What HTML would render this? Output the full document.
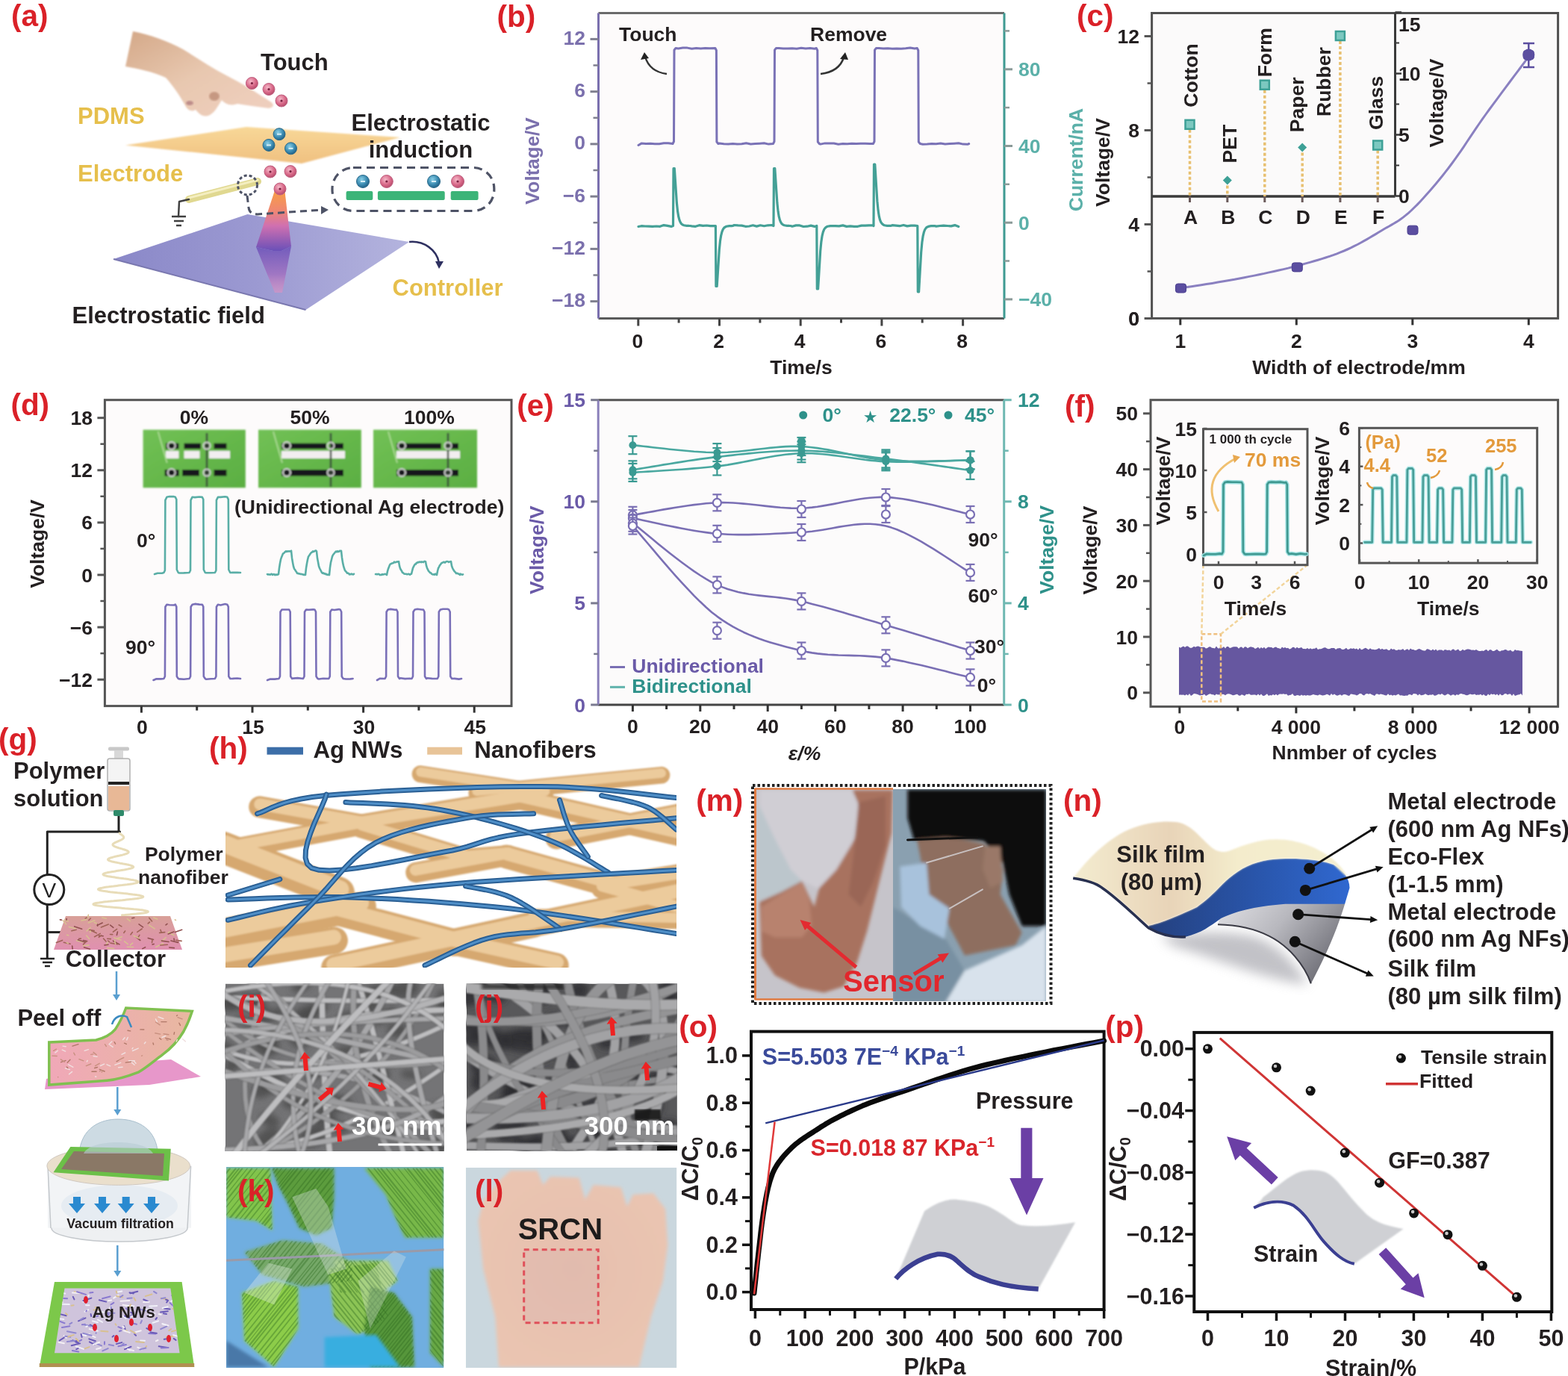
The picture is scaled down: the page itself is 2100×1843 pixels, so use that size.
<!DOCTYPE html><html><head><meta charset="utf-8"><style>html,body{margin:0;padding:0;background:#fff;}svg{display:block;}text{font-family:"Liberation Sans","DejaVu Sans",sans-serif;}</style></head><body>
<svg width="2100" height="1843" viewBox="0 0 2100 1843">
<rect width="2100" height="1843" fill="#ffffff"/>
<defs>
<filter id="blur1" x="-5%" y="-5%" width="110%" height="110%"><feGaussianBlur stdDeviation="0.8"/></filter>
<filter id="blur2" x="-5%" y="-5%" width="110%" height="110%"><feGaussianBlur stdDeviation="2"/></filter>
<filter id="blur3" x="-20%" y="-20%" width="140%" height="140%"><feGaussianBlur stdDeviation="4"/></filter>
<filter id="blur4" x="-20%" y="-20%" width="140%" height="140%"><feGaussianBlur stdDeviation="8"/></filter>
<linearGradient id="gphoto" x1="0" y1="0" x2="1" y2="1"><stop offset="0" stop-color="#7cc860" stop-opacity="0.5"/><stop offset="1" stop-color="#4ea43a" stop-opacity="0.5"/></linearGradient>
<radialGradient id="gpink" cx="0.4" cy="0.35" r="0.7"><stop offset="0" stop-color="#f4b8c8"/><stop offset="0.6" stop-color="#d86888"/><stop offset="1" stop-color="#b04868"/></radialGradient>
<radialGradient id="gblue" cx="0.4" cy="0.35" r="0.7"><stop offset="0" stop-color="#8ad0e8"/><stop offset="0.6" stop-color="#3a8ab0"/><stop offset="1" stop-color="#1e5a80"/></radialGradient>
<linearGradient id="gplane" x1="0" y1="0" x2="1" y2="0"><stop offset="0" stop-color="#8a88c8"/><stop offset="0.5" stop-color="#9c9ad2"/><stop offset="1" stop-color="#b4b4de"/></linearGradient>
<linearGradient id="gcone" x1="0" y1="0" x2="0" y2="1"><stop offset="0" stop-color="#f8a040"/><stop offset="0.35" stop-color="#f08870"/><stop offset="0.6" stop-color="#d070b0"/><stop offset="1" stop-color="#6a50b8"/></linearGradient>
<linearGradient id="gcone2" x1="0" y1="0" x2="0" y2="1"><stop offset="0" stop-color="#6a50b8"/><stop offset="0.6" stop-color="#a070c0"/><stop offset="1" stop-color="#e890c0" stop-opacity="0.6"/></linearGradient>
<linearGradient id="gpdms" x1="0" y1="0" x2="0" y2="1"><stop offset="0" stop-color="#f8d898"/><stop offset="1" stop-color="#f0c080"/></linearGradient>
<linearGradient id="ghand" x1="0" y1="0" x2="1" y2="1"><stop offset="0" stop-color="#d4a888"/><stop offset="0.5" stop-color="#e8c8b0"/><stop offset="1" stop-color="#f0d0c0"/></linearGradient>
<linearGradient id="gmat" x1="0" y1="0" x2="0" y2="1"><stop offset="0" stop-color="#d8a098"/><stop offset="1" stop-color="#e090b0"/></linearGradient>
<linearGradient id="gpeel" x1="0" y1="0" x2="1" y2="0"><stop offset="0" stop-color="#f0a8b8"/><stop offset="1" stop-color="#e8b8a0"/></linearGradient>
<linearGradient id="gnw" x1="0" y1="0" x2="1" y2="1"><stop offset="0" stop-color="#d8c8e0"/><stop offset="1" stop-color="#c8c0d8"/></linearGradient>
<radialGradient id="gskin" cx="0.5" cy="0.5" r="0.7"><stop offset="0" stop-color="#e6bfae"/><stop offset="1" stop-color="#ebc6b2"/></radialGradient>
<linearGradient id="ggray" x1="0" y1="0" x2="1" y2="0.6"><stop offset="0" stop-color="#e4e4e8"/><stop offset="0.5" stop-color="#b8b8be"/><stop offset="1" stop-color="#707078"/></linearGradient>
<linearGradient id="gnblue" x1="0" y1="0" x2="1" y2="0"><stop offset="0" stop-color="#24407e"/><stop offset="0.6" stop-color="#2a58b0"/><stop offset="1" stop-color="#3068d0"/></linearGradient>
<linearGradient id="gcream" x1="0" y1="0" x2="1" y2="0"><stop offset="0" stop-color="#f4ecd0"/><stop offset="0.35" stop-color="#e8d4b8"/><stop offset="0.6" stop-color="#f4eccc"/><stop offset="1" stop-color="#f4eed0"/></linearGradient>
</defs>
<polygon points="152,347 331.5,287 548,324 409.5,415" fill="url(#gplane)"/>
<line x1="152.0" y1="347.0" x2="409.5" y2="415.0" stroke="#7a78b0" stroke-width="2"/>
<path d="M369,252 L381,252 L390,330 L377,336 L366,336 L343,331 Z" fill="url(#gcone)"/>
<path d="M343,331 L366,336 L377,336 L390,330 L378,392 L368,392 Z" fill="url(#gcone2)" opacity="0.85"/>
<polygon points="168,194.5 330,170 536,184 404,219" fill="url(#gpdms)" filter="url(#blur1)"/>
<path d="M178,42 C200,46 225,55 245,66 C265,78 285,92 305,102 C325,112 345,125 362,136 C368,140 367,144 360,145 C345,143 330,141 318,139 C310,142 302,140 297,134 C292,142 287,152 279,155 C271,157 266,152 262,147 C257,150 252,148 249,143 C242,130 232,115 222,104 C205,96 185,92 168,89 Z" fill="url(#ghand)" filter="url(#blur1)"/>
<ellipse cx="287" cy="129" rx="7" ry="6" fill="#a87058" opacity="0.55" filter="url(#blur1)"/>
<ellipse cx="254" cy="138" rx="5" ry="3" fill="#905060" opacity="0.5" filter="url(#blur1)"/>
<circle cx="337.4" cy="111.5" r="8" fill="url(#gpink)" stroke="#c06080" stroke-width="1"/>
<circle cx="337.4" cy="111.5" r="1.6" fill="#7a2040" stroke="none" stroke-width="0"/>
<circle cx="360.0" cy="119.5" r="8" fill="url(#gpink)" stroke="#c06080" stroke-width="1"/>
<circle cx="360.0" cy="119.5" r="1.6" fill="#7a2040" stroke="none" stroke-width="0"/>
<circle cx="377.0" cy="135.0" r="8" fill="url(#gpink)" stroke="#c06080" stroke-width="1"/>
<circle cx="377.0" cy="135.0" r="1.6" fill="#7a2040" stroke="none" stroke-width="0"/>
<circle cx="374.0" cy="179.7" r="8" fill="url(#gblue)" stroke="#2a6a8a" stroke-width="1"/>
<line x1="371.0" y1="179.7" x2="377.0" y2="179.7" stroke="#d8f0f8" stroke-width="2"/>
<circle cx="360.0" cy="194.4" r="8" fill="url(#gblue)" stroke="#2a6a8a" stroke-width="1"/>
<line x1="357.0" y1="194.4" x2="363.0" y2="194.4" stroke="#d8f0f8" stroke-width="2"/>
<circle cx="389.5" cy="198.8" r="8" fill="url(#gblue)" stroke="#2a6a8a" stroke-width="1"/>
<line x1="386.5" y1="198.8" x2="392.5" y2="198.8" stroke="#d8f0f8" stroke-width="2"/>
<circle cx="362.0" cy="230.0" r="8" fill="url(#gpink)" stroke="#c06080" stroke-width="1"/>
<circle cx="362.0" cy="230.0" r="1.6" fill="#7a2040" stroke="none" stroke-width="0"/>
<circle cx="389.0" cy="229.6" r="8" fill="url(#gpink)" stroke="#c06080" stroke-width="1"/>
<circle cx="389.0" cy="229.6" r="1.6" fill="#7a2040" stroke="none" stroke-width="0"/>
<circle cx="375.0" cy="253.0" r="8" fill="url(#gpink)" stroke="#c06080" stroke-width="1"/>
<circle cx="375.0" cy="253.0" r="1.6" fill="#7a2040" stroke="none" stroke-width="0"/>
<line x1="253" y1="267" x2="345" y2="243" stroke="#e0d890" stroke-width="10" stroke-linecap="round"/>
<line x1="253" y1="265" x2="345" y2="241" stroke="#f4eec0" stroke-width="3" stroke-linecap="round"/>
<polyline points="253.0,267.0 240.0,270.0 239.0,290.0" fill="none" stroke="#404040" stroke-width="2.5" stroke-linejoin="round" stroke-linecap="round"/>
<line x1="230.0" y1="290.0" x2="249.0" y2="290.0" stroke="#404040" stroke-width="2.5"/>
<line x1="233.0" y1="296.0" x2="246.0" y2="296.0" stroke="#404040" stroke-width="2.5"/>
<line x1="236.0" y1="302.0" x2="243.0" y2="302.0" stroke="#404040" stroke-width="2.5"/>
<circle cx="331.5" cy="248.0" r="13.0" fill="none" stroke="#4e5366" stroke-width="3" stroke-dasharray="4 3"/>
<path d="M331,262 L333,278 C334,285 338,287 345,287 L432,281" fill="none" stroke="#4e5366" stroke-width="3" stroke-dasharray="9 6"/>
<polygon points="440.0,281.0 430.0,276.0 430.0,287.0" fill="#4e5366" stroke="none" stroke-width="0"/>
<rect x="445" y="224.5" width="216.8" height="58" rx="28" fill="none" stroke="#4e5366" stroke-width="3.2" stroke-dasharray="11 7"/>
<rect x="463.6" y="256.0" width="35.7" height="12.0" fill="#3cb478" stroke="none" stroke-width="0" rx="2"/>
<rect x="505.9" y="256.0" width="89.8" height="12.0" fill="#3cb478" stroke="none" stroke-width="0" rx="2"/>
<rect x="603.7" y="256.0" width="36.9" height="12.0" fill="#3cb478" stroke="none" stroke-width="0" rx="2"/>
<circle cx="486.0" cy="243.0" r="8.5" fill="url(#gblue)" stroke="#2a6a8a" stroke-width="1"/>
<line x1="483.0" y1="243.0" x2="489.0" y2="243.0" stroke="#d8f0f8" stroke-width="2"/>
<circle cx="517.8" cy="243.0" r="8.5" fill="url(#gpink)" stroke="#c06080" stroke-width="1"/>
<circle cx="517.8" cy="243.0" r="1.6" fill="#7a2040" stroke="none" stroke-width="0"/>
<circle cx="581.0" cy="243.0" r="8.5" fill="url(#gblue)" stroke="#2a6a8a" stroke-width="1"/>
<line x1="578.0" y1="243.0" x2="584.0" y2="243.0" stroke="#d8f0f8" stroke-width="2"/>
<circle cx="613.0" cy="243.0" r="8.5" fill="url(#gpink)" stroke="#c06080" stroke-width="1"/>
<circle cx="613.0" cy="243.0" r="1.6" fill="#7a2040" stroke="none" stroke-width="0"/>
<path d="M548,324 C568,322 585,335 588,352" fill="none" stroke="#2e3060" stroke-width="2.5"/>
<polygon points="588.0,360.0 583.0,350.0 594.0,350.0" fill="#2e3060" stroke="none" stroke-width="0"/>
<text x="349.0" y="94.0" font-size="31" fill="#231f20" text-anchor="start" font-weight="bold">Touch</text>
<text x="104.0" y="166.0" font-size="31" fill="#e6bf4c" text-anchor="start" font-weight="bold">PDMS</text>
<text x="104.0" y="242.5" font-size="31" fill="#e6bf4c" text-anchor="start" font-weight="bold">Electrode</text>
<text x="563.5" y="174.6" font-size="31" fill="#231f20" text-anchor="middle" font-weight="bold">Electrostatic</text>
<text x="563.5" y="210.6" font-size="31" fill="#231f20" text-anchor="middle" font-weight="bold">induction</text>
<text x="525.5" y="395.5" font-size="31" fill="#e6bf4c" text-anchor="start" font-weight="bold">Controller</text>
<text x="96.5" y="433.0" font-size="31" fill="#231f20" text-anchor="start" font-weight="bold">Electrostatic field</text>
<rect x="801.5" y="17.5" width="543.5" height="409.0" fill="#fdfbfb" stroke="none" stroke-width="0"/>
<line x1="801.5" y1="17.5" x2="1345.0" y2="17.5" stroke="#6b6b6b" stroke-width="3"/>
<line x1="801.5" y1="426.5" x2="1345.0" y2="426.5" stroke="#5a5a5a" stroke-width="3"/>
<line x1="801.5" y1="17.5" x2="801.5" y2="426.5" stroke="#7a6fae" stroke-width="3"/>
<line x1="1345.0" y1="17.5" x2="1345.0" y2="426.5" stroke="#3e9a92" stroke-width="3"/>
<line x1="790.5" y1="52.4" x2="801.5" y2="52.4" stroke="#7f7f8f" stroke-width="3"/>
<line x1="790.5" y1="122.7" x2="801.5" y2="122.7" stroke="#7f7f8f" stroke-width="3"/>
<line x1="790.5" y1="192.9" x2="801.5" y2="192.9" stroke="#7f7f8f" stroke-width="3"/>
<line x1="790.5" y1="263.1" x2="801.5" y2="263.1" stroke="#7f7f8f" stroke-width="3"/>
<line x1="790.5" y1="333.4" x2="801.5" y2="333.4" stroke="#7f7f8f" stroke-width="3"/>
<line x1="790.5" y1="403.6" x2="801.5" y2="403.6" stroke="#7f7f8f" stroke-width="3"/>
<line x1="794.5" y1="87.5" x2="801.5" y2="87.5" stroke="#7f7f8f" stroke-width="2.5"/>
<line x1="794.5" y1="157.8" x2="801.5" y2="157.8" stroke="#7f7f8f" stroke-width="2.5"/>
<line x1="794.5" y1="228.0" x2="801.5" y2="228.0" stroke="#7f7f8f" stroke-width="2.5"/>
<line x1="794.5" y1="298.2" x2="801.5" y2="298.2" stroke="#7f7f8f" stroke-width="2.5"/>
<line x1="794.5" y1="368.5" x2="801.5" y2="368.5" stroke="#7f7f8f" stroke-width="2.5"/>
<text x="784.0" y="59.9" font-size="26.5" fill="#7b70ad" text-anchor="end" font-weight="bold">12</text>
<text x="784.0" y="130.2" font-size="26.5" fill="#7b70ad" text-anchor="end" font-weight="bold">6</text>
<text x="784.0" y="200.4" font-size="26.5" fill="#7b70ad" text-anchor="end" font-weight="bold">0</text>
<text x="784.0" y="270.6" font-size="26.5" fill="#7b70ad" text-anchor="end" font-weight="bold">−6</text>
<text x="784.0" y="340.9" font-size="26.5" fill="#7b70ad" text-anchor="end" font-weight="bold">−12</text>
<text x="784.0" y="411.1" font-size="26.5" fill="#7b70ad" text-anchor="end" font-weight="bold">−18</text>
<line x1="1345.0" y1="92.8" x2="1356.0" y2="92.8" stroke="#8a9a98" stroke-width="3"/>
<line x1="1345.0" y1="195.5" x2="1356.0" y2="195.5" stroke="#8a9a98" stroke-width="3"/>
<line x1="1345.0" y1="298.2" x2="1356.0" y2="298.2" stroke="#8a9a98" stroke-width="3"/>
<line x1="1345.0" y1="400.9" x2="1356.0" y2="400.9" stroke="#8a9a98" stroke-width="3"/>
<line x1="1345.0" y1="41.4" x2="1352.0" y2="41.4" stroke="#8a9a98" stroke-width="2.5"/>
<line x1="1345.0" y1="144.1" x2="1352.0" y2="144.1" stroke="#8a9a98" stroke-width="2.5"/>
<line x1="1345.0" y1="246.8" x2="1352.0" y2="246.8" stroke="#8a9a98" stroke-width="2.5"/>
<line x1="1345.0" y1="349.5" x2="1352.0" y2="349.5" stroke="#8a9a98" stroke-width="2.5"/>
<text x="1364.0" y="102.3" font-size="26.5" fill="#5bb0a9" text-anchor="start" font-weight="bold">80</text>
<text x="1364.0" y="205.0" font-size="26.5" fill="#5bb0a9" text-anchor="start" font-weight="bold">40</text>
<text x="1364.0" y="307.7" font-size="26.5" fill="#5bb0a9" text-anchor="start" font-weight="bold">0</text>
<text x="1364.0" y="410.4" font-size="26.5" fill="#5bb0a9" text-anchor="start" font-weight="bold">−40</text>
<line x1="854.8" y1="426.5" x2="854.8" y2="436.5" stroke="#444" stroke-width="3"/>
<line x1="963.5" y1="426.5" x2="963.5" y2="436.5" stroke="#444" stroke-width="3"/>
<line x1="1072.2" y1="426.5" x2="1072.2" y2="436.5" stroke="#444" stroke-width="3"/>
<line x1="1180.9" y1="426.5" x2="1180.9" y2="436.5" stroke="#444" stroke-width="3"/>
<line x1="1289.6" y1="426.5" x2="1289.6" y2="436.5" stroke="#444" stroke-width="3"/>
<line x1="909.1" y1="426.5" x2="909.1" y2="432.5" stroke="#444" stroke-width="3"/>
<line x1="1017.9" y1="426.5" x2="1017.9" y2="432.5" stroke="#444" stroke-width="3"/>
<line x1="1126.5" y1="426.5" x2="1126.5" y2="432.5" stroke="#444" stroke-width="3"/>
<line x1="1235.2" y1="426.5" x2="1235.2" y2="432.5" stroke="#444" stroke-width="3"/>
<text x="853.8" y="466.0" font-size="26.5" fill="#231f20" text-anchor="middle" font-weight="bold">0</text>
<text x="962.5" y="466.0" font-size="26.5" fill="#231f20" text-anchor="middle" font-weight="bold">2</text>
<text x="1071.2" y="466.0" font-size="26.5" fill="#231f20" text-anchor="middle" font-weight="bold">4</text>
<text x="1179.9" y="466.0" font-size="26.5" fill="#231f20" text-anchor="middle" font-weight="bold">6</text>
<text x="1288.6" y="466.0" font-size="26.5" fill="#231f20" text-anchor="middle" font-weight="bold">8</text>
<text x="1073.0" y="501.0" font-size="26.5" fill="#231f20" text-anchor="middle" font-weight="bold">Time/s</text>
<text x="722.0" y="215.6" font-size="26" fill="#7b70ad" text-anchor="middle" font-weight="bold" transform="rotate(-90 722.0 215.6)">Voltage/V</text>
<polyline points="855.0,194.5 859.0,192.1 865.0,192.6 871.0,192.3 877.0,192.7 883.0,192.7 889.0,191.8 895.0,191.7 901.0,192.5 902.5,189.5 903.0,67.0 905.0,64.5 908.5,65.0 914.5,64.1 920.5,64.1 926.5,65.3 932.5,64.5 938.5,65.0 944.5,64.5 950.5,64.7 957.9,64.5 959.4,67.5 959.9,190.0 961.9,192.5 963.4,191.9 969.4,192.7 975.4,193.1 981.4,192.5 987.4,192.9 993.4,192.8 999.4,191.8 1005.4,192.9 1011.4,192.6 1017.4,192.2 1023.4,191.7 1029.4,193.1 1035.5,192.5 1037.0,189.5 1037.5,67.0 1039.5,64.5 1043.0,64.5 1049.0,64.9 1055.0,65.1 1061.0,64.8 1067.0,65.2 1073.0,64.3 1079.0,65.0 1085.0,64.4 1091.0,65.2 1093.3,64.5 1094.8,67.5 1095.3,190.0 1097.3,192.5 1098.8,193.1 1104.8,191.9 1110.8,191.9 1116.8,192.0 1122.8,193.2 1128.8,192.4 1134.8,192.7 1140.8,192.2 1146.8,192.5 1152.8,192.3 1158.8,192.3 1164.8,192.6 1169.5,192.5 1171.0,189.5 1171.5,67.0 1173.5,64.5 1177.0,64.6 1183.0,65.1 1189.0,64.8 1195.0,65.2 1201.0,65.1 1207.0,65.3 1213.0,64.8 1219.0,64.0 1225.0,65.1 1228.3,64.5 1229.8,67.5 1230.3,190.0 1232.3,192.5 1235.8,193.2 1241.8,193.1 1247.8,192.6 1253.8,192.8 1259.8,192.0 1265.8,193.0 1271.8,192.6 1277.8,192.2 1283.8,191.8 1289.8,193.1 1295.8,193.3 1297.7,192.5" fill="none" stroke="#7a72b6" stroke-width="3.0" stroke-linejoin="round" stroke-linecap="round"/>
<polyline points="855.0,303.5 859.0,302.7 864.0,303.0 869.0,303.1 874.0,303.4 879.0,303.0 884.0,303.3 889.0,301.6 894.0,302.4 899.0,303.4 901.5,302.5 902.0,225.7 903.3,225.7 905.2,254.1 906.4,272.0 907.6,283.3 908.8,290.4 910.0,294.9 911.2,297.7 912.4,299.5 913.6,300.6 914.8,301.3 916.0,301.7 917.2,302.0 918.4,302.2 919.6,302.3 920.8,302.4 922.0,302.4 923.2,302.5 924.4,302.5 926.5,302.8 931.5,303.3 936.5,301.7 941.5,302.4 946.5,302.0 951.5,302.6 956.5,302.6 958.4,302.5 958.9,383.5 960.2,383.5 962.1,353.6 963.3,334.7 964.5,322.8 965.7,315.3 966.9,310.6 968.1,307.6 969.3,305.7 970.5,304.5 971.7,303.8 972.9,303.3 974.1,303.0 975.3,302.8 976.5,302.7 977.7,302.6 978.9,302.6 980.1,302.6 981.3,302.5 983.4,301.5 988.4,301.9 993.4,302.1 998.4,303.3 1003.4,303.0 1008.4,301.8 1013.4,303.1 1018.4,301.8 1023.4,302.7 1028.4,301.8 1033.4,301.5 1036.0,302.5 1036.5,225.7 1037.8,225.7 1039.7,254.1 1040.9,272.0 1042.1,283.3 1043.3,290.4 1044.5,294.9 1045.7,297.7 1046.9,299.5 1048.1,300.6 1049.3,301.3 1050.5,301.7 1051.7,302.0 1052.9,302.2 1054.1,302.3 1055.3,302.4 1056.5,302.4 1057.7,302.5 1058.9,302.5 1061.0,303.2 1066.0,301.9 1071.0,301.9 1076.0,303.5 1081.0,303.2 1086.0,302.1 1091.0,303.4 1093.8,302.5 1094.3,387.0 1095.6,387.0 1097.5,355.8 1098.7,336.1 1099.9,323.7 1101.1,315.8 1102.3,310.9 1103.5,307.8 1104.7,305.8 1105.9,304.6 1107.1,303.8 1108.3,303.3 1109.5,303.0 1110.7,302.8 1111.9,302.7 1113.1,302.6 1114.3,302.6 1115.5,302.6 1116.7,302.5 1118.8,302.6 1123.8,302.9 1128.8,301.9 1133.8,303.4 1138.8,302.9 1143.8,303.4 1148.8,303.3 1153.8,302.1 1158.8,302.2 1163.8,301.8 1168.8,301.8 1170.0,302.5 1170.5,220.0 1171.8,220.0 1173.7,250.5 1174.9,269.7 1176.1,281.8 1177.3,289.5 1178.5,294.3 1179.7,297.3 1180.9,299.2 1182.1,300.4 1183.3,301.2 1184.5,301.7 1185.7,302.0 1186.9,302.2 1188.1,302.3 1189.3,302.4 1190.5,302.4 1191.7,302.4 1192.9,302.5 1195.0,301.6 1200.0,302.1 1205.0,302.7 1210.0,301.5 1215.0,302.9 1220.0,302.2 1225.0,302.1 1228.8,302.5 1229.3,390.8 1230.6,390.8 1232.5,358.2 1233.7,337.6 1234.9,324.6 1236.1,316.4 1237.3,311.3 1238.5,308.0 1239.7,306.0 1240.9,304.7 1242.1,303.9 1243.3,303.4 1244.5,303.1 1245.7,302.8 1246.9,302.7 1248.1,302.6 1249.3,302.6 1250.5,302.6 1251.7,302.5 1253.8,303.1 1258.8,302.5 1263.8,302.1 1268.8,302.5 1273.8,302.9 1278.8,301.6 1283.8,303.5" fill="none" stroke="#44a096" stroke-width="3.2" stroke-linejoin="round" stroke-linecap="round"/>
<text x="829.0" y="55.0" font-size="26.5" fill="#231f20" text-anchor="start" font-weight="bold">Touch</text>
<text x="1085.0" y="55.0" font-size="26.5" fill="#231f20" text-anchor="start" font-weight="bold">Remove</text>
<path d="M893,99 Q870,96 864,76" fill="none" stroke="#333" stroke-width="2.5"/>
<polygon points="863.0,70.0 858.0,80.0 869.0,78.0" fill="#222" stroke="none" stroke-width="0"/>
<path d="M1099,99 Q1124,96 1130,77" fill="none" stroke="#333" stroke-width="2.5"/>
<polygon points="1132.0,70.0 1125.0,79.0 1136.0,80.0" fill="#222" stroke="none" stroke-width="0"/>
<rect x="1542.6" y="17.5" width="544.0" height="408.9" fill="#fbfafa" stroke="none" stroke-width="0"/>
<rect x="1542.6" y="17.5" width="544.0" height="408.9" fill="none" stroke="#505050" stroke-width="3"/>
<line x1="1532.6" y1="48.5" x2="1542.6" y2="48.5" stroke="#555" stroke-width="3"/>
<line x1="1532.6" y1="174.5" x2="1542.6" y2="174.5" stroke="#555" stroke-width="3"/>
<line x1="1532.6" y1="300.5" x2="1542.6" y2="300.5" stroke="#555" stroke-width="3"/>
<line x1="1532.6" y1="426.5" x2="1542.6" y2="426.5" stroke="#555" stroke-width="3"/>
<line x1="1536.6" y1="111.5" x2="1542.6" y2="111.5" stroke="#555" stroke-width="2.5"/>
<line x1="1536.6" y1="237.5" x2="1542.6" y2="237.5" stroke="#555" stroke-width="2.5"/>
<line x1="1536.6" y1="363.5" x2="1542.6" y2="363.5" stroke="#555" stroke-width="2.5"/>
<text x="1526.0" y="58.0" font-size="26.5" fill="#231f20" text-anchor="end" font-weight="bold">12</text>
<text x="1526.0" y="184.0" font-size="26.5" fill="#231f20" text-anchor="end" font-weight="bold">8</text>
<text x="1526.0" y="310.0" font-size="26.5" fill="#231f20" text-anchor="end" font-weight="bold">4</text>
<text x="1526.0" y="436.0" font-size="26.5" fill="#231f20" text-anchor="end" font-weight="bold">0</text>
<text x="1526.0" y="435.9" font-size="26.5" fill="#231f20" text-anchor="end" font-weight="bold">0</text>
<line x1="1580.8" y1="426.4" x2="1580.8" y2="435.4" stroke="#333" stroke-width="3"/>
<line x1="1736.3" y1="426.4" x2="1736.3" y2="435.4" stroke="#333" stroke-width="3"/>
<line x1="1891.8" y1="426.4" x2="1891.8" y2="435.4" stroke="#333" stroke-width="3"/>
<line x1="2047.3" y1="426.4" x2="2047.3" y2="435.4" stroke="#333" stroke-width="3"/>
<text x="1580.8" y="466.0" font-size="26.5" fill="#231f20" text-anchor="middle" font-weight="bold">1</text>
<text x="1736.3" y="466.0" font-size="26.5" fill="#231f20" text-anchor="middle" font-weight="bold">2</text>
<text x="1891.8" y="466.0" font-size="26.5" fill="#231f20" text-anchor="middle" font-weight="bold">3</text>
<text x="2047.3" y="466.0" font-size="26.5" fill="#231f20" text-anchor="middle" font-weight="bold">4</text>
<text x="1820.0" y="500.7" font-size="26.5" fill="#231f20" text-anchor="middle" font-weight="bold">Width of electrode/mm</text>
<text x="1486.0" y="217.5" font-size="26.5" fill="#231f20" text-anchor="middle" font-weight="bold" transform="rotate(-90 1486.0 217.5)">Voltage/V</text>
<text x="1449.5" y="214.0" font-size="26.5" fill="#5bb0a9" text-anchor="middle" font-weight="bold" transform="rotate(-90 1449.5 214.0)">Current/nA</text>
<line x1="1868.5" y1="17.5" x2="1868.5" y2="263.0" stroke="#3a3a3a" stroke-width="3"/>
<line x1="1542.6" y1="263.0" x2="1868.5" y2="263.0" stroke="#3a3a3a" stroke-width="3.5"/>
<line x1="1868.5" y1="262.5" x2="1877.0" y2="262.5" stroke="#3a3a3a" stroke-width="2.5"/>
<line x1="1868.5" y1="180.5" x2="1877.0" y2="180.5" stroke="#3a3a3a" stroke-width="2.5"/>
<line x1="1868.5" y1="98.5" x2="1877.0" y2="98.5" stroke="#3a3a3a" stroke-width="2.5"/>
<line x1="1868.5" y1="16.5" x2="1877.0" y2="16.5" stroke="#3a3a3a" stroke-width="2.5"/>
<line x1="1868.5" y1="221.5" x2="1874.0" y2="221.5" stroke="#3a3a3a" stroke-width="2"/>
<line x1="1868.5" y1="139.5" x2="1874.0" y2="139.5" stroke="#3a3a3a" stroke-width="2"/>
<line x1="1868.5" y1="57.5" x2="1874.0" y2="57.5" stroke="#3a3a3a" stroke-width="2"/>
<text x="1873.0" y="272.0" font-size="26.5" fill="#231f20" text-anchor="start" font-weight="bold">0</text>
<text x="1873.0" y="190.0" font-size="26.5" fill="#231f20" text-anchor="start" font-weight="bold">5</text>
<text x="1873.0" y="108.0" font-size="26.5" fill="#231f20" text-anchor="start" font-weight="bold">10</text>
<text x="1873.0" y="42.0" font-size="26.5" fill="#231f20" text-anchor="start" font-weight="bold">15</text>
<text x="1933.0" y="138.0" font-size="26.5" fill="#231f20" text-anchor="middle" font-weight="bold" transform="rotate(-90 1933.0 138.0)">Voltage/V</text>
<line x1="1593.5" y1="166.8" x2="1593.5" y2="263.0" stroke="#e8c070" stroke-width="3.5" stroke-dasharray="4 3"/>
<line x1="1593.5" y1="263.0" x2="1593.5" y2="271.0" stroke="#6a5a5a" stroke-width="3"/>
<text x="1594.5" y="299.7" font-size="26.5" fill="#231f20" text-anchor="middle" font-weight="bold">A</text>
<line x1="1643.8" y1="241.4" x2="1643.8" y2="263.0" stroke="#e8c070" stroke-width="3.5" stroke-dasharray="4 3"/>
<line x1="1643.8" y1="263.0" x2="1643.8" y2="271.0" stroke="#6a5a5a" stroke-width="3"/>
<text x="1644.8" y="299.7" font-size="26.5" fill="#231f20" text-anchor="middle" font-weight="bold">B</text>
<line x1="1693.8" y1="113.7" x2="1693.8" y2="263.0" stroke="#e8c070" stroke-width="3.5" stroke-dasharray="4 3"/>
<line x1="1693.8" y1="263.0" x2="1693.8" y2="271.0" stroke="#6a5a5a" stroke-width="3"/>
<text x="1694.8" y="299.7" font-size="26.5" fill="#231f20" text-anchor="middle" font-weight="bold">C</text>
<line x1="1744.2" y1="197.6" x2="1744.2" y2="263.0" stroke="#e8c070" stroke-width="3.5" stroke-dasharray="4 3"/>
<line x1="1744.2" y1="263.0" x2="1744.2" y2="271.0" stroke="#6a5a5a" stroke-width="3"/>
<text x="1745.2" y="299.7" font-size="26.5" fill="#231f20" text-anchor="middle" font-weight="bold">D</text>
<line x1="1794.9" y1="48.0" x2="1794.9" y2="263.0" stroke="#e8c070" stroke-width="3.5" stroke-dasharray="4 3"/>
<line x1="1794.9" y1="263.0" x2="1794.9" y2="271.0" stroke="#6a5a5a" stroke-width="3"/>
<text x="1795.9" y="299.7" font-size="26.5" fill="#231f20" text-anchor="middle" font-weight="bold">E</text>
<line x1="1845.2" y1="194.5" x2="1845.2" y2="263.0" stroke="#e8c070" stroke-width="3.5" stroke-dasharray="4 3"/>
<line x1="1845.2" y1="263.0" x2="1845.2" y2="271.0" stroke="#6a5a5a" stroke-width="3"/>
<text x="1846.2" y="299.7" font-size="26.5" fill="#231f20" text-anchor="middle" font-weight="bold">F</text>
<rect x="1587.5" y="160.8" width="12.0" height="12.0" fill="#7cc8c0" stroke="#3da096" stroke-width="2.5"/>
<polygon points="1643.8,235.4 1649.8,241.4 1643.8,247.4 1637.8,241.4" fill="#3da096" stroke="none" stroke-width="0"/>
<rect x="1687.8" y="107.7" width="12.0" height="12.0" fill="#7cc8c0" stroke="#3da096" stroke-width="2.5"/>
<polygon points="1744.2,191.6 1750.2,197.6 1744.2,203.6 1738.2,197.6" fill="#3da096" stroke="none" stroke-width="0"/>
<rect x="1788.9" y="42.0" width="12.0" height="12.0" fill="#7cc8c0" stroke="#3da096" stroke-width="2.5"/>
<rect x="1839.2" y="188.5" width="12.0" height="12.0" fill="#7cc8c0" stroke="#3da096" stroke-width="2.5"/>
<text x="1604.2" y="101.0" font-size="26.5" fill="#231f20" text-anchor="middle" font-weight="bold" transform="rotate(-90 1604.2 101.0)">Cotton</text>
<text x="1655.6" y="192.6" font-size="26.5" fill="#231f20" text-anchor="middle" font-weight="bold" transform="rotate(-90 1655.6 192.6)">PET</text>
<text x="1703.5" y="70.2" font-size="26.5" fill="#231f20" text-anchor="middle" font-weight="bold" transform="rotate(-90 1703.5 70.2)">Form</text>
<text x="1746.0" y="140.3" font-size="26.5" fill="#231f20" text-anchor="middle" font-weight="bold" transform="rotate(-90 1746.0 140.3)">Paper</text>
<text x="1782.3" y="109.6" font-size="26.5" fill="#231f20" text-anchor="middle" font-weight="bold" transform="rotate(-90 1782.3 109.6)">Rubber</text>
<text x="1852.5" y="137.8" font-size="26.5" fill="#231f20" text-anchor="middle" font-weight="bold" transform="rotate(-90 1852.5 137.8)">Glass</text>
<polyline points="1581.5,386.0 1585.3,385.4 1590.1,384.6 1595.6,383.8 1601.9,382.8 1608.7,381.7 1615.9,380.6 1623.4,379.4 1631.0,378.1 1638.6,376.8 1646.1,375.5 1653.3,374.3 1660.0,373.0 1666.5,371.7 1673.1,370.4 1679.8,369.1 1686.4,367.7 1693.0,366.4 1699.6,364.9 1706.2,363.5 1712.7,362.0 1719.0,360.6 1725.3,359.1 1731.4,357.5 1737.3,356.0 1743.1,354.5 1748.7,352.9 1754.3,351.4 1759.8,349.8 1765.1,348.2 1770.4,346.6 1775.5,345.0 1780.6,343.3 1785.6,341.6 1790.5,339.8 1795.3,337.9 1800.0,336.0 1804.6,334.0 1809.2,331.9 1813.6,329.7 1818.0,327.5 1822.2,325.2 1826.4,322.9 1830.5,320.6 1834.5,318.3 1838.5,315.9 1842.4,313.6 1846.2,311.3 1850.0,309.0 1853.7,306.8 1857.1,304.8 1860.5,303.0 1863.7,301.1 1866.9,299.3 1870.0,297.4 1873.1,295.4 1876.3,293.2 1879.5,290.9 1882.9,288.2 1886.3,285.3 1890.0,282.0 1893.8,278.3 1897.8,274.4 1901.8,270.2 1905.9,265.8 1910.1,261.1 1914.4,256.3 1918.7,251.3 1923.0,246.2 1927.3,241.0 1931.6,235.7 1935.8,230.4 1940.0,225.0 1944.1,219.5 1948.2,213.9 1952.3,208.2 1956.4,202.3 1960.5,196.3 1964.5,190.2 1968.6,184.1 1972.8,177.9 1977.0,171.7 1981.2,165.5 1985.6,159.2 1990.0,153.0 1994.7,146.5 1999.8,139.6 2005.2,132.3 2010.7,124.9 2016.3,117.4 2021.8,110.0 2027.1,102.9 2032.2,96.1 2036.8,90.0 2041.0,84.4 2044.5,79.7 2047.3,76.0" fill="none" stroke="#8a80c0" stroke-width="3" stroke-linejoin="round" stroke-linecap="round"/>
<rect x="1574.5" y="380.0" width="14.0" height="12.0" fill="#5b4ea0" stroke="#4a3f90" stroke-width="1" rx="3"/>
<rect x="1730.3" y="351.9" width="14.0" height="12.0" fill="#5b4ea0" stroke="#4a3f90" stroke-width="1" rx="3"/>
<rect x="1885.0" y="302.2" width="14.0" height="12.0" fill="#5b4ea0" stroke="#4a3f90" stroke-width="1" rx="3"/>
<rect x="2040.3" y="67.6" width="14.0" height="12.0" fill="#5b4ea0" stroke="#4a3f90" stroke-width="1" rx="3"/>
<line x1="2047.3" y1="58.0" x2="2047.3" y2="90.0" stroke="#5b4ea0" stroke-width="2.5"/>
<line x1="2040.0" y1="58.0" x2="2055.0" y2="58.0" stroke="#5b4ea0" stroke-width="2.5"/>
<line x1="2040.0" y1="90.0" x2="2055.0" y2="90.0" stroke="#5b4ea0" stroke-width="2.5"/>
<circle cx="2047.3" cy="73.6" r="8.0" fill="#5b4ea0" stroke="none" stroke-width="0"/>
<rect x="140.4" y="535.7" width="544.6" height="409.9" fill="#fdfbfb" stroke="none" stroke-width="0"/>
<rect x="140.4" y="535.7" width="544.6" height="409.9" fill="none" stroke="#555" stroke-width="3"/>
<line x1="130.4" y1="559.7" x2="140.4" y2="559.7" stroke="#555" stroke-width="3"/>
<line x1="130.4" y1="629.8" x2="140.4" y2="629.8" stroke="#555" stroke-width="3"/>
<line x1="130.4" y1="699.9" x2="140.4" y2="699.9" stroke="#555" stroke-width="3"/>
<line x1="130.4" y1="770.0" x2="140.4" y2="770.0" stroke="#555" stroke-width="3"/>
<line x1="130.4" y1="840.1" x2="140.4" y2="840.1" stroke="#555" stroke-width="3"/>
<line x1="130.4" y1="910.2" x2="140.4" y2="910.2" stroke="#555" stroke-width="3"/>
<line x1="134.4" y1="594.7" x2="140.4" y2="594.7" stroke="#555" stroke-width="2.5"/>
<line x1="134.4" y1="664.8" x2="140.4" y2="664.8" stroke="#555" stroke-width="2.5"/>
<line x1="134.4" y1="734.9" x2="140.4" y2="734.9" stroke="#555" stroke-width="2.5"/>
<line x1="134.4" y1="805.0" x2="140.4" y2="805.0" stroke="#555" stroke-width="2.5"/>
<line x1="134.4" y1="875.1" x2="140.4" y2="875.1" stroke="#555" stroke-width="2.5"/>
<text x="124.0" y="569.2" font-size="26.5" fill="#231f20" text-anchor="end" font-weight="bold">18</text>
<text x="124.0" y="639.3" font-size="26.5" fill="#231f20" text-anchor="end" font-weight="bold">12</text>
<text x="124.0" y="709.4" font-size="26.5" fill="#231f20" text-anchor="end" font-weight="bold">6</text>
<text x="124.0" y="779.5" font-size="26.5" fill="#231f20" text-anchor="end" font-weight="bold">0</text>
<text x="124.0" y="849.6" font-size="26.5" fill="#231f20" text-anchor="end" font-weight="bold">−6</text>
<text x="124.0" y="919.7" font-size="26.5" fill="#231f20" text-anchor="end" font-weight="bold">−12</text>
<line x1="189.4" y1="945.6" x2="189.4" y2="954.6" stroke="#333" stroke-width="3"/>
<line x1="338.0" y1="945.6" x2="338.0" y2="954.6" stroke="#333" stroke-width="3"/>
<line x1="486.6" y1="945.6" x2="486.6" y2="954.6" stroke="#333" stroke-width="3"/>
<line x1="635.2" y1="945.6" x2="635.2" y2="954.6" stroke="#333" stroke-width="3"/>
<line x1="263.7" y1="945.6" x2="263.7" y2="951.6" stroke="#333" stroke-width="3"/>
<line x1="412.3" y1="945.6" x2="412.3" y2="951.6" stroke="#333" stroke-width="3"/>
<line x1="560.9" y1="945.6" x2="560.9" y2="951.6" stroke="#333" stroke-width="3"/>
<text x="190.4" y="982.6" font-size="26.5" fill="#231f20" text-anchor="middle" font-weight="bold">0</text>
<text x="339.0" y="982.6" font-size="26.5" fill="#231f20" text-anchor="middle" font-weight="bold">15</text>
<text x="487.6" y="982.6" font-size="26.5" fill="#231f20" text-anchor="middle" font-weight="bold">30</text>
<text x="636.2" y="982.6" font-size="26.5" fill="#231f20" text-anchor="middle" font-weight="bold">45</text>
<text x="59.5" y="728.4" font-size="26.5" fill="#231f20" text-anchor="middle" font-weight="bold" transform="rotate(-90 59.5 728.4)">Voltage/V</text>
<text x="260.0" y="568.0" font-size="26.5" fill="#231f20" text-anchor="middle" font-weight="bold">0%</text>
<text x="415.0" y="568.0" font-size="26.5" fill="#231f20" text-anchor="middle" font-weight="bold">50%</text>
<text x="575.0" y="568.0" font-size="26.5" fill="#231f20" text-anchor="middle" font-weight="bold">100%</text>
<text x="314.0" y="688.0" font-size="26.5" fill="#231f20" text-anchor="start" font-weight="bold">(Unidirectional Ag electrode)</text>
<text x="183.0" y="732.6" font-size="26.5" fill="#231f20" text-anchor="start" font-weight="bold">0°</text>
<text x="168.0" y="876.4" font-size="26.5" fill="#231f20" text-anchor="start" font-weight="bold">90°</text>
<g filter="url(#blur1)">
<rect x="191.7" y="575.7" width="137.0" height="77.5" fill="#67b94a" stroke="none" stroke-width="0"/>
<rect x="191.7" y="575.7" width="137.0" height="77.5" fill="url(#gphoto)" stroke="none" stroke-width="0"/>
<rect x="222.0" y="593.7" width="17.5" height="7.5" fill="#15181a" stroke="none" stroke-width="0"/>
<rect x="246.5" y="593.7" width="22.5" height="7.5" fill="#15181a" stroke="none" stroke-width="0"/>
<rect x="274.0" y="593.7" width="6.0" height="7.5" fill="#15181a" stroke="none" stroke-width="0"/>
<rect x="286.5" y="593.7" width="17.0" height="7.5" fill="#15181a" stroke="none" stroke-width="0"/>
<rect x="222.0" y="604.0" width="17.5" height="10.0" fill="#f2eef0" stroke="none" stroke-width="0"/>
<rect x="246.5" y="604.0" width="21.0" height="10.0" fill="#f2eef0" stroke="none" stroke-width="0"/>
<rect x="280.0" y="604.0" width="28.0" height="10.0" fill="#f2eef0" stroke="none" stroke-width="0"/>
<rect x="220.7" y="629.0" width="19.0" height="8.5" fill="#15181a" stroke="none" stroke-width="0"/>
<rect x="244.0" y="629.0" width="23.0" height="8.5" fill="#15181a" stroke="none" stroke-width="0"/>
<rect x="274.0" y="629.0" width="6.0" height="8.5" fill="#15181a" stroke="none" stroke-width="0"/>
<rect x="286.5" y="629.0" width="17.0" height="8.5" fill="#15181a" stroke="none" stroke-width="0"/>
<line x1="277.0" y1="580.0" x2="277.0" y2="652.0" stroke="#3b4a3a" stroke-width="2.5"/>
<circle cx="229.7" cy="597.0" r="5.0" fill="none" stroke="#d8d8d8" stroke-width="2"/>
<circle cx="277.0" cy="597.0" r="4.5" fill="none" stroke="#d8d8d8" stroke-width="2"/>
<circle cx="229.7" cy="633.0" r="5.0" fill="none" stroke="#d8d8d8" stroke-width="2"/>
<circle cx="277.0" cy="633.0" r="4.5" fill="none" stroke="#d8d8d8" stroke-width="2"/>
<line x1="211.7" y1="578.0" x2="223.7" y2="620.0" stroke="#a8d890" stroke-width="2"/>
<rect x="346.0" y="575.7" width="137.7" height="77.5" fill="#67b94a" stroke="none" stroke-width="0"/>
<rect x="346.0" y="575.7" width="137.7" height="77.5" fill="url(#gphoto)" stroke="none" stroke-width="0"/>
<rect x="377.0" y="593.7" width="60.0" height="7.5" fill="#15181a" stroke="none" stroke-width="0"/>
<rect x="443.0" y="593.7" width="17.0" height="7.5" fill="#15181a" stroke="none" stroke-width="0"/>
<rect x="377.0" y="604.0" width="85.0" height="10.0" fill="#f2eef0" stroke="none" stroke-width="0"/>
<rect x="377.0" y="629.0" width="83.0" height="8.5" fill="#15181a" stroke="none" stroke-width="0"/>
<line x1="443.0" y1="580.0" x2="443.0" y2="652.0" stroke="#3b4a3a" stroke-width="2.5"/>
<circle cx="384.0" cy="597.0" r="5.0" fill="none" stroke="#d8d8d8" stroke-width="2"/>
<circle cx="443.0" cy="597.0" r="4.5" fill="none" stroke="#d8d8d8" stroke-width="2"/>
<circle cx="384.0" cy="633.0" r="5.0" fill="none" stroke="#d8d8d8" stroke-width="2"/>
<circle cx="443.0" cy="633.0" r="4.5" fill="none" stroke="#d8d8d8" stroke-width="2"/>
<line x1="366.0" y1="578.0" x2="378.0" y2="620.0" stroke="#a8d890" stroke-width="2"/>
<rect x="500.0" y="575.7" width="139.0" height="77.5" fill="#67b94a" stroke="none" stroke-width="0"/>
<rect x="500.0" y="575.7" width="139.0" height="77.5" fill="url(#gphoto)" stroke="none" stroke-width="0"/>
<rect x="531.0" y="593.7" width="60.0" height="7.5" fill="#15181a" stroke="none" stroke-width="0"/>
<rect x="597.0" y="593.7" width="17.0" height="7.5" fill="#15181a" stroke="none" stroke-width="0"/>
<rect x="531.0" y="604.0" width="85.0" height="10.0" fill="#f2eef0" stroke="none" stroke-width="0"/>
<rect x="531.0" y="629.0" width="83.0" height="8.5" fill="#15181a" stroke="none" stroke-width="0"/>
<line x1="600.0" y1="580.0" x2="600.0" y2="652.0" stroke="#3b4a3a" stroke-width="2.5"/>
<circle cx="538.0" cy="597.0" r="5.0" fill="none" stroke="#d8d8d8" stroke-width="2"/>
<circle cx="600.0" cy="597.0" r="4.5" fill="none" stroke="#d8d8d8" stroke-width="2"/>
<circle cx="538.0" cy="633.0" r="5.0" fill="none" stroke="#d8d8d8" stroke-width="2"/>
<circle cx="600.0" cy="633.0" r="4.5" fill="none" stroke="#d8d8d8" stroke-width="2"/>
<line x1="520.0" y1="578.0" x2="532.0" y2="620.0" stroke="#a8d890" stroke-width="2"/>
</g>
<polyline points="207.0,769.0 211.0,767.7 217.0,767.7 219.4,767.0 220.9,764.0 221.4,669.8 223.4,665.8 226.9,665.1 232.9,665.1 234.8,665.8 236.3,668.8 236.8,763.0 238.8,767.0 240.3,767.5 246.3,767.4 253.5,767.0 255.0,764.0 255.5,669.8 257.5,665.8 261.0,666.1 267.0,665.5 270.8,665.8 272.3,668.8 272.8,763.0 274.8,767.0 276.3,767.2 282.3,767.2 287.9,767.0 289.4,764.0 289.9,669.8 291.9,665.8 295.4,665.9 301.4,665.3 304.3,665.8 305.8,668.8 306.3,763.0 308.3,767.0 311.8,766.9 317.8,766.8 322.0,767.0" fill="none" stroke="#5aaea6" stroke-width="2.6" stroke-linejoin="round" stroke-linecap="round"/>
<polyline points="358.0,769.1 359.0,769.6 360.0,769.3 361.0,769.6 362.0,769.7 363.0,768.9 364.0,768.8 365.0,770.0 366.0,769.2 367.0,769.1 368.0,770.2 369.0,769.5 370.0,770.0 371.0,769.5 372.0,769.7 373.0,769.0 374.0,760.7 375.0,754.5 376.0,749.4 377.0,746.4 378.0,743.9 379.0,741.4 380.0,741.1 381.0,740.0 382.0,739.0 383.0,738.2 384.0,739.0 385.0,738.2 386.0,738.4 387.0,738.5 388.0,738.2 389.0,738.4 390.0,737.7 391.0,747.2 392.0,753.2 393.0,758.5 394.0,761.7 395.0,763.0 396.0,764.7 397.0,766.0 398.0,767.9 399.0,767.8 400.0,768.5 401.0,768.4 402.0,768.9 403.0,768.9 404.0,769.0 405.0,769.4 406.0,769.5 407.0,770.0 408.0,769.7 409.0,770.0 410.0,760.9 411.0,754.7 412.0,749.6 413.0,745.6 414.0,744.2 415.0,742.6 416.0,741.3 417.0,740.0 418.0,739.6 419.0,738.4 420.0,739.0 421.0,738.4 422.0,737.8 423.0,737.4 424.0,738.4 425.0,747.6 426.0,752.7 427.0,758.3 428.0,761.0 429.0,763.0 430.0,764.9 431.0,766.8 432.0,767.8 433.0,767.3 434.0,768.5 435.0,768.1 436.0,769.2 437.0,768.8 438.0,769.7 439.0,770.0 440.0,769.4 441.0,770.1 442.0,760.1 443.0,753.4 444.0,749.5 445.0,745.4 446.0,743.3 447.0,741.9 448.0,740.9 449.0,739.4 450.0,738.6 451.0,739.3 452.0,738.2 453.0,738.9 454.0,738.7 455.0,737.8 456.0,737.9 457.0,737.9 458.0,747.0 459.0,753.4 460.0,757.9 461.0,761.3 462.0,764.1 463.0,765.2 464.0,766.3 465.0,767.6 466.0,767.6 467.0,768.1 468.0,769.4 469.0,768.9 470.0,769.2 471.0,768.5 472.0,769.2 473.0,769.5 474.0,768.7" fill="none" stroke="#5aaea6" stroke-width="2.6" stroke-linejoin="round" stroke-linecap="round"/>
<polyline points="503.0,769.1 504.0,768.9 505.0,769.4 506.0,769.0 507.0,768.9 508.0,769.4 509.0,770.1 510.0,769.9 511.0,769.9 512.0,769.1 513.0,769.6 514.0,769.2 515.0,769.0 516.0,768.9 517.0,769.1 518.0,770.1 519.0,765.1 520.0,761.7 521.0,759.2 522.0,756.6 523.0,755.4 524.0,755.0 525.0,754.5 526.0,754.2 527.0,753.9 528.0,752.5 529.0,753.1 530.0,753.1 531.0,752.7 532.0,752.2 533.0,752.6 534.0,752.0 535.0,758.0 536.0,761.3 537.0,763.3 538.0,764.8 539.0,766.9 540.0,767.3 541.0,768.4 542.0,768.8 543.0,768.7 544.0,768.8 545.0,769.2 546.0,769.1 547.0,768.8 548.0,769.1 549.0,769.8 550.0,768.8 551.0,768.8 552.0,764.8 553.0,760.9 554.0,758.8 555.0,756.9 556.0,755.5 557.0,755.5 558.0,753.7 559.0,753.6 560.0,752.9 561.0,753.3 562.0,752.6 563.0,752.6 564.0,753.1 565.0,752.4 566.0,752.7 567.0,753.1 568.0,752.0 569.0,751.9 570.0,752.2 571.0,757.7 572.0,760.9 573.0,762.9 574.0,764.8 575.0,765.8 576.0,767.1 577.0,767.2 578.0,768.6 579.0,769.2 580.0,769.5 581.0,769.4 582.0,769.8 583.0,768.6 584.0,769.0 585.0,770.0 586.0,765.0 587.0,761.0 588.0,759.3 589.0,757.1 590.0,756.1 591.0,754.5 592.0,753.7 593.0,753.6 594.0,752.8 595.0,752.9 596.0,753.6 597.0,752.6 598.0,752.0 599.0,752.0 600.0,752.2 601.0,753.0 602.0,752.4 603.0,752.2 604.0,752.0 605.0,758.0 606.0,760.7 607.0,762.8 608.0,764.4 609.0,765.7 610.0,766.7 611.0,768.1 612.0,767.8 613.0,768.0 614.0,768.9 615.0,768.7 616.0,769.9 617.0,768.7 618.0,769.4 619.0,769.8 620.0,769.3" fill="none" stroke="#5aaea6" stroke-width="2.6" stroke-linejoin="round" stroke-linecap="round"/>
<polyline points="205.5,911.0 209.5,909.2 215.5,909.4 219.4,909.0 220.9,906.0 221.4,812.7 223.4,809.7 226.9,810.2 232.9,810.5 234.8,809.7 236.3,812.7 236.8,906.0 238.8,909.0 240.3,909.4 246.3,909.8 253.6,909.0 255.1,906.0 255.6,812.7 257.6,809.7 261.1,808.9 267.1,809.6 270.8,809.7 272.3,812.7 272.8,906.0 274.8,909.0 276.3,909.8 282.3,909.3 287.9,909.0 289.4,906.0 289.9,812.7 291.9,809.7 295.4,810.4 301.4,809.0 304.3,809.7 305.8,812.7 306.3,906.0 308.3,909.0 311.8,908.9 317.8,908.5 322.0,909.0" fill="none" stroke="#7a70b8" stroke-width="2.6" stroke-linejoin="round" stroke-linecap="round"/>
<polyline points="358.0,911.0 362.0,909.5 368.0,909.6 373.5,909.0 375.0,906.0 375.5,819.5 377.5,816.5 381.0,816.5 387.2,816.5 388.7,819.5 389.2,906.0 391.2,909.0 392.7,908.6 398.7,908.1 406.0,909.0 407.5,906.0 408.0,819.5 410.0,816.5 413.5,816.8 419.5,816.4 421.5,816.5 423.0,819.5 423.5,906.0 425.5,909.0 427.0,909.5 433.0,908.8 440.3,909.0 441.8,906.0 442.3,819.5 444.3,816.5 447.8,817.0 453.8,816.1 455.7,816.5 457.2,819.5 457.7,906.0 459.7,909.0 463.2,909.5 469.2,909.4 472.6,909.0" fill="none" stroke="#7a70b8" stroke-width="2.6" stroke-linejoin="round" stroke-linecap="round"/>
<polyline points="505.0,911.0 509.0,908.7 515.6,909.0 517.1,906.0 517.6,819.5 519.6,816.5 523.1,815.9 529.1,816.8 531.0,816.5 532.5,819.5 533.0,906.0 535.0,909.0 536.5,908.2 542.5,909.1 548.5,908.8 551.5,909.0 553.0,906.0 553.5,819.5 555.5,816.5 559.0,815.7 565.0,816.5 567.0,816.5 568.5,819.5 569.0,906.0 571.0,909.0 572.5,908.2 578.5,908.9 585.8,909.0 587.3,906.0 587.8,819.5 589.8,816.5 593.3,815.7 599.3,815.8 601.2,816.5 602.7,819.5 603.2,906.0 605.2,909.0 608.7,908.9 614.7,909.6 618.0,909.0" fill="none" stroke="#7a70b8" stroke-width="2.6" stroke-linejoin="round" stroke-linecap="round"/>
<rect x="801.2" y="535.7" width="543.5" height="408.3" fill="#fcfbfb" stroke="none" stroke-width="0"/>
<line x1="801.2" y1="535.7" x2="1344.7" y2="535.7" stroke="#555" stroke-width="3"/>
<line x1="801.2" y1="944.0" x2="1344.7" y2="944.0" stroke="#444" stroke-width="3"/>
<line x1="801.2" y1="535.7" x2="801.2" y2="944.0" stroke="#8a80bb" stroke-width="3"/>
<line x1="1344.7" y1="535.7" x2="1344.7" y2="944.0" stroke="#6fb8b2" stroke-width="3"/>
<line x1="791.2" y1="535.7" x2="801.2" y2="535.7" stroke="#7a7a90" stroke-width="3"/>
<line x1="791.2" y1="671.8" x2="801.2" y2="671.8" stroke="#7a7a90" stroke-width="3"/>
<line x1="791.2" y1="807.9" x2="801.2" y2="807.9" stroke="#7a7a90" stroke-width="3"/>
<line x1="791.2" y1="944.0" x2="801.2" y2="944.0" stroke="#7a7a90" stroke-width="3"/>
<line x1="795.2" y1="603.7" x2="801.2" y2="603.7" stroke="#7a7a90" stroke-width="2.5"/>
<line x1="795.2" y1="739.8" x2="801.2" y2="739.8" stroke="#7a7a90" stroke-width="2.5"/>
<line x1="795.2" y1="875.9" x2="801.2" y2="875.9" stroke="#7a7a90" stroke-width="2.5"/>
<text x="784.0" y="545.2" font-size="26.5" fill="#6a5aa8" text-anchor="end" font-weight="bold">15</text>
<text x="784.0" y="681.3" font-size="26.5" fill="#6a5aa8" text-anchor="end" font-weight="bold">10</text>
<text x="784.0" y="817.4" font-size="26.5" fill="#6a5aa8" text-anchor="end" font-weight="bold">5</text>
<text x="784.0" y="953.5" font-size="26.5" fill="#6a5aa8" text-anchor="end" font-weight="bold">0</text>
<line x1="1344.7" y1="535.7" x2="1354.7" y2="535.7" stroke="#6fb8b2" stroke-width="3"/>
<line x1="1344.7" y1="671.8" x2="1354.7" y2="671.8" stroke="#6fb8b2" stroke-width="3"/>
<line x1="1344.7" y1="807.9" x2="1354.7" y2="807.9" stroke="#6fb8b2" stroke-width="3"/>
<line x1="1344.7" y1="944.0" x2="1354.7" y2="944.0" stroke="#6fb8b2" stroke-width="3"/>
<line x1="1344.7" y1="603.7" x2="1350.7" y2="603.7" stroke="#6fb8b2" stroke-width="2.5"/>
<line x1="1344.7" y1="739.8" x2="1350.7" y2="739.8" stroke="#6fb8b2" stroke-width="2.5"/>
<line x1="1344.7" y1="875.9" x2="1350.7" y2="875.9" stroke="#6fb8b2" stroke-width="2.5"/>
<text x="1363.0" y="545.2" font-size="26.5" fill="#2e918a" text-anchor="start" font-weight="bold">12</text>
<text x="1363.0" y="681.3" font-size="26.5" fill="#2e918a" text-anchor="start" font-weight="bold">8</text>
<text x="1363.0" y="817.4" font-size="26.5" fill="#2e918a" text-anchor="start" font-weight="bold">4</text>
<text x="1363.0" y="953.5" font-size="26.5" fill="#2e918a" text-anchor="start" font-weight="bold">0</text>
<line x1="847.4" y1="944.0" x2="847.4" y2="953.0" stroke="#333" stroke-width="3"/>
<line x1="937.8" y1="944.0" x2="937.8" y2="953.0" stroke="#333" stroke-width="3"/>
<line x1="1028.2" y1="944.0" x2="1028.2" y2="953.0" stroke="#333" stroke-width="3"/>
<line x1="1118.7" y1="944.0" x2="1118.7" y2="953.0" stroke="#333" stroke-width="3"/>
<line x1="1209.1" y1="944.0" x2="1209.1" y2="953.0" stroke="#333" stroke-width="3"/>
<line x1="1299.5" y1="944.0" x2="1299.5" y2="953.0" stroke="#333" stroke-width="3"/>
<line x1="892.6" y1="944.0" x2="892.6" y2="950.0" stroke="#333" stroke-width="3"/>
<line x1="983.0" y1="944.0" x2="983.0" y2="950.0" stroke="#333" stroke-width="3"/>
<line x1="1073.4" y1="944.0" x2="1073.4" y2="950.0" stroke="#333" stroke-width="3"/>
<line x1="1163.9" y1="944.0" x2="1163.9" y2="950.0" stroke="#333" stroke-width="3"/>
<line x1="1254.3" y1="944.0" x2="1254.3" y2="950.0" stroke="#333" stroke-width="3"/>
<text x="847.4" y="981.6" font-size="26.5" fill="#231f20" text-anchor="middle" font-weight="bold">0</text>
<text x="937.8" y="981.6" font-size="26.5" fill="#231f20" text-anchor="middle" font-weight="bold">20</text>
<text x="1028.2" y="981.6" font-size="26.5" fill="#231f20" text-anchor="middle" font-weight="bold">40</text>
<text x="1118.7" y="981.6" font-size="26.5" fill="#231f20" text-anchor="middle" font-weight="bold">60</text>
<text x="1209.1" y="981.6" font-size="26.5" fill="#231f20" text-anchor="middle" font-weight="bold">80</text>
<text x="1299.5" y="981.6" font-size="26.5" fill="#231f20" text-anchor="middle" font-weight="bold">100</text>
<text x="1077.5" y="1018.0" font-size="26.5" fill="#231f20" text-anchor="middle" font-weight="bold" font-style="italic">ε/%</text>
<text x="728.5" y="736.6" font-size="26.5" fill="#6a5aa8" text-anchor="middle" font-weight="bold" transform="rotate(-90 728.5 736.6)">Voltage/V</text>
<text x="1411.0" y="736.3" font-size="26.5" fill="#2e918a" text-anchor="middle" font-weight="bold" transform="rotate(-90 1411.0 736.3)">Voltage/V</text>
<polyline points="847.4,689.8 851.4,689.2 856.1,688.4 861.6,687.4 867.7,686.3 874.4,685.1 881.5,683.8 889.0,682.4 896.8,681.1 904.9,679.8 913.1,678.5 921.3,677.3 929.5,676.1 937.6,675.2 945.5,674.3 953.1,673.7 960.4,673.3 967.5,673.1 974.5,673.2 981.6,673.5 988.6,674.0 995.7,674.6 1002.8,675.3 1009.8,676.0 1016.9,676.8 1024.0,677.6 1031.0,678.4 1038.1,679.1 1045.2,679.8 1052.2,680.2 1059.3,680.6 1066.3,680.7 1073.4,680.6 1080.5,680.2 1087.5,679.6 1094.6,678.7 1101.6,677.6 1108.7,676.4 1115.8,675.1 1122.8,673.7 1129.9,672.3 1137.0,671.0 1144.0,669.7 1151.1,668.5 1158.1,667.5 1165.2,666.7 1172.3,666.2 1179.3,665.9 1186.4,666.0 1193.7,666.4 1201.3,667.2 1209.2,668.3 1217.3,669.6 1225.5,671.2 1233.8,672.9 1242.0,674.7 1250.0,676.6 1257.8,678.5 1265.4,680.4 1272.5,682.2 1279.2,684.0 1285.3,685.6 1290.8,687.0 1295.5,688.1 1299.5,689.0" fill="none" stroke="#7a6fb4" stroke-width="2.6" stroke-linejoin="round" stroke-linecap="round"/>
<polyline points="847.4,694.0 851.4,694.8 856.1,695.8 861.6,696.9 867.7,698.3 874.4,699.7 881.5,701.3 889.0,702.9 896.8,704.5 904.9,706.1 913.1,707.7 921.3,709.3 929.5,710.7 937.6,712.0 945.5,713.1 953.1,714.1 960.4,714.8 967.5,715.3 974.5,715.7 981.6,716.0 988.6,716.1 995.7,716.1 1002.8,716.1 1009.8,715.9 1016.9,715.7 1024.0,715.5 1031.0,715.2 1038.1,714.8 1045.2,714.5 1052.2,714.1 1059.3,713.7 1066.3,713.3 1073.4,713.0 1080.5,712.5 1087.5,711.8 1094.6,710.8 1101.6,709.7 1108.7,708.5 1115.8,707.2 1122.8,705.9 1129.9,704.7 1137.0,703.7 1144.0,702.8 1151.1,702.1 1158.1,701.8 1165.2,701.8 1172.3,702.2 1179.3,703.1 1186.4,704.5 1193.7,706.6 1201.3,709.3 1209.2,712.7 1217.3,716.6 1225.5,720.9 1233.8,725.4 1242.0,730.3 1250.0,735.2 1257.8,740.1 1265.4,745.0 1272.5,749.6 1279.2,754.0 1285.3,758.0 1290.8,761.6 1295.5,764.6 1299.5,766.9" fill="none" stroke="#7a6fb4" stroke-width="2.6" stroke-linejoin="round" stroke-linecap="round"/>
<polyline points="847.4,700.8 851.4,703.8 856.1,707.6 861.6,712.0 867.7,717.1 874.4,722.5 881.5,728.4 889.0,734.5 896.8,740.7 904.9,747.0 913.1,753.2 921.3,759.3 929.5,765.1 937.6,770.5 945.5,775.4 953.1,779.8 960.4,783.4 967.5,786.4 974.5,789.0 981.6,791.1 988.6,792.9 995.7,794.4 1002.8,795.7 1009.8,796.7 1016.9,797.6 1024.0,798.4 1031.0,799.1 1038.1,799.8 1045.2,800.6 1052.2,801.5 1059.3,802.6 1066.3,803.9 1073.4,805.4 1080.5,807.1 1087.5,808.9 1094.6,810.7 1101.6,812.6 1108.7,814.6 1115.8,816.5 1122.8,818.5 1129.9,820.6 1137.0,822.7 1144.0,824.7 1151.1,826.8 1158.1,828.9 1165.2,831.0 1172.3,833.1 1179.3,835.2 1186.4,837.3 1193.7,839.4 1201.3,841.7 1209.2,844.1 1217.3,846.5 1225.5,849.0 1233.8,851.5 1242.0,853.9 1250.0,856.4 1257.8,858.8 1265.4,861.1 1272.5,863.3 1279.2,865.3 1285.3,867.2 1290.8,868.8 1295.5,870.3 1299.5,871.5" fill="none" stroke="#7a6fb4" stroke-width="2.6" stroke-linejoin="round" stroke-linecap="round"/>
<polyline points="847.4,704.5 851.4,708.9 856.1,714.4 861.6,720.8 867.7,728.0 874.4,735.9 881.5,744.3 889.0,753.1 896.8,762.2 904.9,771.3 913.1,780.4 921.3,789.2 929.5,797.8 937.6,805.8 945.5,813.2 953.1,819.9 960.4,825.6 967.5,830.6 974.5,835.2 981.6,839.4 988.6,843.2 995.7,846.7 1002.8,849.9 1009.8,852.8 1016.9,855.5 1024.0,858.0 1031.0,860.2 1038.1,862.3 1045.2,864.3 1052.2,866.2 1059.3,868.0 1066.3,869.8 1073.4,871.5 1080.5,873.1 1087.5,874.4 1094.6,875.4 1101.6,876.1 1108.7,876.7 1115.8,877.1 1122.8,877.5 1129.9,877.7 1137.0,877.9 1144.0,878.1 1151.1,878.3 1158.1,878.6 1165.2,879.1 1172.3,879.6 1179.3,880.4 1186.4,881.4 1193.7,882.6 1201.3,884.1 1209.2,885.6 1217.3,887.4 1225.5,889.2 1233.8,891.1 1242.0,893.1 1250.0,895.0 1257.8,897.0 1265.4,898.8 1272.5,900.7 1279.2,902.4 1285.3,903.9 1290.8,905.3 1295.5,906.5 1299.5,907.4" fill="none" stroke="#7a6fb4" stroke-width="2.6" stroke-linejoin="round" stroke-linecap="round"/>
<line x1="847.4" y1="678.8" x2="847.4" y2="700.8" stroke="#7a6fb4" stroke-width="2.2"/>
<line x1="841.4" y1="678.8" x2="853.4" y2="678.8" stroke="#7a6fb4" stroke-width="2.2"/>
<line x1="841.4" y1="700.8" x2="853.4" y2="700.8" stroke="#7a6fb4" stroke-width="2.2"/>
<circle cx="847.4" cy="689.8" r="5.5" fill="#fff" stroke="#7a6fb4" stroke-width="2.2"/>
<line x1="960.4" y1="662.3" x2="960.4" y2="684.3" stroke="#7a6fb4" stroke-width="2.2"/>
<line x1="954.4" y1="662.3" x2="966.4" y2="662.3" stroke="#7a6fb4" stroke-width="2.2"/>
<line x1="954.4" y1="684.3" x2="966.4" y2="684.3" stroke="#7a6fb4" stroke-width="2.2"/>
<circle cx="960.4" cy="673.3" r="5.5" fill="#fff" stroke="#7a6fb4" stroke-width="2.2"/>
<line x1="1073.4" y1="671.0" x2="1073.4" y2="693.0" stroke="#7a6fb4" stroke-width="2.2"/>
<line x1="1067.4" y1="671.0" x2="1079.4" y2="671.0" stroke="#7a6fb4" stroke-width="2.2"/>
<line x1="1067.4" y1="693.0" x2="1079.4" y2="693.0" stroke="#7a6fb4" stroke-width="2.2"/>
<circle cx="1073.4" cy="682.0" r="5.5" fill="#fff" stroke="#7a6fb4" stroke-width="2.2"/>
<line x1="1186.4" y1="655.0" x2="1186.4" y2="677.0" stroke="#7a6fb4" stroke-width="2.2"/>
<line x1="1180.4" y1="655.0" x2="1192.4" y2="655.0" stroke="#7a6fb4" stroke-width="2.2"/>
<line x1="1180.4" y1="677.0" x2="1192.4" y2="677.0" stroke="#7a6fb4" stroke-width="2.2"/>
<circle cx="1186.4" cy="666.0" r="5.5" fill="#fff" stroke="#7a6fb4" stroke-width="2.2"/>
<line x1="1299.5" y1="678.0" x2="1299.5" y2="700.0" stroke="#7a6fb4" stroke-width="2.2"/>
<line x1="1293.5" y1="678.0" x2="1305.5" y2="678.0" stroke="#7a6fb4" stroke-width="2.2"/>
<line x1="1293.5" y1="700.0" x2="1305.5" y2="700.0" stroke="#7a6fb4" stroke-width="2.2"/>
<circle cx="1299.5" cy="689.0" r="5.5" fill="#fff" stroke="#7a6fb4" stroke-width="2.2"/>
<line x1="847.4" y1="683.0" x2="847.4" y2="705.0" stroke="#7a6fb4" stroke-width="2.2"/>
<line x1="841.4" y1="683.0" x2="853.4" y2="683.0" stroke="#7a6fb4" stroke-width="2.2"/>
<line x1="841.4" y1="705.0" x2="853.4" y2="705.0" stroke="#7a6fb4" stroke-width="2.2"/>
<circle cx="847.4" cy="694.0" r="5.5" fill="#fff" stroke="#7a6fb4" stroke-width="2.2"/>
<line x1="960.4" y1="703.8" x2="960.4" y2="725.8" stroke="#7a6fb4" stroke-width="2.2"/>
<line x1="954.4" y1="703.8" x2="966.4" y2="703.8" stroke="#7a6fb4" stroke-width="2.2"/>
<line x1="954.4" y1="725.8" x2="966.4" y2="725.8" stroke="#7a6fb4" stroke-width="2.2"/>
<circle cx="960.4" cy="714.8" r="5.5" fill="#fff" stroke="#7a6fb4" stroke-width="2.2"/>
<line x1="1073.4" y1="702.0" x2="1073.4" y2="724.0" stroke="#7a6fb4" stroke-width="2.2"/>
<line x1="1067.4" y1="702.0" x2="1079.4" y2="702.0" stroke="#7a6fb4" stroke-width="2.2"/>
<line x1="1067.4" y1="724.0" x2="1079.4" y2="724.0" stroke="#7a6fb4" stroke-width="2.2"/>
<circle cx="1073.4" cy="713.0" r="5.5" fill="#fff" stroke="#7a6fb4" stroke-width="2.2"/>
<line x1="1186.4" y1="678.0" x2="1186.4" y2="700.0" stroke="#7a6fb4" stroke-width="2.2"/>
<line x1="1180.4" y1="678.0" x2="1192.4" y2="678.0" stroke="#7a6fb4" stroke-width="2.2"/>
<line x1="1180.4" y1="700.0" x2="1192.4" y2="700.0" stroke="#7a6fb4" stroke-width="2.2"/>
<circle cx="1186.4" cy="689.0" r="5.5" fill="#fff" stroke="#7a6fb4" stroke-width="2.2"/>
<line x1="1299.5" y1="755.9" x2="1299.5" y2="777.9" stroke="#7a6fb4" stroke-width="2.2"/>
<line x1="1293.5" y1="755.9" x2="1305.5" y2="755.9" stroke="#7a6fb4" stroke-width="2.2"/>
<line x1="1293.5" y1="777.9" x2="1305.5" y2="777.9" stroke="#7a6fb4" stroke-width="2.2"/>
<circle cx="1299.5" cy="766.9" r="5.5" fill="#fff" stroke="#7a6fb4" stroke-width="2.2"/>
<line x1="847.4" y1="689.8" x2="847.4" y2="711.8" stroke="#7a6fb4" stroke-width="2.2"/>
<line x1="841.4" y1="689.8" x2="853.4" y2="689.8" stroke="#7a6fb4" stroke-width="2.2"/>
<line x1="841.4" y1="711.8" x2="853.4" y2="711.8" stroke="#7a6fb4" stroke-width="2.2"/>
<circle cx="847.4" cy="700.8" r="5.5" fill="#fff" stroke="#7a6fb4" stroke-width="2.2"/>
<line x1="960.4" y1="772.4" x2="960.4" y2="794.4" stroke="#7a6fb4" stroke-width="2.2"/>
<line x1="954.4" y1="772.4" x2="966.4" y2="772.4" stroke="#7a6fb4" stroke-width="2.2"/>
<line x1="954.4" y1="794.4" x2="966.4" y2="794.4" stroke="#7a6fb4" stroke-width="2.2"/>
<circle cx="960.4" cy="783.4" r="5.5" fill="#fff" stroke="#7a6fb4" stroke-width="2.2"/>
<line x1="1073.4" y1="794.4" x2="1073.4" y2="816.4" stroke="#7a6fb4" stroke-width="2.2"/>
<line x1="1067.4" y1="794.4" x2="1079.4" y2="794.4" stroke="#7a6fb4" stroke-width="2.2"/>
<line x1="1067.4" y1="816.4" x2="1079.4" y2="816.4" stroke="#7a6fb4" stroke-width="2.2"/>
<circle cx="1073.4" cy="805.4" r="5.5" fill="#fff" stroke="#7a6fb4" stroke-width="2.2"/>
<line x1="1186.4" y1="826.3" x2="1186.4" y2="848.3" stroke="#7a6fb4" stroke-width="2.2"/>
<line x1="1180.4" y1="826.3" x2="1192.4" y2="826.3" stroke="#7a6fb4" stroke-width="2.2"/>
<line x1="1180.4" y1="848.3" x2="1192.4" y2="848.3" stroke="#7a6fb4" stroke-width="2.2"/>
<circle cx="1186.4" cy="837.3" r="5.5" fill="#fff" stroke="#7a6fb4" stroke-width="2.2"/>
<line x1="1299.5" y1="860.5" x2="1299.5" y2="882.5" stroke="#7a6fb4" stroke-width="2.2"/>
<line x1="1293.5" y1="860.5" x2="1305.5" y2="860.5" stroke="#7a6fb4" stroke-width="2.2"/>
<line x1="1293.5" y1="882.5" x2="1305.5" y2="882.5" stroke="#7a6fb4" stroke-width="2.2"/>
<circle cx="1299.5" cy="871.5" r="5.5" fill="#fff" stroke="#7a6fb4" stroke-width="2.2"/>
<line x1="847.4" y1="693.5" x2="847.4" y2="715.5" stroke="#7a6fb4" stroke-width="2.2"/>
<line x1="841.4" y1="693.5" x2="853.4" y2="693.5" stroke="#7a6fb4" stroke-width="2.2"/>
<line x1="841.4" y1="715.5" x2="853.4" y2="715.5" stroke="#7a6fb4" stroke-width="2.2"/>
<circle cx="847.4" cy="704.5" r="5.5" fill="#fff" stroke="#7a6fb4" stroke-width="2.2"/>
<line x1="960.4" y1="833.7" x2="960.4" y2="855.7" stroke="#7a6fb4" stroke-width="2.2"/>
<line x1="954.4" y1="833.7" x2="966.4" y2="833.7" stroke="#7a6fb4" stroke-width="2.2"/>
<line x1="954.4" y1="855.7" x2="966.4" y2="855.7" stroke="#7a6fb4" stroke-width="2.2"/>
<circle cx="960.4" cy="844.7" r="5.5" fill="#fff" stroke="#7a6fb4" stroke-width="2.2"/>
<line x1="1073.4" y1="860.5" x2="1073.4" y2="882.5" stroke="#7a6fb4" stroke-width="2.2"/>
<line x1="1067.4" y1="860.5" x2="1079.4" y2="860.5" stroke="#7a6fb4" stroke-width="2.2"/>
<line x1="1067.4" y1="882.5" x2="1079.4" y2="882.5" stroke="#7a6fb4" stroke-width="2.2"/>
<circle cx="1073.4" cy="871.5" r="5.5" fill="#fff" stroke="#7a6fb4" stroke-width="2.2"/>
<line x1="1186.4" y1="870.4" x2="1186.4" y2="892.4" stroke="#7a6fb4" stroke-width="2.2"/>
<line x1="1180.4" y1="870.4" x2="1192.4" y2="870.4" stroke="#7a6fb4" stroke-width="2.2"/>
<line x1="1180.4" y1="892.4" x2="1192.4" y2="892.4" stroke="#7a6fb4" stroke-width="2.2"/>
<circle cx="1186.4" cy="881.4" r="5.5" fill="#fff" stroke="#7a6fb4" stroke-width="2.2"/>
<line x1="1299.5" y1="896.4" x2="1299.5" y2="918.4" stroke="#7a6fb4" stroke-width="2.2"/>
<line x1="1293.5" y1="896.4" x2="1305.5" y2="896.4" stroke="#7a6fb4" stroke-width="2.2"/>
<line x1="1293.5" y1="918.4" x2="1305.5" y2="918.4" stroke="#7a6fb4" stroke-width="2.2"/>
<circle cx="1299.5" cy="907.4" r="5.5" fill="#fff" stroke="#7a6fb4" stroke-width="2.2"/>
<polyline points="847.4,596.2 851.4,596.6 856.1,597.1 861.6,597.7 867.7,598.4 874.4,599.2 881.5,600.0 889.0,600.8 896.8,601.7 904.9,602.5 913.1,603.3 921.3,604.0 929.5,604.7 937.6,605.2 945.5,605.7 953.1,606.0 960.4,606.1 967.5,606.0 974.5,605.8 981.6,605.3 988.6,604.7 995.7,604.0 1002.8,603.2 1009.8,602.4 1016.9,601.5 1024.0,600.7 1031.0,599.9 1038.1,599.2 1045.2,598.6 1052.2,598.1 1059.3,597.9 1066.3,597.8 1073.4,598.0 1080.5,598.5 1087.5,599.2 1094.6,600.1 1101.6,601.2 1108.7,602.4 1115.8,603.8 1122.8,605.2 1129.9,606.7 1137.0,608.2 1144.0,609.7 1151.1,611.1 1158.1,612.5 1165.2,613.7 1172.3,614.8 1179.3,615.7 1186.4,616.4 1193.7,616.9 1201.3,617.3 1209.2,617.5 1217.3,617.7 1225.5,617.8 1233.8,617.7 1242.0,617.7 1250.0,617.5 1257.8,617.4 1265.4,617.2 1272.5,617.0 1279.2,616.8 1285.3,616.7 1290.8,616.5 1295.5,616.4 1299.5,616.4" fill="none" stroke="#4aa8a0" stroke-width="2.6" stroke-linejoin="round" stroke-linecap="round"/>
<polyline points="847.4,629.3 851.4,628.7 856.1,627.9 861.6,627.0 867.7,626.0 874.4,624.9 881.5,623.7 889.0,622.4 896.8,621.2 904.9,619.9 913.1,618.6 921.3,617.3 929.5,616.1 937.6,614.9 945.5,613.9 953.1,612.9 960.4,612.0 967.5,611.2 974.5,610.4 981.6,609.6 988.6,608.8 995.7,608.1 1002.8,607.4 1009.8,606.7 1016.9,606.0 1024.0,605.5 1031.0,605.0 1038.1,604.5 1045.2,604.1 1052.2,603.9 1059.3,603.7 1066.3,603.6 1073.4,603.6 1080.5,603.7 1087.5,604.0 1094.6,604.4 1101.6,604.8 1108.7,605.4 1115.8,606.0 1122.8,606.7 1129.9,607.5 1137.0,608.3 1144.0,609.2 1151.1,610.0 1158.1,610.9 1165.2,611.8 1172.3,612.7 1179.3,613.6 1186.4,614.4 1193.7,615.3 1201.3,616.2 1209.2,617.3 1217.3,618.3 1225.5,619.4 1233.8,620.6 1242.0,621.7 1250.0,622.9 1257.8,624.0 1265.4,625.1 1272.5,626.1 1279.2,627.1 1285.3,628.0 1290.8,628.8 1295.5,629.4 1299.5,630.0" fill="none" stroke="#4aa8a0" stroke-width="2.6" stroke-linejoin="round" stroke-linecap="round"/>
<polyline points="847.4,632.9 851.4,632.6 856.1,632.3 861.6,632.0 867.7,631.6 874.4,631.2 881.5,630.8 889.0,630.3 896.8,629.8 904.9,629.2 913.1,628.7 921.3,628.1 929.5,627.4 937.6,626.7 945.5,626.0 953.1,625.3 960.4,624.5 967.5,623.6 974.5,622.6 981.6,621.4 988.6,620.1 995.7,618.8 1002.8,617.4 1009.8,616.0 1016.9,614.6 1024.0,613.3 1031.0,612.0 1038.1,610.8 1045.2,609.7 1052.2,608.8 1059.3,608.1 1066.3,607.5 1073.4,607.2 1080.5,607.1 1087.5,607.3 1094.6,607.7 1101.6,608.3 1108.7,609.0 1115.8,609.9 1122.8,610.8 1129.9,611.8 1137.0,612.8 1144.0,613.8 1151.1,614.8 1158.1,615.8 1165.2,616.6 1172.3,617.3 1179.3,617.9 1186.4,618.3 1193.7,618.5 1201.3,618.7 1209.2,618.7 1217.3,618.7 1225.5,618.6 1233.8,618.5 1242.0,618.3 1250.0,618.0 1257.8,617.8 1265.4,617.5 1272.5,617.3 1279.2,617.0 1285.3,616.8 1290.8,616.6 1295.5,616.5 1299.5,616.4" fill="none" stroke="#4aa8a0" stroke-width="2.6" stroke-linejoin="round" stroke-linecap="round"/>
<line x1="847.4" y1="584.2" x2="847.4" y2="608.2" stroke="#3a9a92" stroke-width="2.2"/>
<line x1="841.4" y1="584.2" x2="853.4" y2="584.2" stroke="#3a9a92" stroke-width="2.2"/>
<line x1="841.4" y1="608.2" x2="853.4" y2="608.2" stroke="#3a9a92" stroke-width="2.2"/>
<circle cx="847.4" cy="596.2" r="5.0" fill="#3a9a92" stroke="none" stroke-width="0"/>
<line x1="960.4" y1="594.1" x2="960.4" y2="618.1" stroke="#3a9a92" stroke-width="2.2"/>
<line x1="954.4" y1="594.1" x2="966.4" y2="594.1" stroke="#3a9a92" stroke-width="2.2"/>
<line x1="954.4" y1="618.1" x2="966.4" y2="618.1" stroke="#3a9a92" stroke-width="2.2"/>
<circle cx="960.4" cy="606.1" r="5.0" fill="#3a9a92" stroke="none" stroke-width="0"/>
<line x1="1073.4" y1="586.0" x2="1073.4" y2="610.0" stroke="#3a9a92" stroke-width="2.2"/>
<line x1="1067.4" y1="586.0" x2="1079.4" y2="586.0" stroke="#3a9a92" stroke-width="2.2"/>
<line x1="1067.4" y1="610.0" x2="1079.4" y2="610.0" stroke="#3a9a92" stroke-width="2.2"/>
<circle cx="1073.4" cy="598.0" r="5.0" fill="#3a9a92" stroke="none" stroke-width="0"/>
<line x1="1186.4" y1="604.4" x2="1186.4" y2="628.4" stroke="#3a9a92" stroke-width="2.2"/>
<line x1="1180.4" y1="604.4" x2="1192.4" y2="604.4" stroke="#3a9a92" stroke-width="2.2"/>
<line x1="1180.4" y1="628.4" x2="1192.4" y2="628.4" stroke="#3a9a92" stroke-width="2.2"/>
<circle cx="1186.4" cy="616.4" r="5.0" fill="#3a9a92" stroke="none" stroke-width="0"/>
<line x1="1299.5" y1="604.4" x2="1299.5" y2="628.4" stroke="#3a9a92" stroke-width="2.2"/>
<line x1="1293.5" y1="604.4" x2="1305.5" y2="604.4" stroke="#3a9a92" stroke-width="2.2"/>
<line x1="1293.5" y1="628.4" x2="1305.5" y2="628.4" stroke="#3a9a92" stroke-width="2.2"/>
<circle cx="1299.5" cy="616.4" r="5.0" fill="#3a9a92" stroke="none" stroke-width="0"/>
<line x1="847.4" y1="617.3" x2="847.4" y2="641.3" stroke="#3a9a92" stroke-width="2.2"/>
<line x1="841.4" y1="617.3" x2="853.4" y2="617.3" stroke="#3a9a92" stroke-width="2.2"/>
<line x1="841.4" y1="641.3" x2="853.4" y2="641.3" stroke="#3a9a92" stroke-width="2.2"/>
<circle cx="847.4" cy="629.3" r="5.0" fill="#3a9a92" stroke="none" stroke-width="0"/>
<line x1="960.4" y1="600.0" x2="960.4" y2="624.0" stroke="#3a9a92" stroke-width="2.2"/>
<line x1="954.4" y1="600.0" x2="966.4" y2="600.0" stroke="#3a9a92" stroke-width="2.2"/>
<line x1="954.4" y1="624.0" x2="966.4" y2="624.0" stroke="#3a9a92" stroke-width="2.2"/>
<circle cx="960.4" cy="612.0" r="5.0" fill="#3a9a92" stroke="none" stroke-width="0"/>
<line x1="1073.4" y1="591.6" x2="1073.4" y2="615.6" stroke="#3a9a92" stroke-width="2.2"/>
<line x1="1067.4" y1="591.6" x2="1079.4" y2="591.6" stroke="#3a9a92" stroke-width="2.2"/>
<line x1="1067.4" y1="615.6" x2="1079.4" y2="615.6" stroke="#3a9a92" stroke-width="2.2"/>
<circle cx="1073.4" cy="603.6" r="5.0" fill="#3a9a92" stroke="none" stroke-width="0"/>
<line x1="1186.4" y1="602.4" x2="1186.4" y2="626.4" stroke="#3a9a92" stroke-width="2.2"/>
<line x1="1180.4" y1="602.4" x2="1192.4" y2="602.4" stroke="#3a9a92" stroke-width="2.2"/>
<line x1="1180.4" y1="626.4" x2="1192.4" y2="626.4" stroke="#3a9a92" stroke-width="2.2"/>
<circle cx="1186.4" cy="614.4" r="5.0" fill="#3a9a92" stroke="none" stroke-width="0"/>
<line x1="1299.5" y1="618.0" x2="1299.5" y2="642.0" stroke="#3a9a92" stroke-width="2.2"/>
<line x1="1293.5" y1="618.0" x2="1305.5" y2="618.0" stroke="#3a9a92" stroke-width="2.2"/>
<line x1="1293.5" y1="642.0" x2="1305.5" y2="642.0" stroke="#3a9a92" stroke-width="2.2"/>
<circle cx="1299.5" cy="630.0" r="5.0" fill="#3a9a92" stroke="none" stroke-width="0"/>
<line x1="847.4" y1="620.9" x2="847.4" y2="644.9" stroke="#3a9a92" stroke-width="2.2"/>
<line x1="841.4" y1="620.9" x2="853.4" y2="620.9" stroke="#3a9a92" stroke-width="2.2"/>
<line x1="841.4" y1="644.9" x2="853.4" y2="644.9" stroke="#3a9a92" stroke-width="2.2"/>
<circle cx="847.4" cy="632.9" r="5.0" fill="#3a9a92" stroke="none" stroke-width="0"/>
<line x1="960.4" y1="612.5" x2="960.4" y2="636.5" stroke="#3a9a92" stroke-width="2.2"/>
<line x1="954.4" y1="612.5" x2="966.4" y2="612.5" stroke="#3a9a92" stroke-width="2.2"/>
<line x1="954.4" y1="636.5" x2="966.4" y2="636.5" stroke="#3a9a92" stroke-width="2.2"/>
<circle cx="960.4" cy="624.5" r="5.0" fill="#3a9a92" stroke="none" stroke-width="0"/>
<line x1="1073.4" y1="595.2" x2="1073.4" y2="619.2" stroke="#3a9a92" stroke-width="2.2"/>
<line x1="1067.4" y1="595.2" x2="1079.4" y2="595.2" stroke="#3a9a92" stroke-width="2.2"/>
<line x1="1067.4" y1="619.2" x2="1079.4" y2="619.2" stroke="#3a9a92" stroke-width="2.2"/>
<circle cx="1073.4" cy="607.2" r="5.0" fill="#3a9a92" stroke="none" stroke-width="0"/>
<line x1="1186.4" y1="606.3" x2="1186.4" y2="630.3" stroke="#3a9a92" stroke-width="2.2"/>
<line x1="1180.4" y1="606.3" x2="1192.4" y2="606.3" stroke="#3a9a92" stroke-width="2.2"/>
<line x1="1180.4" y1="630.3" x2="1192.4" y2="630.3" stroke="#3a9a92" stroke-width="2.2"/>
<circle cx="1186.4" cy="618.3" r="5.0" fill="#3a9a92" stroke="none" stroke-width="0"/>
<line x1="1299.5" y1="604.4" x2="1299.5" y2="628.4" stroke="#3a9a92" stroke-width="2.2"/>
<line x1="1293.5" y1="604.4" x2="1305.5" y2="604.4" stroke="#3a9a92" stroke-width="2.2"/>
<line x1="1293.5" y1="628.4" x2="1305.5" y2="628.4" stroke="#3a9a92" stroke-width="2.2"/>
<circle cx="1299.5" cy="616.4" r="5.0" fill="#3a9a92" stroke="none" stroke-width="0"/>
<circle cx="1073.4" cy="591.0" r="5.5" fill="#3a9a92" stroke="none" stroke-width="0"/>
<circle cx="1075.7" cy="556.0" r="5.5" fill="#2e918a" stroke="none" stroke-width="0"/>
<text x="1101.4" y="565.0" font-size="26.5" fill="#2e918a" text-anchor="start" font-weight="bold">0°</text>
<text x="1165.6" y="566.0" font-size="22" fill="#2e918a" text-anchor="middle" font-weight="normal">★</text>
<text x="1191.3" y="565.0" font-size="26.5" fill="#2e918a" text-anchor="start" font-weight="bold">22.5°</text>
<circle cx="1270.0" cy="556.0" r="5.5" fill="#2e918a" stroke="none" stroke-width="0"/>
<text x="1292.0" y="565.0" font-size="26.5" fill="#2e918a" text-anchor="start" font-weight="bold">45°</text>
<line x1="817.0" y1="893.5" x2="837.0" y2="893.5" stroke="#7a6fb4" stroke-width="3"/>
<text x="846.3" y="900.8" font-size="26.5" fill="#6a5aa8" text-anchor="start" font-weight="bold">Unidirectional</text>
<line x1="817.0" y1="920.3" x2="837.0" y2="920.3" stroke="#5fb3ac" stroke-width="3"/>
<text x="846.3" y="927.6" font-size="26.5" fill="#2e918a" text-anchor="start" font-weight="bold">Bidirectional</text>
<text x="1296.6" y="732.0" font-size="26.5" fill="#231f20" text-anchor="start" font-weight="bold">90°</text>
<text x="1296.6" y="807.2" font-size="26.5" fill="#231f20" text-anchor="start" font-weight="bold">60°</text>
<text x="1305.0" y="875.0" font-size="26.5" fill="#231f20" text-anchor="start" font-weight="bold">30°</text>
<text x="1308.7" y="926.5" font-size="26.5" fill="#231f20" text-anchor="start" font-weight="bold">0°</text>
<rect x="1541.0" y="535.7" width="545.6" height="410.7" fill="#fcfbfb" stroke="none" stroke-width="0"/>
<rect x="1541" y="535.7" width="545.5999999999999" height="410.69999999999993" fill="none" stroke="#555" stroke-width="3"/>
<line x1="1531.0" y1="553.8" x2="1541.0" y2="553.8" stroke="#555" stroke-width="3"/>
<line x1="1531.0" y1="628.6" x2="1541.0" y2="628.6" stroke="#555" stroke-width="3"/>
<line x1="1531.0" y1="703.4" x2="1541.0" y2="703.4" stroke="#555" stroke-width="3"/>
<line x1="1531.0" y1="778.2" x2="1541.0" y2="778.2" stroke="#555" stroke-width="3"/>
<line x1="1531.0" y1="853.0" x2="1541.0" y2="853.0" stroke="#555" stroke-width="3"/>
<line x1="1531.0" y1="927.8" x2="1541.0" y2="927.8" stroke="#555" stroke-width="3"/>
<line x1="1535.0" y1="591.2" x2="1541.0" y2="591.2" stroke="#555" stroke-width="2.5"/>
<line x1="1535.0" y1="666.0" x2="1541.0" y2="666.0" stroke="#555" stroke-width="2.5"/>
<line x1="1535.0" y1="740.8" x2="1541.0" y2="740.8" stroke="#555" stroke-width="2.5"/>
<line x1="1535.0" y1="815.6" x2="1541.0" y2="815.6" stroke="#555" stroke-width="2.5"/>
<line x1="1535.0" y1="890.4" x2="1541.0" y2="890.4" stroke="#555" stroke-width="2.5"/>
<text x="1524.0" y="563.3" font-size="26.5" fill="#231f20" text-anchor="end" font-weight="bold">50</text>
<text x="1524.0" y="638.1" font-size="26.5" fill="#231f20" text-anchor="end" font-weight="bold">40</text>
<text x="1524.0" y="712.9" font-size="26.5" fill="#231f20" text-anchor="end" font-weight="bold">30</text>
<text x="1524.0" y="787.7" font-size="26.5" fill="#231f20" text-anchor="end" font-weight="bold">20</text>
<text x="1524.0" y="862.5" font-size="26.5" fill="#231f20" text-anchor="end" font-weight="bold">10</text>
<text x="1524.0" y="937.3" font-size="26.5" fill="#231f20" text-anchor="end" font-weight="bold">0</text>
<line x1="1579.8" y1="946.4" x2="1579.8" y2="955.4" stroke="#333" stroke-width="3"/>
<line x1="1735.9" y1="946.4" x2="1735.9" y2="955.4" stroke="#333" stroke-width="3"/>
<line x1="1892.0" y1="946.4" x2="1892.0" y2="955.4" stroke="#333" stroke-width="3"/>
<line x1="2048.1" y1="946.4" x2="2048.1" y2="955.4" stroke="#333" stroke-width="3"/>
<line x1="1657.8" y1="946.4" x2="1657.8" y2="952.4" stroke="#333" stroke-width="3"/>
<line x1="1813.9" y1="946.4" x2="1813.9" y2="952.4" stroke="#333" stroke-width="3"/>
<line x1="1970.0" y1="946.4" x2="1970.0" y2="952.4" stroke="#333" stroke-width="3"/>
<text x="1579.8" y="983.0" font-size="26.5" fill="#231f20" text-anchor="middle" font-weight="bold">0</text>
<text x="1735.9" y="983.0" font-size="26.5" fill="#231f20" text-anchor="middle" font-weight="bold">4 000</text>
<text x="1892.0" y="983.0" font-size="26.5" fill="#231f20" text-anchor="middle" font-weight="bold">8 000</text>
<text x="2048.1" y="983.0" font-size="26.5" fill="#231f20" text-anchor="middle" font-weight="bold">12 000</text>
<text x="1814.0" y="1017.0" font-size="26.5" fill="#231f20" text-anchor="middle" font-weight="bold">Nnmber of cycles</text>
<text x="1468.5" y="737.0" font-size="26.5" fill="#231f20" text-anchor="middle" font-weight="bold" transform="rotate(-90 1468.5 737.0)">Voltage/V</text>
<polygon points="1579.0,866.4 1581.0,867.8 1583.0,866.6 1585.0,865.6 1587.0,867.0 1589.0,865.4 1591.0,865.4 1593.0,867.2 1595.0,868.1 1597.0,867.2 1599.0,865.7 1601.0,866.8 1603.0,865.8 1605.0,865.4 1607.0,866.6 1609.0,866.9 1611.0,866.8 1613.0,866.7 1615.0,868.4 1617.0,867.9 1619.0,866.4 1621.0,866.3 1623.0,867.8 1625.0,868.0 1627.0,868.4 1629.0,865.5 1631.0,868.3 1633.0,868.5 1635.0,865.8 1637.0,868.0 1639.0,865.9 1641.0,868.6 1643.0,866.0 1645.0,866.0 1647.0,868.1 1649.0,867.4 1651.0,866.4 1653.0,866.2 1655.0,866.2 1657.0,866.5 1659.0,868.8 1661.0,866.8 1663.0,866.5 1665.0,868.5 1667.0,866.3 1669.0,866.6 1671.0,868.3 1673.0,866.9 1675.0,866.3 1677.0,866.8 1679.0,867.2 1681.0,869.0 1683.0,867.9 1685.0,866.7 1687.0,868.9 1689.0,866.9 1691.0,868.4 1693.0,866.8 1695.0,868.9 1697.0,867.5 1699.0,866.4 1701.0,867.0 1703.0,867.1 1705.0,868.2 1707.0,866.9 1709.0,866.6 1711.0,868.1 1713.0,868.3 1715.0,869.2 1717.0,866.5 1719.0,867.9 1721.0,867.1 1723.0,868.3 1725.0,867.7 1727.0,869.5 1729.0,868.7 1731.0,867.1 1733.0,866.7 1735.0,868.8 1737.0,866.8 1739.0,868.2 1741.0,867.7 1743.0,867.0 1745.0,869.0 1747.0,869.0 1749.0,869.2 1751.0,867.9 1753.0,869.6 1755.0,868.2 1757.0,869.5 1759.0,868.8 1761.0,868.7 1763.0,867.2 1765.0,870.0 1767.0,869.2 1769.0,869.3 1771.0,868.4 1773.0,867.4 1775.0,867.2 1777.0,868.6 1779.0,869.3 1781.0,869.0 1783.0,868.0 1785.0,868.1 1787.0,867.9 1789.0,870.0 1791.0,868.6 1793.0,868.3 1795.0,867.9 1797.0,869.8 1799.0,870.0 1801.0,869.2 1803.0,867.8 1805.0,870.0 1807.0,869.6 1809.0,868.3 1811.0,868.9 1813.0,868.2 1815.0,869.4 1817.0,868.5 1819.0,870.5 1821.0,867.8 1823.0,870.3 1825.0,869.8 1827.0,868.6 1829.0,867.8 1831.0,869.1 1833.0,870.2 1835.0,868.2 1837.0,869.7 1839.0,869.7 1841.0,870.3 1843.0,869.9 1845.0,869.3 1847.0,867.9 1849.0,870.1 1851.0,868.8 1853.0,870.1 1855.0,869.8 1857.0,869.2 1859.0,870.8 1861.0,870.9 1863.0,868.5 1865.0,870.0 1867.0,869.3 1869.0,870.8 1871.0,871.0 1873.0,870.1 1875.0,870.4 1877.0,870.2 1879.0,868.9 1881.0,871.2 1883.0,869.9 1885.0,869.3 1887.0,870.9 1889.0,868.6 1891.0,870.0 1893.0,869.9 1895.0,870.9 1897.0,870.8 1899.0,869.5 1901.0,868.9 1903.0,870.1 1905.0,871.1 1907.0,871.4 1909.0,871.4 1911.0,869.3 1913.0,869.5 1915.0,870.6 1917.0,871.2 1919.0,869.6 1921.0,871.2 1923.0,869.4 1925.0,871.7 1927.0,870.5 1929.0,870.4 1931.0,870.6 1933.0,871.7 1935.0,870.1 1937.0,870.6 1939.0,871.0 1941.0,870.5 1943.0,871.8 1945.0,869.8 1947.0,869.4 1949.0,871.5 1951.0,870.5 1953.0,869.6 1955.0,871.9 1957.0,871.4 1959.0,869.7 1961.0,871.2 1963.0,870.2 1965.0,869.5 1967.0,869.6 1969.0,870.0 1971.0,870.8 1973.0,870.4 1975.0,870.9 1977.0,869.9 1979.0,871.3 1981.0,871.9 1983.0,872.0 1985.0,871.6 1987.0,872.1 1989.0,870.4 1991.0,870.1 1993.0,872.2 1995.0,870.2 1997.0,870.3 1999.0,872.1 2001.0,871.9 2003.0,870.8 2005.0,869.7 2007.0,871.7 2009.0,872.6 2011.0,871.2 2013.0,871.2 2015.0,870.3 2017.0,870.1 2019.0,871.4 2021.0,871.5 2023.0,870.4 2025.0,872.4 2027.0,872.6 2029.0,870.1 2031.0,871.3 2033.0,870.9 2035.0,871.5 2037.0,871.8 2039.0,872.1 2039.0,931.5 2037.0,929.0 2035.0,930.3 2033.0,930.4 2031.0,931.3 2029.0,931.9 2027.0,929.3 2025.0,932.0 2023.0,929.6 2021.0,929.4 2019.0,930.5 2017.0,929.1 2015.0,929.2 2013.0,931.1 2011.0,931.3 2009.0,929.3 2007.0,931.7 2005.0,929.6 2003.0,931.1 2001.0,929.4 1999.0,930.3 1997.0,929.3 1995.0,931.2 1993.0,929.4 1991.0,932.0 1989.0,931.8 1987.0,929.9 1985.0,931.4 1983.0,929.7 1981.0,930.8 1979.0,930.6 1977.0,930.9 1975.0,929.5 1973.0,930.2 1971.0,930.3 1969.0,929.6 1967.0,930.5 1965.0,931.2 1963.0,930.9 1961.0,930.0 1959.0,929.7 1957.0,929.1 1955.0,929.4 1953.0,930.9 1951.0,930.0 1949.0,931.7 1947.0,930.3 1945.0,930.4 1943.0,931.8 1941.0,930.2 1939.0,929.2 1937.0,930.5 1935.0,931.4 1933.0,930.5 1931.0,929.1 1929.0,930.5 1927.0,929.6 1925.0,930.6 1923.0,931.6 1921.0,931.7 1919.0,930.1 1917.0,930.7 1915.0,930.6 1913.0,931.2 1911.0,930.6 1909.0,929.3 1907.0,930.5 1905.0,931.1 1903.0,931.2 1901.0,929.4 1899.0,931.4 1897.0,929.5 1895.0,929.2 1893.0,929.1 1891.0,931.3 1889.0,930.3 1887.0,930.0 1885.0,931.7 1883.0,931.4 1881.0,931.9 1879.0,931.7 1877.0,931.2 1875.0,931.5 1873.0,929.6 1871.0,930.4 1869.0,931.4 1867.0,930.7 1865.0,931.7 1863.0,930.4 1861.0,931.2 1859.0,929.3 1857.0,931.4 1855.0,931.3 1853.0,930.6 1851.0,930.0 1849.0,929.5 1847.0,930.4 1845.0,929.5 1843.0,929.6 1841.0,931.9 1839.0,931.0 1837.0,930.3 1835.0,929.1 1833.0,929.7 1831.0,929.1 1829.0,929.4 1827.0,931.4 1825.0,930.7 1823.0,929.1 1821.0,929.1 1819.0,930.4 1817.0,931.5 1815.0,930.5 1813.0,930.2 1811.0,929.8 1809.0,929.5 1807.0,931.9 1805.0,931.5 1803.0,930.5 1801.0,929.9 1799.0,930.2 1797.0,931.7 1795.0,930.3 1793.0,931.0 1791.0,931.7 1789.0,931.0 1787.0,929.5 1785.0,931.0 1783.0,929.0 1781.0,931.8 1779.0,930.5 1777.0,929.7 1775.0,930.8 1773.0,931.3 1771.0,931.5 1769.0,930.7 1767.0,930.2 1765.0,931.6 1763.0,930.9 1761.0,930.8 1759.0,930.1 1757.0,930.7 1755.0,931.4 1753.0,931.6 1751.0,931.1 1749.0,931.7 1747.0,931.1 1745.0,931.7 1743.0,930.6 1741.0,932.0 1739.0,931.2 1737.0,930.9 1735.0,931.9 1733.0,931.7 1731.0,929.1 1729.0,930.8 1727.0,931.0 1725.0,931.7 1723.0,929.4 1721.0,930.1 1719.0,929.2 1717.0,929.8 1715.0,929.6 1713.0,929.8 1711.0,931.6 1709.0,929.7 1707.0,931.2 1705.0,929.9 1703.0,931.5 1701.0,931.1 1699.0,931.9 1697.0,929.3 1695.0,930.8 1693.0,931.9 1691.0,931.8 1689.0,929.6 1687.0,931.5 1685.0,929.5 1683.0,931.6 1681.0,930.5 1679.0,930.4 1677.0,930.8 1675.0,930.7 1673.0,929.2 1671.0,930.0 1669.0,929.8 1667.0,932.0 1665.0,930.9 1663.0,930.2 1661.0,931.7 1659.0,931.4 1657.0,929.8 1655.0,930.3 1653.0,930.9 1651.0,931.2 1649.0,930.3 1647.0,929.5 1645.0,929.2 1643.0,929.7 1641.0,931.3 1639.0,930.0 1637.0,929.8 1635.0,930.9 1633.0,930.2 1631.0,930.4 1629.0,929.6 1627.0,931.5 1625.0,930.2 1623.0,930.2 1621.0,929.2 1619.0,929.7 1617.0,931.1 1615.0,932.0 1613.0,929.8 1611.0,931.0 1609.0,930.9 1607.0,931.5 1605.0,930.4 1603.0,929.7 1601.0,929.2 1599.0,929.0 1597.0,930.8 1595.0,931.9 1593.0,929.1 1591.0,931.4 1589.0,929.9 1587.0,931.4 1585.0,930.5 1583.0,930.8 1581.0,930.4 1579.0,930.7" fill="#6657a0" stroke="none" stroke-width="0"/>
<rect x="1609.3" y="849.3" width="25.7" height="90.3" fill="none" stroke="#f0c080" stroke-width="2.5" stroke-dasharray="5 3"/>
<line x1="1609.3" y1="849.3" x2="1611.5" y2="756.6" stroke="#f2d49a" stroke-width="2.5" stroke-dasharray="5 3"/>
<line x1="1635.0" y1="849.3" x2="1751.0" y2="756.6" stroke="#f2d49a" stroke-width="2.5" stroke-dasharray="5 3"/>
<rect x="1611.5" y="574.7" width="139.5" height="182.0" fill="#fdfbfb" stroke="#555" stroke-width="3"/>
<line x1="1611.5" y1="742.0" x2="1616.5" y2="742.0" stroke="#555" stroke-width="2.5"/>
<line x1="1611.5" y1="686.0" x2="1616.5" y2="686.0" stroke="#555" stroke-width="2.5"/>
<line x1="1611.5" y1="630.0" x2="1616.5" y2="630.0" stroke="#555" stroke-width="2.5"/>
<line x1="1611.5" y1="574.0" x2="1616.5" y2="574.0" stroke="#555" stroke-width="2.5"/>
<text x="1603.0" y="751.5" font-size="26.5" fill="#231f20" text-anchor="end" font-weight="bold">0</text>
<text x="1603.0" y="695.5" font-size="26.5" fill="#231f20" text-anchor="end" font-weight="bold">5</text>
<text x="1603.0" y="639.5" font-size="26.5" fill="#231f20" text-anchor="end" font-weight="bold">10</text>
<text x="1603.0" y="583.5" font-size="26.5" fill="#231f20" text-anchor="end" font-weight="bold">15</text>
<line x1="1632.0" y1="756.7" x2="1632.0" y2="751.7" stroke="#555" stroke-width="2.5"/>
<text x="1632.0" y="789.0" font-size="26.5" fill="#231f20" text-anchor="middle" font-weight="bold">0</text>
<line x1="1682.7" y1="756.7" x2="1682.7" y2="751.7" stroke="#555" stroke-width="2.5"/>
<text x="1682.7" y="789.0" font-size="26.5" fill="#231f20" text-anchor="middle" font-weight="bold">3</text>
<line x1="1734.0" y1="756.7" x2="1734.0" y2="751.7" stroke="#555" stroke-width="2.5"/>
<text x="1734.0" y="789.0" font-size="26.5" fill="#231f20" text-anchor="middle" font-weight="bold">6</text>
<text x="1681.5" y="824.4" font-size="26.5" fill="#231f20" text-anchor="middle" font-weight="bold">Time/s</text>
<text x="1567.0" y="644.0" font-size="26.5" fill="#231f20" text-anchor="middle" font-weight="bold" transform="rotate(-90 1567.0 644.0)">Voltage/V</text>
<text x="1780.0" y="644.0" font-size="26.5" fill="#231f20" text-anchor="middle" font-weight="bold" transform="rotate(-90 1780.0 644.0)">Voltage/V</text>
<polyline points="1612.0,744.0 1616.0,742.0 1622.0,742.2 1628.0,742.2 1634.0,741.6 1636.5,742.0 1638.0,739.0 1638.5,649.0 1640.5,646.0 1644.0,645.4 1650.0,645.8 1656.0,645.7 1662.9,646.0 1664.4,649.0 1664.9,739.0 1666.9,742.0 1668.4,742.4 1674.4,742.2 1680.4,742.1 1686.4,742.1 1692.4,742.2 1695.2,742.0 1696.7,739.0 1697.2,649.0 1699.2,646.0 1702.7,645.6 1708.7,645.9 1714.7,645.6 1720.7,646.5 1722.3,646.0 1723.8,649.0 1724.3,739.0 1726.3,742.0 1729.8,741.5 1735.8,742.4 1741.8,741.5 1747.8,742.2 1750.0,742.0" fill="none" stroke="#9fe0e0" stroke-width="5.5" stroke-linejoin="round" stroke-linecap="round"/>
<polyline points="1612.0,744.0 1616.0,742.0 1622.0,742.2 1628.0,742.2 1634.0,741.6 1636.5,742.0 1638.0,739.0 1638.5,649.0 1640.5,646.0 1644.0,645.4 1650.0,645.8 1656.0,645.7 1662.9,646.0 1664.4,649.0 1664.9,739.0 1666.9,742.0 1668.4,742.4 1674.4,742.2 1680.4,742.1 1686.4,742.1 1692.4,742.2 1695.2,742.0 1696.7,739.0 1697.2,649.0 1699.2,646.0 1702.7,645.6 1708.7,645.9 1714.7,645.6 1720.7,646.5 1722.3,646.0 1723.8,649.0 1724.3,739.0 1726.3,742.0 1729.8,741.5 1735.8,742.4 1741.8,741.5 1747.8,742.2 1750.0,742.0" fill="none" stroke="#3f9890" stroke-width="2.6" stroke-linejoin="round" stroke-linecap="round"/>
<text x="1619.6" y="593.8" font-size="17" fill="#231f20" text-anchor="start" font-weight="bold">1 000 th cycle</text>
<text x="1667.0" y="624.6" font-size="26.5" fill="#e39a3c" text-anchor="start" font-weight="bold">70 ms</text>
<path d="M1632,685 Q1606,640 1655,614" fill="none" stroke="#f0c070" stroke-width="3"/>
<polygon points="1661.0,612.0 1651.0,609.0 1653.0,620.0" fill="#e8a850" stroke="none" stroke-width="0"/>
<rect x="1820.4" y="573.3" width="238.3" height="180.8" fill="#fdfbfb" stroke="#555" stroke-width="3"/>
<line x1="1820.4" y1="727.5" x2="1825.4" y2="727.5" stroke="#555" stroke-width="2.5"/>
<line x1="1820.4" y1="676.1" x2="1825.4" y2="676.1" stroke="#555" stroke-width="2.5"/>
<line x1="1820.4" y1="624.7" x2="1825.4" y2="624.7" stroke="#555" stroke-width="2.5"/>
<line x1="1820.4" y1="573.3" x2="1825.4" y2="573.3" stroke="#555" stroke-width="2.5"/>
<line x1="1820.4" y1="701.8" x2="1823.4" y2="701.8" stroke="#555" stroke-width="2"/>
<line x1="1820.4" y1="650.4" x2="1823.4" y2="650.4" stroke="#555" stroke-width="2"/>
<line x1="1820.4" y1="599.0" x2="1823.4" y2="599.0" stroke="#555" stroke-width="2"/>
<text x="1808.0" y="737.0" font-size="26.5" fill="#231f20" text-anchor="end" font-weight="bold">0</text>
<text x="1808.0" y="685.6" font-size="26.5" fill="#231f20" text-anchor="end" font-weight="bold">2</text>
<text x="1808.0" y="634.2" font-size="26.5" fill="#231f20" text-anchor="end" font-weight="bold">4</text>
<text x="1808.0" y="582.8" font-size="26.5" fill="#231f20" text-anchor="end" font-weight="bold">6</text>
<line x1="1821.0" y1="754.1" x2="1821.0" y2="749.1" stroke="#555" stroke-width="2.5"/>
<text x="1821.0" y="788.6" font-size="26.5" fill="#231f20" text-anchor="middle" font-weight="bold">0</text>
<line x1="1900.2" y1="754.1" x2="1900.2" y2="749.1" stroke="#555" stroke-width="2.5"/>
<text x="1900.2" y="788.6" font-size="26.5" fill="#231f20" text-anchor="middle" font-weight="bold">10</text>
<line x1="1979.4" y1="754.1" x2="1979.4" y2="749.1" stroke="#555" stroke-width="2.5"/>
<text x="1979.4" y="788.6" font-size="26.5" fill="#231f20" text-anchor="middle" font-weight="bold">20</text>
<line x1="2058.7" y1="754.1" x2="2058.7" y2="749.1" stroke="#555" stroke-width="2.5"/>
<text x="2058.7" y="788.6" font-size="26.5" fill="#231f20" text-anchor="middle" font-weight="bold">30</text>
<line x1="1860.6" y1="754.1" x2="1860.6" y2="751.1" stroke="#555" stroke-width="2"/>
<line x1="1939.8" y1="754.1" x2="1939.8" y2="751.1" stroke="#555" stroke-width="2"/>
<line x1="2019.0" y1="754.1" x2="2019.0" y2="751.1" stroke="#555" stroke-width="2"/>
<text x="1939.8" y="824.4" font-size="26.5" fill="#231f20" text-anchor="middle" font-weight="bold">Time/s</text>
<polyline points="1827.7,726.3 1837.7,726.3 1838.7,655.9 1840.2,653.9 1849.7,653.9 1851.2,655.9 1852.2,726.3 1863.5,726.3 1864.5,638.7 1866.0,636.7 1869.3,636.7 1870.8,638.7 1871.8,726.3 1883.9,726.3 1884.9,629.3 1886.4,627.3 1891.2,627.3 1892.7,629.3 1893.7,726.3 1905.0,726.3 1906.0,638.7 1907.5,636.7 1911.6,636.7 1913.1,638.7 1914.1,726.3 1924.6,726.3 1925.6,655.9 1927.1,653.9 1931.1,653.9 1932.6,655.9 1933.6,726.3 1944.9,726.3 1945.9,655.9 1947.4,653.9 1956.2,653.9 1957.7,655.9 1958.7,726.3 1968.4,726.3 1969.4,638.7 1970.9,636.7 1975.0,636.7 1976.5,638.7 1977.5,726.3 1989.6,726.3 1990.6,629.3 1992.1,627.3 1996.1,627.3 1997.6,629.3 1998.6,726.3 2010.7,726.3 2011.7,638.7 2013.2,636.7 2016.5,636.7 2018.0,638.7 2019.0,726.3 2030.3,726.3 2031.3,655.9 2032.8,653.9 2036.8,653.9 2038.3,655.9 2039.3,726.3 2050.1,726.3" fill="none" stroke="#b0e8e8" stroke-width="5.5" stroke-linejoin="round" stroke-linecap="round"/>
<polyline points="1827.7,726.3 1837.7,726.3 1838.7,655.9 1840.2,653.9 1849.7,653.9 1851.2,655.9 1852.2,726.3 1863.5,726.3 1864.5,638.7 1866.0,636.7 1869.3,636.7 1870.8,638.7 1871.8,726.3 1883.9,726.3 1884.9,629.3 1886.4,627.3 1891.2,627.3 1892.7,629.3 1893.7,726.3 1905.0,726.3 1906.0,638.7 1907.5,636.7 1911.6,636.7 1913.1,638.7 1914.1,726.3 1924.6,726.3 1925.6,655.9 1927.1,653.9 1931.1,653.9 1932.6,655.9 1933.6,726.3 1944.9,726.3 1945.9,655.9 1947.4,653.9 1956.2,653.9 1957.7,655.9 1958.7,726.3 1968.4,726.3 1969.4,638.7 1970.9,636.7 1975.0,636.7 1976.5,638.7 1977.5,726.3 1989.6,726.3 1990.6,629.3 1992.1,627.3 1996.1,627.3 1997.6,629.3 1998.6,726.3 2010.7,726.3 2011.7,638.7 2013.2,636.7 2016.5,636.7 2018.0,638.7 2019.0,726.3 2030.3,726.3 2031.3,655.9 2032.8,653.9 2036.8,653.9 2038.3,655.9 2039.3,726.3 2050.1,726.3" fill="none" stroke="#4a9e98" stroke-width="2.8" stroke-linejoin="round" stroke-linecap="round"/>
<text x="1828.5" y="600.7" font-size="25" fill="#e39a3c" text-anchor="start" font-weight="bold">(Pa)</text>
<text x="1826.5" y="632.0" font-size="25.5" fill="#e39a3c" text-anchor="start" font-weight="bold">4.4</text>
<text x="1910.0" y="618.7" font-size="25.5" fill="#e39a3c" text-anchor="start" font-weight="bold">52</text>
<text x="1989.0" y="606.2" font-size="25.5" fill="#e39a3c" text-anchor="start" font-weight="bold">255</text>
<path d="M1839,654 Q1832,652 1831,646" fill="none" stroke="#e39a3c" stroke-width="2.5"/>
<path d="M1916,640 Q1926,638 1928,630" fill="none" stroke="#e39a3c" stroke-width="2.5"/>
<path d="M2002,629 Q2012,627 2013,619" fill="none" stroke="#e39a3c" stroke-width="2.5"/>
<rect x="145.0" y="1000.5" width="28.0" height="5.0" fill="#c8c8c8" stroke="none" stroke-width="0" rx="2"/>
<rect x="153.0" y="1005.0" width="12.0" height="11.0" fill="#d8d8d8" stroke="none" stroke-width="0"/>
<rect x="144.0" y="1016.0" width="30.0" height="70.0" fill="#f4f4f4" stroke="#b0b0b0" stroke-width="1.5" rx="3"/>
<rect x="145.0" y="1047.0" width="28.0" height="4.0" fill="#222" stroke="none" stroke-width="0"/>
<rect x="145.0" y="1053.0" width="28.0" height="32.0" fill="#e8b896" stroke="none" stroke-width="0"/>
<rect x="152.0" y="1085.0" width="14.0" height="8.0" fill="#2e8a6a" stroke="none" stroke-width="0" rx="2"/>
<line x1="159.0" y1="1093.0" x2="159.0" y2="1114.0" stroke="#222" stroke-width="3"/>
<polyline points="160.5,1114.0 63.3,1114.0 63.3,1171.0" fill="none" stroke="#222" stroke-width="3" stroke-linejoin="round" stroke-linecap="round"/>
<circle cx="65.8" cy="1191.6" r="20.0" fill="#fff" stroke="#222" stroke-width="3"/>
<text x="65.8" y="1202.0" font-size="28" fill="#222" text-anchor="middle" font-weight="normal">V</text>
<polyline points="63.3,1212.0 63.3,1283.0" fill="none" stroke="#222" stroke-width="3" stroke-linejoin="round" stroke-linecap="round"/>
<line x1="63.3" y1="1248.6" x2="84.0" y2="1248.6" stroke="#222" stroke-width="3"/>
<line x1="54.0" y1="1284.0" x2="73.0" y2="1284.0" stroke="#222" stroke-width="2.5"/>
<line x1="57.0" y1="1289.0" x2="70.0" y2="1289.0" stroke="#222" stroke-width="2.5"/>
<line x1="60.0" y1="1294.0" x2="67.0" y2="1294.0" stroke="#222" stroke-width="2.5"/>
<polyline points="160.0,1116.0 160.4,1116.3 160.7,1116.5 161.1,1116.8 161.5,1117.1 161.9,1117.4 162.2,1117.7 162.6,1117.9 163.0,1118.2 163.4,1118.5 163.7,1118.8 164.1,1119.0 164.4,1119.3 164.7,1119.6 164.9,1119.8 165.1,1120.1 165.3,1120.4 165.5,1120.7 165.6,1121.0 165.7,1121.2 165.7,1121.5 165.7,1121.8 165.7,1122.0 165.6,1122.3 165.4,1122.6 165.2,1122.9 164.9,1123.2 164.7,1123.4 164.3,1123.7 163.9,1124.0 163.5,1124.2 163.0,1124.5 162.5,1124.8 162.0,1125.1 161.4,1125.3 160.8,1125.6 160.2,1125.9 159.6,1126.2 159.0,1126.5 158.3,1126.7 157.7,1127.0 157.0,1127.3 156.4,1127.5 155.7,1127.8 155.1,1128.1 154.5,1128.4 154.0,1128.7 153.5,1128.9 153.0,1129.2 152.5,1129.5 152.1,1129.8 151.8,1130.0 151.5,1130.3 151.3,1130.6 151.1,1130.8 151.1,1131.1 151.0,1131.4 151.1,1131.7 151.2,1132.0 151.4,1132.2 151.6,1132.5 151.9,1132.8 152.3,1133.0 152.8,1133.3 153.3,1133.6 153.9,1133.9 154.5,1134.2 155.2,1134.4 156.0,1134.7 156.8,1135.0 157.6,1135.2 158.5,1135.5 159.3,1135.8 160.2,1136.1 161.2,1136.3 162.1,1136.6 163.0,1136.9 163.9,1137.2 164.8,1137.5 165.7,1137.7 166.6,1138.0 167.4,1138.3 168.2,1138.5 168.9,1138.8 169.6,1139.1 170.2,1139.4 170.7,1139.7 171.2,1139.9 171.5,1140.2 171.8,1140.5 172.1,1140.8 172.2,1141.0 172.2,1141.3 172.2,1141.6 172.0,1141.8 171.8,1142.1 171.4,1142.4 171.0,1142.7 170.5,1143.0 169.9,1143.2 169.2,1143.5 168.4,1143.8 167.6,1144.0 166.7,1144.3 165.7,1144.6 164.7,1144.9 163.6,1145.2 162.4,1145.4 161.3,1145.7 160.1,1146.0 158.9,1146.2 157.7,1146.5 156.5,1146.8 155.3,1147.1 154.1,1147.3 153.0,1147.6 151.9,1147.9 150.8,1148.2 149.8,1148.5 148.9,1148.7 148.0,1149.0 147.2,1149.3 146.5,1149.5 145.9,1149.8 145.4,1150.1 145.0,1150.4 144.8,1150.7 144.6,1150.9 144.5,1151.2 144.6,1151.5 144.7,1151.8 145.0,1152.0 145.4,1152.3 145.9,1152.6 146.6,1152.8 147.3,1153.1 148.2,1153.4 149.1,1153.7 150.1,1154.0 151.3,1154.2 152.5,1154.5 153.7,1154.8 155.1,1155.0 156.4,1155.3 157.9,1155.6 159.3,1155.9 160.8,1156.2 162.3,1156.4 163.8,1156.7 165.2,1157.0 166.7,1157.2 168.1,1157.5 169.5,1157.8 170.8,1158.1 172.0,1158.3 173.2,1158.6 174.3,1158.9 175.2,1159.2 176.1,1159.5 176.9,1159.7 177.5,1160.0 178.0,1160.3 178.4,1160.5 178.6,1160.8 178.8,1161.1 178.7,1161.4 178.5,1161.7 178.2,1161.9 177.8,1162.2 177.2,1162.5 176.5,1162.8 175.6,1163.0 174.6,1163.3 173.5,1163.6 172.3,1163.8 171.0,1164.1 169.6,1164.4 168.1,1164.7 166.5,1165.0 164.8,1165.2 163.2,1165.5 161.4,1165.8 159.7,1166.0 157.9,1166.3 156.1,1166.6 154.4,1166.9 152.7,1167.2 151.0,1167.4 149.4,1167.7 147.8,1168.0 146.3,1168.2 144.9,1168.5 143.6,1168.8 142.4,1169.1 141.4,1169.3 140.4,1169.6 139.6,1169.9 139.0,1170.2 138.5,1170.5 138.2,1170.7 138.0,1171.0 138.0,1171.3 138.2,1171.5 138.5,1171.8 139.0,1172.1 139.6,1172.4 140.4,1172.7 141.4,1172.9 142.5,1173.2 143.7,1173.5 145.1,1173.8 146.6,1174.0 148.3,1174.3 150.0,1174.6 151.8,1174.8 153.7,1175.1 155.6,1175.4 157.6,1175.7 159.6,1176.0 161.7,1176.2 163.7,1176.5 165.8,1176.8 167.8,1177.0 169.7,1177.3 171.6,1177.6 173.5,1177.9 175.2,1178.2 176.9,1178.4 178.4,1178.7 179.8,1179.0 181.1,1179.2 182.2,1179.5 183.1,1179.8 183.9,1180.1 184.5,1180.3 185.0,1180.6 185.2,1180.9 185.3,1181.2 185.2,1181.5 184.9,1181.7 184.3,1182.0 183.7,1182.3 182.8,1182.5 181.7,1182.8 180.5,1183.1 179.1,1183.4 177.6,1183.7 175.9,1183.9 174.1,1184.2 172.2,1184.5 170.1,1184.8 168.0,1185.0 165.8,1185.3 163.6,1185.6 161.3,1185.8 158.9,1186.1 156.6,1186.4 154.3,1186.7 152.0,1187.0 149.7,1187.2 147.6,1187.5 145.5,1187.8 143.4,1188.0 141.5,1188.3 139.8,1188.6 138.1,1188.9 136.6,1189.2 135.3,1189.4 134.2,1189.7 133.2,1190.0 132.5,1190.2 131.9,1190.5 131.6,1190.8 131.4,1191.1 131.5,1191.3 131.8,1191.6 132.3,1191.9 133.0,1192.2 133.9,1192.5 135.1,1192.7 136.4,1193.0 137.9,1193.3 139.6,1193.5 141.4,1193.8 143.4,1194.1 145.5,1194.4 147.8,1194.7 150.1,1194.9 152.6,1195.2 155.1,1195.5 157.6,1195.8 160.2,1196.0 162.8,1196.3 165.5,1196.6 168.0,1196.8 170.6,1197.1 173.0,1197.4 175.4,1197.7 177.7,1198.0 179.9,1198.2 181.9,1198.5 183.8,1198.8 185.5,1199.0 187.0,1199.3 188.4,1199.6 189.5,1199.9 190.4,1200.2 191.1,1200.4 191.6,1200.7 191.8,1201.0 191.8,1201.2 191.6,1201.5 191.1,1201.8 190.4,1202.1 189.4,1202.3 188.2,1202.6 186.8,1202.9 185.2,1203.2 183.4,1203.5 181.4,1203.7 179.3,1204.0 177.0,1204.3 174.5,1204.5 171.9,1204.8 169.3,1205.1 166.5,1205.4 163.7,1205.7 160.8,1205.9 157.9,1206.2 155.0,1206.5 152.1,1206.8 149.3,1207.0 146.5,1207.3 143.9,1207.6 141.3,1207.8 138.9,1208.1 136.6,1208.4 134.4,1208.7 132.5,1209.0 130.7,1209.2 129.2,1209.5 127.8,1209.8 126.8,1210.0 125.9,1210.3 125.3,1210.6 125.0,1210.9 124.9,1211.2 125.1,1211.4 125.5,1211.7 126.2,1212.0 127.2,1212.2 128.4,1212.5 129.9,1212.8 131.6,1213.1 133.5,1213.3 135.6,1213.6 137.9,1213.9 140.4,1214.2 143.1,1214.5 145.8,1214.7 148.8,1215.0 151.8,1215.3 154.8,1215.5 158.0,1215.8 161.2,1216.1 164.3,1216.4 167.5,1216.7 170.6,1216.9 173.7,1217.2 176.6,1217.5 179.5,1217.8 182.2,1218.0 184.8,1218.3 187.2,1218.6 189.4,1218.8 191.4,1219.1 193.2,1219.4 194.7,1219.7 196.0,1220.0 197.0,1220.2 197.7,1220.5 198.2,1220.8 198.4,1221.0 198.3,1221.3 197.9,1221.6 197.2,1221.9 196.2,1222.2 195.0,1222.4 193.5,1222.7 191.7,1223.0 189.7,1223.2 187.5,1223.5 185.0,1223.8 182.4,1224.1 179.6,1224.3 176.6,1224.6 173.4,1224.9 170.2,1225.2 166.8,1225.5 163.4,1225.7" fill="none" stroke="#e8dcb8" stroke-width="3" stroke-linejoin="round" stroke-linecap="round"/>
<polygon points="88,1227 228,1227 244,1272 72,1272" fill="url(#gmat)"/>
<polyline points="105.7,1257.3 108.4,1257.1" fill="none" stroke="#a06458" stroke-width="1.6" stroke-linejoin="round" stroke-linecap="round"/>
<polyline points="234.4,1248.5 243.7,1245.3" fill="none" stroke="#905050" stroke-width="1.6" stroke-linejoin="round" stroke-linecap="round"/>
<polyline points="116.8,1229.1 114.2,1230.0" fill="none" stroke="#a06458" stroke-width="1.6" stroke-linejoin="round" stroke-linecap="round"/>
<polyline points="102.6,1259.8 111.0,1261.7" fill="none" stroke="#d8c090" stroke-width="1.6" stroke-linejoin="round" stroke-linecap="round"/>
<polyline points="235.6,1259.3 243.1,1260.4" fill="none" stroke="#a06458" stroke-width="1.6" stroke-linejoin="round" stroke-linecap="round"/>
<polyline points="229.3,1251.1 233.1,1252.6" fill="none" stroke="#d8c090" stroke-width="1.6" stroke-linejoin="round" stroke-linecap="round"/>
<polyline points="83.6,1259.4 75.4,1262.5" fill="none" stroke="#a06458" stroke-width="1.6" stroke-linejoin="round" stroke-linecap="round"/>
<polyline points="150.7,1251.6 147.5,1251.5" fill="none" stroke="#a06458" stroke-width="1.6" stroke-linejoin="round" stroke-linecap="round"/>
<polyline points="183.8,1248.3 190.2,1244.0" fill="none" stroke="#a06458" stroke-width="1.6" stroke-linejoin="round" stroke-linecap="round"/>
<polyline points="112.5,1268.7 120.4,1271.3" fill="none" stroke="#905050" stroke-width="1.6" stroke-linejoin="round" stroke-linecap="round"/>
<polyline points="234.3,1231.9 235.5,1232.5" fill="none" stroke="#d8c090" stroke-width="1.6" stroke-linejoin="round" stroke-linecap="round"/>
<polyline points="111.4,1266.8 119.1,1265.9" fill="none" stroke="#d8c090" stroke-width="1.6" stroke-linejoin="round" stroke-linecap="round"/>
<polyline points="228.9,1249.6 225.3,1249.4" fill="none" stroke="#d8c090" stroke-width="1.6" stroke-linejoin="round" stroke-linecap="round"/>
<polyline points="84.2,1232.8 88.5,1237.8" fill="none" stroke="#d8c090" stroke-width="1.6" stroke-linejoin="round" stroke-linecap="round"/>
<polyline points="80.4,1231.9 82.4,1232.1" fill="none" stroke="#905050" stroke-width="1.6" stroke-linejoin="round" stroke-linecap="round"/>
<polyline points="175.0,1251.8 177.4,1248.6" fill="none" stroke="#a06458" stroke-width="1.6" stroke-linejoin="round" stroke-linecap="round"/>
<polyline points="177.7,1263.2 174.4,1265.8" fill="none" stroke="#d8c090" stroke-width="1.6" stroke-linejoin="round" stroke-linecap="round"/>
<polyline points="118.3,1235.9 126.8,1232.7" fill="none" stroke="#d8c090" stroke-width="1.6" stroke-linejoin="round" stroke-linecap="round"/>
<polyline points="138.5,1257.0 142.0,1261.0" fill="none" stroke="#a06458" stroke-width="1.6" stroke-linejoin="round" stroke-linecap="round"/>
<polyline points="143.5,1269.6 152.7,1270.5" fill="none" stroke="#d8c090" stroke-width="1.6" stroke-linejoin="round" stroke-linecap="round"/>
<polyline points="156.6,1244.4 151.5,1248.2" fill="none" stroke="#a06458" stroke-width="1.6" stroke-linejoin="round" stroke-linecap="round"/>
<polyline points="167.6,1247.0 165.8,1249.4" fill="none" stroke="#a06458" stroke-width="1.6" stroke-linejoin="round" stroke-linecap="round"/>
<polyline points="210.6,1231.1 205.7,1229.0" fill="none" stroke="#d8c090" stroke-width="1.6" stroke-linejoin="round" stroke-linecap="round"/>
<polyline points="118.8,1245.2 126.2,1246.6" fill="none" stroke="#a06458" stroke-width="1.6" stroke-linejoin="round" stroke-linecap="round"/>
<polyline points="233.4,1259.6 233.0,1257.1" fill="none" stroke="#905050" stroke-width="1.6" stroke-linejoin="round" stroke-linecap="round"/>
<polyline points="162.0,1258.9 152.6,1256.0" fill="none" stroke="#d8c090" stroke-width="1.6" stroke-linejoin="round" stroke-linecap="round"/>
<polyline points="204.1,1265.1 206.1,1264.4" fill="none" stroke="#905050" stroke-width="1.6" stroke-linejoin="round" stroke-linecap="round"/>
<polyline points="220.8,1248.6 213.6,1249.4" fill="none" stroke="#a06458" stroke-width="1.6" stroke-linejoin="round" stroke-linecap="round"/>
<polyline points="199.8,1229.4 203.6,1234.0" fill="none" stroke="#a06458" stroke-width="1.6" stroke-linejoin="round" stroke-linecap="round"/>
<polyline points="121.2,1242.4 116.2,1246.9" fill="none" stroke="#d8c090" stroke-width="1.6" stroke-linejoin="round" stroke-linecap="round"/>
<polyline points="120.1,1245.6 129.3,1249.7" fill="none" stroke="#a06458" stroke-width="1.6" stroke-linejoin="round" stroke-linecap="round"/>
<polyline points="102.1,1245.3 95.9,1246.7" fill="none" stroke="#a06458" stroke-width="1.6" stroke-linejoin="round" stroke-linecap="round"/>
<polyline points="91.2,1233.9 86.8,1231.9" fill="none" stroke="#d8c090" stroke-width="1.6" stroke-linejoin="round" stroke-linecap="round"/>
<polyline points="141.8,1265.4 144.2,1262.2" fill="none" stroke="#d8c090" stroke-width="1.6" stroke-linejoin="round" stroke-linecap="round"/>
<polyline points="111.5,1259.5 116.6,1260.6" fill="none" stroke="#905050" stroke-width="1.6" stroke-linejoin="round" stroke-linecap="round"/>
<polyline points="216.3,1260.7 222.1,1255.8" fill="none" stroke="#d8c090" stroke-width="1.6" stroke-linejoin="round" stroke-linecap="round"/>
<polyline points="214.9,1245.3 216.2,1248.9" fill="none" stroke="#a06458" stroke-width="1.6" stroke-linejoin="round" stroke-linecap="round"/>
<polyline points="119.5,1257.6 115.7,1253.0" fill="none" stroke="#d8c090" stroke-width="1.6" stroke-linejoin="round" stroke-linecap="round"/>
<polyline points="104.4,1258.8 114.2,1261.9" fill="none" stroke="#905050" stroke-width="1.6" stroke-linejoin="round" stroke-linecap="round"/>
<polyline points="156.4,1252.5 157.4,1248.1" fill="none" stroke="#905050" stroke-width="1.6" stroke-linejoin="round" stroke-linecap="round"/>
<polyline points="194.6,1268.7 190.8,1270.6" fill="none" stroke="#905050" stroke-width="1.6" stroke-linejoin="round" stroke-linecap="round"/>
<polyline points="198.2,1236.8 200.5,1235.0" fill="none" stroke="#a06458" stroke-width="1.6" stroke-linejoin="round" stroke-linecap="round"/>
<polyline points="135.4,1242.0 145.3,1238.1" fill="none" stroke="#a06458" stroke-width="1.6" stroke-linejoin="round" stroke-linecap="round"/>
<polyline points="181.7,1254.7 187.8,1259.5" fill="none" stroke="#905050" stroke-width="1.6" stroke-linejoin="round" stroke-linecap="round"/>
<polyline points="176.9,1229.8 179.8,1229.2" fill="none" stroke="#905050" stroke-width="1.6" stroke-linejoin="round" stroke-linecap="round"/>
<polyline points="160.0,1264.9 151.4,1260.2" fill="none" stroke="#905050" stroke-width="1.6" stroke-linejoin="round" stroke-linecap="round"/>
<polyline points="147.7,1239.1 151.8,1242.3" fill="none" stroke="#905050" stroke-width="1.6" stroke-linejoin="round" stroke-linecap="round"/>
<polyline points="146.6,1261.7 144.6,1260.0" fill="none" stroke="#a06458" stroke-width="1.6" stroke-linejoin="round" stroke-linecap="round"/>
<polyline points="178.6,1268.5 170.3,1268.3" fill="none" stroke="#d8c090" stroke-width="1.6" stroke-linejoin="round" stroke-linecap="round"/>
<polyline points="138.2,1253.8 132.5,1253.3" fill="none" stroke="#905050" stroke-width="1.6" stroke-linejoin="round" stroke-linecap="round"/>
<polyline points="198.3,1256.4 205.5,1258.4" fill="none" stroke="#905050" stroke-width="1.6" stroke-linejoin="round" stroke-linecap="round"/>
<polyline points="120.9,1248.7 120.9,1246.8" fill="none" stroke="#d8c090" stroke-width="1.6" stroke-linejoin="round" stroke-linecap="round"/>
<polyline points="208.7,1268.5 218.5,1263.6" fill="none" stroke="#d8c090" stroke-width="1.6" stroke-linejoin="round" stroke-linecap="round"/>
<polyline points="111.5,1264.9 115.8,1260.8" fill="none" stroke="#a06458" stroke-width="1.6" stroke-linejoin="round" stroke-linecap="round"/>
<polyline points="92.4,1241.4 101.3,1243.8" fill="none" stroke="#d8c090" stroke-width="1.6" stroke-linejoin="round" stroke-linecap="round"/>
<polyline points="233.3,1269.6 226.7,1269.0" fill="none" stroke="#905050" stroke-width="1.6" stroke-linejoin="round" stroke-linecap="round"/>
<polyline points="132.3,1255.3 135.9,1252.9" fill="none" stroke="#a06458" stroke-width="1.6" stroke-linejoin="round" stroke-linecap="round"/>
<polyline points="130.2,1239.4 137.2,1236.0" fill="none" stroke="#905050" stroke-width="1.6" stroke-linejoin="round" stroke-linecap="round"/>
<polyline points="159.1,1238.8 162.9,1240.9" fill="none" stroke="#a06458" stroke-width="1.6" stroke-linejoin="round" stroke-linecap="round"/>
<polyline points="226.8,1248.1 225.5,1249.3" fill="none" stroke="#d8c090" stroke-width="1.6" stroke-linejoin="round" stroke-linecap="round"/>
<polyline points="184.5,1256.4 186.9,1252.4" fill="none" stroke="#a06458" stroke-width="1.6" stroke-linejoin="round" stroke-linecap="round"/>
<polyline points="85.4,1262.2 94.1,1264.3" fill="none" stroke="#a06458" stroke-width="1.6" stroke-linejoin="round" stroke-linecap="round"/>
<polyline points="91.7,1252.8 89.6,1252.2" fill="none" stroke="#d8c090" stroke-width="1.6" stroke-linejoin="round" stroke-linecap="round"/>
<polyline points="117.5,1229.3 118.4,1225.3" fill="none" stroke="#d8c090" stroke-width="1.6" stroke-linejoin="round" stroke-linecap="round"/>
<polyline points="109.7,1244.2 99.7,1240.9" fill="none" stroke="#905050" stroke-width="1.6" stroke-linejoin="round" stroke-linecap="round"/>
<polyline points="203.5,1262.7 204.1,1258.2" fill="none" stroke="#a06458" stroke-width="1.6" stroke-linejoin="round" stroke-linecap="round"/>
<polyline points="145.1,1265.2 140.0,1265.9" fill="none" stroke="#905050" stroke-width="1.6" stroke-linejoin="round" stroke-linecap="round"/>
<polyline points="224.3,1265.2 214.7,1266.0" fill="none" stroke="#a06458" stroke-width="1.6" stroke-linejoin="round" stroke-linecap="round"/>
<polyline points="148.0,1263.1 157.8,1264.7" fill="none" stroke="#a06458" stroke-width="1.6" stroke-linejoin="round" stroke-linecap="round"/>
<polyline points="89.3,1262.4 91.4,1263.6" fill="none" stroke="#d8c090" stroke-width="1.6" stroke-linejoin="round" stroke-linecap="round"/>
<polyline points="186.0,1256.7 179.0,1253.3" fill="none" stroke="#d8c090" stroke-width="1.6" stroke-linejoin="round" stroke-linecap="round"/>
<polyline points="126.5,1254.7 134.3,1250.4" fill="none" stroke="#a06458" stroke-width="1.6" stroke-linejoin="round" stroke-linecap="round"/>
<polyline points="109.1,1233.0 115.6,1231.6" fill="none" stroke="#d8c090" stroke-width="1.6" stroke-linejoin="round" stroke-linecap="round"/>
<polyline points="89.2,1230.5 89.1,1232.3" fill="none" stroke="#905050" stroke-width="1.6" stroke-linejoin="round" stroke-linecap="round"/>
<polyline points="142.3,1230.3 137.0,1228.9" fill="none" stroke="#d8c090" stroke-width="1.6" stroke-linejoin="round" stroke-linecap="round"/>
<polyline points="143.7,1257.3 148.3,1257.6" fill="none" stroke="#a06458" stroke-width="1.6" stroke-linejoin="round" stroke-linecap="round"/>
<polyline points="130.6,1238.0 130.7,1240.3" fill="none" stroke="#905050" stroke-width="1.6" stroke-linejoin="round" stroke-linecap="round"/>
<polyline points="163.1,1254.8 156.6,1256.9" fill="none" stroke="#d8c090" stroke-width="1.6" stroke-linejoin="round" stroke-linecap="round"/>
<polyline points="154.6,1264.4 153.5,1259.6" fill="none" stroke="#d8c090" stroke-width="1.6" stroke-linejoin="round" stroke-linecap="round"/>
<polyline points="186.0,1237.9 191.6,1241.9" fill="none" stroke="#905050" stroke-width="1.6" stroke-linejoin="round" stroke-linecap="round"/>
<polyline points="174.2,1233.6 170.4,1230.7" fill="none" stroke="#d8c090" stroke-width="1.6" stroke-linejoin="round" stroke-linecap="round"/>
<polyline points="226.1,1261.5 216.4,1260.1" fill="none" stroke="#905050" stroke-width="1.6" stroke-linejoin="round" stroke-linecap="round"/>
<polyline points="121.4,1230.0 118.9,1232.5" fill="none" stroke="#a06458" stroke-width="1.6" stroke-linejoin="round" stroke-linecap="round"/>
<polyline points="225.2,1251.0 232.8,1248.1" fill="none" stroke="#905050" stroke-width="1.6" stroke-linejoin="round" stroke-linecap="round"/>
<polyline points="166.6,1260.8 171.4,1264.6" fill="none" stroke="#d8c090" stroke-width="1.6" stroke-linejoin="round" stroke-linecap="round"/>
<polyline points="222.0,1238.8 224.0,1237.4" fill="none" stroke="#905050" stroke-width="1.6" stroke-linejoin="round" stroke-linecap="round"/>
<polyline points="207.1,1243.9 199.8,1239.1" fill="none" stroke="#d8c090" stroke-width="1.6" stroke-linejoin="round" stroke-linecap="round"/>
<polyline points="228.9,1260.0 238.6,1262.4" fill="none" stroke="#905050" stroke-width="1.6" stroke-linejoin="round" stroke-linecap="round"/>
<polyline points="96.7,1267.0 97.2,1271.0" fill="none" stroke="#905050" stroke-width="1.6" stroke-linejoin="round" stroke-linecap="round"/>
<polyline points="126.2,1235.6 129.4,1236.7" fill="none" stroke="#d8c090" stroke-width="1.6" stroke-linejoin="round" stroke-linecap="round"/>
<line x1="156.0" y1="1301.0" x2="156.0" y2="1334.0" stroke="#5a9fd0" stroke-width="2.5"/>
<polygon points="151.0,1332.0 161.0,1332.0 156.0,1340.0" fill="#5a9fd0" stroke="none" stroke-width="0"/>
<polygon points="60,1459 200,1453 269,1442 229,1419 150,1425 62,1445" fill="#e48cc4" opacity="0.9"/>
<path d="M65.8,1396 L128.7,1393 C140,1390 150,1384 154.4,1378.6 C160,1370 165,1360 168.7,1350 L257.4,1354.3 C254,1365 250,1374 245.9,1381.5 C238,1395 228,1405 217.3,1412.9 C205,1422 196,1430 185.9,1435.8 C170,1442 158,1446 143,1447.2 L65.8,1453 Z" fill="url(#gpeel)" stroke="#80c050" stroke-width="3.5"/>
<polyline points="97.0,1401.1 105.0,1398.6" fill="none" stroke="#b07868" stroke-width="1.4" stroke-linejoin="round" stroke-linecap="round"/>
<polyline points="228.4,1392.2 221.7,1390.3" fill="none" stroke="#b07868" stroke-width="1.4" stroke-linejoin="round" stroke-linecap="round"/>
<polyline points="179.0,1420.8 182.0,1424.2" fill="none" stroke="#f0e0e0" stroke-width="1.4" stroke-linejoin="round" stroke-linecap="round"/>
<polyline points="174.7,1380.9 171.0,1380.2" fill="none" stroke="#b07868" stroke-width="1.4" stroke-linejoin="round" stroke-linecap="round"/>
<polyline points="175.7,1422.6 180.1,1426.3" fill="none" stroke="#f0e0e0" stroke-width="1.4" stroke-linejoin="round" stroke-linecap="round"/>
<polyline points="130.1,1415.4 125.1,1414.5" fill="none" stroke="#f0e0e0" stroke-width="1.4" stroke-linejoin="round" stroke-linecap="round"/>
<polyline points="121.8,1412.4 124.8,1411.9" fill="none" stroke="#c89080" stroke-width="1.4" stroke-linejoin="round" stroke-linecap="round"/>
<polyline points="77.7,1442.6 77.8,1442.7" fill="none" stroke="#c89080" stroke-width="1.4" stroke-linejoin="round" stroke-linecap="round"/>
<polyline points="236.6,1360.6 237.6,1359.7" fill="none" stroke="#b07868" stroke-width="1.4" stroke-linejoin="round" stroke-linecap="round"/>
<polyline points="178.0,1403.4 177.0,1404.8" fill="none" stroke="#f0e0e0" stroke-width="1.4" stroke-linejoin="round" stroke-linecap="round"/>
<polyline points="88.1,1420.4 81.7,1422.7" fill="none" stroke="#b07868" stroke-width="1.4" stroke-linejoin="round" stroke-linecap="round"/>
<polyline points="241.5,1373.4 239.9,1370.2" fill="none" stroke="#b07868" stroke-width="1.4" stroke-linejoin="round" stroke-linecap="round"/>
<polyline points="169.3,1398.4 166.6,1397.2" fill="none" stroke="#b07868" stroke-width="1.4" stroke-linejoin="round" stroke-linecap="round"/>
<polyline points="83.2,1406.2 87.6,1408.1" fill="none" stroke="#f0e0e0" stroke-width="1.4" stroke-linejoin="round" stroke-linecap="round"/>
<polyline points="81.3,1418.9 86.5,1422.3" fill="none" stroke="#c89080" stroke-width="1.4" stroke-linejoin="round" stroke-linecap="round"/>
<polyline points="93.4,1432.6 87.5,1430.8" fill="none" stroke="#f0e0e0" stroke-width="1.4" stroke-linejoin="round" stroke-linecap="round"/>
<polyline points="156.2,1421.7 158.5,1420.5" fill="none" stroke="#b07868" stroke-width="1.4" stroke-linejoin="round" stroke-linecap="round"/>
<polyline points="180.3,1420.7 172.6,1420.7" fill="none" stroke="#f0e0e0" stroke-width="1.4" stroke-linejoin="round" stroke-linecap="round"/>
<polyline points="89.3,1428.9 90.9,1430.5" fill="none" stroke="#b07868" stroke-width="1.4" stroke-linejoin="round" stroke-linecap="round"/>
<polyline points="244.1,1364.8 238.0,1362.6" fill="none" stroke="#c89080" stroke-width="1.4" stroke-linejoin="round" stroke-linecap="round"/>
<polyline points="84.1,1401.1 88.2,1401.7" fill="none" stroke="#f0e0e0" stroke-width="1.4" stroke-linejoin="round" stroke-linecap="round"/>
<polyline points="133.3,1432.3 140.1,1435.0" fill="none" stroke="#b07868" stroke-width="1.4" stroke-linejoin="round" stroke-linecap="round"/>
<polyline points="221.7,1387.5 217.0,1389.5" fill="none" stroke="#f0e0e0" stroke-width="1.4" stroke-linejoin="round" stroke-linecap="round"/>
<polyline points="205.6,1399.0 205.0,1397.0" fill="none" stroke="#b07868" stroke-width="1.4" stroke-linejoin="round" stroke-linecap="round"/>
<polyline points="236.2,1395.0 237.3,1392.5" fill="none" stroke="#f0e0e0" stroke-width="1.4" stroke-linejoin="round" stroke-linecap="round"/>
<polyline points="77.3,1407.3 73.8,1410.1" fill="none" stroke="#f0e0e0" stroke-width="1.4" stroke-linejoin="round" stroke-linecap="round"/>
<polyline points="208.4,1364.9 210.5,1368.8" fill="none" stroke="#f0e0e0" stroke-width="1.4" stroke-linejoin="round" stroke-linecap="round"/>
<polyline points="167.1,1389.7 164.6,1392.6" fill="none" stroke="#f0e0e0" stroke-width="1.4" stroke-linejoin="round" stroke-linecap="round"/>
<polyline points="139.6,1425.1 134.4,1427.5" fill="none" stroke="#f0e0e0" stroke-width="1.4" stroke-linejoin="round" stroke-linecap="round"/>
<polyline points="136.4,1436.1 136.7,1433.6" fill="none" stroke="#c89080" stroke-width="1.4" stroke-linejoin="round" stroke-linecap="round"/>
<polyline points="133.9,1434.8 133.9,1434.8" fill="none" stroke="#b07868" stroke-width="1.4" stroke-linejoin="round" stroke-linecap="round"/>
<polyline points="105.9,1418.7 111.9,1420.8" fill="none" stroke="#c89080" stroke-width="1.4" stroke-linejoin="round" stroke-linecap="round"/>
<polyline points="165.7,1416.5 159.1,1419.8" fill="none" stroke="#c89080" stroke-width="1.4" stroke-linejoin="round" stroke-linecap="round"/>
<polyline points="164.1,1429.2 158.6,1429.7" fill="none" stroke="#f0e0e0" stroke-width="1.4" stroke-linejoin="round" stroke-linecap="round"/>
<polyline points="129.1,1435.2 123.0,1435.3" fill="none" stroke="#b07868" stroke-width="1.4" stroke-linejoin="round" stroke-linecap="round"/>
<polyline points="218.9,1364.5 212.0,1362.0" fill="none" stroke="#f0e0e0" stroke-width="1.4" stroke-linejoin="round" stroke-linecap="round"/>
<polyline points="127.6,1442.0 128.8,1442.2" fill="none" stroke="#f0e0e0" stroke-width="1.4" stroke-linejoin="round" stroke-linecap="round"/>
<polyline points="244.7,1391.7 248.4,1394.9" fill="none" stroke="#f0e0e0" stroke-width="1.4" stroke-linejoin="round" stroke-linecap="round"/>
<polyline points="129.2,1412.9 125.0,1409.4" fill="none" stroke="#c89080" stroke-width="1.4" stroke-linejoin="round" stroke-linecap="round"/>
<polyline points="76.2,1414.5 69.9,1414.1" fill="none" stroke="#c89080" stroke-width="1.4" stroke-linejoin="round" stroke-linecap="round"/>
<polyline points="100.4,1413.1 98.8,1410.2" fill="none" stroke="#c89080" stroke-width="1.4" stroke-linejoin="round" stroke-linecap="round"/>
<polyline points="168.3,1423.1 175.7,1422.1" fill="none" stroke="#b07868" stroke-width="1.4" stroke-linejoin="round" stroke-linecap="round"/>
<polyline points="121.8,1425.0 115.3,1427.6" fill="none" stroke="#c89080" stroke-width="1.4" stroke-linejoin="round" stroke-linecap="round"/>
<polyline points="151.2,1402.3 147.1,1399.5" fill="none" stroke="#f0e0e0" stroke-width="1.4" stroke-linejoin="round" stroke-linecap="round"/>
<polyline points="214.6,1385.1 207.8,1383.8" fill="none" stroke="#c89080" stroke-width="1.4" stroke-linejoin="round" stroke-linecap="round"/>
<polyline points="190.7,1413.9 189.7,1414.2" fill="none" stroke="#c89080" stroke-width="1.4" stroke-linejoin="round" stroke-linecap="round"/>
<polyline points="215.8,1392.2 213.6,1390.5" fill="none" stroke="#b07868" stroke-width="1.4" stroke-linejoin="round" stroke-linecap="round"/>
<polyline points="92.5,1438.8 96.6,1435.4" fill="none" stroke="#f0e0e0" stroke-width="1.4" stroke-linejoin="round" stroke-linecap="round"/>
<polyline points="185.2,1404.1 177.5,1407.5" fill="none" stroke="#f0e0e0" stroke-width="1.4" stroke-linejoin="round" stroke-linecap="round"/>
<polyline points="167.7,1410.0 162.9,1412.3" fill="none" stroke="#f0e0e0" stroke-width="1.4" stroke-linejoin="round" stroke-linecap="round"/>
<polyline points="171.2,1389.5 169.7,1392.9" fill="none" stroke="#f0e0e0" stroke-width="1.4" stroke-linejoin="round" stroke-linecap="round"/>
<polyline points="147.7,1427.8 143.0,1425.8" fill="none" stroke="#f0e0e0" stroke-width="1.4" stroke-linejoin="round" stroke-linecap="round"/>
<polyline points="193.4,1397.8 195.0,1395.8" fill="none" stroke="#f0e0e0" stroke-width="1.4" stroke-linejoin="round" stroke-linecap="round"/>
<polyline points="153.9,1426.4 161.7,1423.3" fill="none" stroke="#f0e0e0" stroke-width="1.4" stroke-linejoin="round" stroke-linecap="round"/>
<polyline points="146.0,1398.7 149.8,1395.1" fill="none" stroke="#f0e0e0" stroke-width="1.4" stroke-linejoin="round" stroke-linecap="round"/>
<polyline points="187.9,1378.9 192.8,1379.0" fill="none" stroke="#b07868" stroke-width="1.4" stroke-linejoin="round" stroke-linecap="round"/>
<polyline points="90.2,1423.2 94.0,1419.3" fill="none" stroke="#b07868" stroke-width="1.4" stroke-linejoin="round" stroke-linecap="round"/>
<polyline points="215.9,1368.6 223.0,1368.6" fill="none" stroke="#b07868" stroke-width="1.4" stroke-linejoin="round" stroke-linecap="round"/>
<polyline points="118.5,1405.6 113.2,1407.3" fill="none" stroke="#f0e0e0" stroke-width="1.4" stroke-linejoin="round" stroke-linecap="round"/>
<polyline points="117.2,1420.4 116.4,1422.0" fill="none" stroke="#f0e0e0" stroke-width="1.4" stroke-linejoin="round" stroke-linecap="round"/>
<polyline points="222.8,1392.5 225.0,1393.4" fill="none" stroke="#c89080" stroke-width="1.4" stroke-linejoin="round" stroke-linecap="round"/>
<polyline points="219.1,1384.8 225.9,1385.8" fill="none" stroke="#c89080" stroke-width="1.4" stroke-linejoin="round" stroke-linecap="round"/>
<polyline points="208.5,1369.0 214.2,1372.8" fill="none" stroke="#c89080" stroke-width="1.4" stroke-linejoin="round" stroke-linecap="round"/>
<polyline points="133.2,1424.3 127.5,1427.6" fill="none" stroke="#c89080" stroke-width="1.4" stroke-linejoin="round" stroke-linecap="round"/>
<polyline points="233.0,1385.4 233.6,1382.6" fill="none" stroke="#b07868" stroke-width="1.4" stroke-linejoin="round" stroke-linecap="round"/>
<polyline points="140.5,1398.7 142.4,1401.5" fill="none" stroke="#c89080" stroke-width="1.4" stroke-linejoin="round" stroke-linecap="round"/>
<polyline points="91.5,1425.9 98.0,1429.3" fill="none" stroke="#f0e0e0" stroke-width="1.4" stroke-linejoin="round" stroke-linecap="round"/>
<polyline points="154.6,1398.2 153.1,1395.7" fill="none" stroke="#b07868" stroke-width="1.4" stroke-linejoin="round" stroke-linecap="round"/>
<polyline points="75.5,1405.2 71.6,1407.3" fill="none" stroke="#c89080" stroke-width="1.4" stroke-linejoin="round" stroke-linecap="round"/>
<polyline points="126.7,1430.5 130.4,1429.5" fill="none" stroke="#b07868" stroke-width="1.4" stroke-linejoin="round" stroke-linecap="round"/>
<path d="M150,1372 C153,1362 162,1358 170,1362 L176,1376" fill="none" stroke="#3a8ac0" stroke-width="2.5"/>
<text x="23.4" y="1374.3" font-size="31" fill="#231f20" text-anchor="start" font-weight="bold">Peel off</text>
<line x1="157.3" y1="1456.0" x2="157.3" y2="1488.0" stroke="#5a9fd0" stroke-width="2.5"/>
<polygon points="152.3,1486.0 162.3,1486.0 157.3,1494.0" fill="#5a9fd0" stroke="none" stroke-width="0"/>
<ellipse cx="160" cy="1645" rx="91" ry="18" fill="#eef0f2" stroke="#c4c8cc" stroke-width="1.5"/>
<rect x="64" y="1561.6" width="192" height="83" fill="#f2f4f6"/>
<line x1="64.0" y1="1561.6" x2="68.0" y2="1645.0" stroke="#c4c8cc" stroke-width="1.5"/>
<line x1="255.6" y1="1561.6" x2="251.0" y2="1645.0" stroke="#c4c8cc" stroke-width="1.5"/>
<ellipse cx="160" cy="1615" rx="78" ry="28" fill="#e6ecf2"/>
<ellipse cx="158.7" cy="1561.6" rx="95.8" ry="25.7" fill="#eadfcc" stroke="#d0c8c0" stroke-width="1"/>
<path d="M105.8,1547 C108,1510 135,1499 158,1499 C185,1499 210,1512 211.6,1547 Z" fill="#c8d8e0" opacity="0.9" stroke="#a0b8c8" stroke-width="1"/>
<polygon points="71.5,1570.2 94.4,1535.9 228.8,1538.7 225.9,1581.6" fill="#6cc048"/>
<polygon points="82,1566 99,1542 220,1545 218,1575" fill="#8a7866"/>
<path d="M112,1545 C120,1525 195,1525 205,1545 Z" fill="#b8ccd4" opacity="0.6"/>
<polygon points="98.0,1603.0 108.0,1603.0 108.0,1612.0 114.0,1612.0 103.0,1625.0 92.0,1612.0 98.0,1612.0" fill="#2a8ad0" stroke="none" stroke-width="0"/>
<polygon points="132.0,1603.0 142.0,1603.0 142.0,1612.0 148.0,1612.0 137.0,1625.0 126.0,1612.0 132.0,1612.0" fill="#2a8ad0" stroke="none" stroke-width="0"/>
<polygon points="163.7,1603.0 173.7,1603.0 173.7,1612.0 179.7,1612.0 168.7,1625.0 157.7,1612.0 163.7,1612.0" fill="#2a8ad0" stroke="none" stroke-width="0"/>
<polygon points="198.0,1603.0 208.0,1603.0 208.0,1612.0 214.0,1612.0 203.0,1625.0 192.0,1612.0 198.0,1612.0" fill="#2a8ad0" stroke="none" stroke-width="0"/>
<text x="161.0" y="1644.6" font-size="17.7" fill="#231f20" text-anchor="middle" font-weight="bold">Vacuum filtration</text>
<line x1="157.3" y1="1668.0" x2="157.3" y2="1704.0" stroke="#5a9fd0" stroke-width="2.5"/>
<polygon points="152.3,1702.0 162.3,1702.0 157.3,1710.0" fill="#5a9fd0" stroke="none" stroke-width="0"/>
<polygon points="73,1717 243.6,1717 260.2,1831 52.8,1831" fill="#7cc84a"/>
<polygon points="52.8,1826 260.2,1826 260.2,1831 52.8,1831" fill="#b09050"/>
<polygon points="86.5,1725.5 228.4,1725.5 240.6,1812.3 73,1812.3" fill="#cfc4dc"/>
<clipPath id="clipmat"><polygon points="86.5,1725.5 228.4,1725.5 240.6,1812.3 73,1812.3"/></clipPath><g clip-path="url(#clipmat)">
<polyline points="224.3,1804.9 212.7,1803.3" fill="none" stroke="#6a5ab8" stroke-width="2" stroke-linejoin="round" stroke-linecap="round"/>
<polyline points="139.2,1757.6 131.8,1757.2" fill="none" stroke="#f0f0f8" stroke-width="2" stroke-linejoin="round" stroke-linecap="round"/>
<polyline points="114.5,1765.4 105.0,1769.3" fill="none" stroke="#6a5ab8" stroke-width="2" stroke-linejoin="round" stroke-linecap="round"/>
<polyline points="157.7,1730.6 163.3,1729.4" fill="none" stroke="#f0f0f8" stroke-width="2" stroke-linejoin="round" stroke-linecap="round"/>
<polyline points="89.0,1791.6 85.8,1789.0" fill="none" stroke="#f4f0f4" stroke-width="2" stroke-linejoin="round" stroke-linecap="round"/>
<polyline points="113.7,1787.8 119.9,1786.8" fill="none" stroke="#f4f0f4" stroke-width="2" stroke-linejoin="round" stroke-linecap="round"/>
<polyline points="169.2,1781.8 171.0,1784.4" fill="none" stroke="#d8c090" stroke-width="2" stroke-linejoin="round" stroke-linecap="round"/>
<polyline points="107.7,1767.6 111.9,1765.0" fill="none" stroke="#9088d0" stroke-width="2" stroke-linejoin="round" stroke-linecap="round"/>
<polyline points="204.6,1771.7 212.2,1769.3" fill="none" stroke="#f0f0f8" stroke-width="2" stroke-linejoin="round" stroke-linecap="round"/>
<polyline points="97.8,1736.9 99.5,1740.4" fill="none" stroke="#6a5ab8" stroke-width="2" stroke-linejoin="round" stroke-linecap="round"/>
<polyline points="123.8,1776.2 120.6,1774.5" fill="none" stroke="#6a5ab8" stroke-width="2" stroke-linejoin="round" stroke-linecap="round"/>
<polyline points="127.5,1791.2 120.8,1788.4" fill="none" stroke="#f4f0f4" stroke-width="2" stroke-linejoin="round" stroke-linecap="round"/>
<polyline points="176.7,1738.6 170.4,1738.9" fill="none" stroke="#9088d0" stroke-width="2" stroke-linejoin="round" stroke-linecap="round"/>
<polyline points="223.3,1776.4 215.3,1780.2" fill="none" stroke="#9088d0" stroke-width="2" stroke-linejoin="round" stroke-linecap="round"/>
<polyline points="88.7,1762.3 80.6,1760.1" fill="none" stroke="#6a5ab8" stroke-width="2" stroke-linejoin="round" stroke-linecap="round"/>
<polyline points="82.0,1746.8 92.8,1747.1" fill="none" stroke="#f0f0f8" stroke-width="2" stroke-linejoin="round" stroke-linecap="round"/>
<polyline points="234.2,1788.9 222.5,1791.2" fill="none" stroke="#d8c090" stroke-width="2" stroke-linejoin="round" stroke-linecap="round"/>
<polyline points="156.5,1732.0 155.7,1729.5" fill="none" stroke="#d8c090" stroke-width="2" stroke-linejoin="round" stroke-linecap="round"/>
<polyline points="225.6,1805.0 215.8,1805.5" fill="none" stroke="#8a7ad0" stroke-width="2" stroke-linejoin="round" stroke-linecap="round"/>
<polyline points="181.3,1784.2 188.8,1782.3" fill="none" stroke="#f4f0f4" stroke-width="2" stroke-linejoin="round" stroke-linecap="round"/>
<polyline points="145.8,1801.1 152.1,1802.3" fill="none" stroke="#9088d0" stroke-width="2" stroke-linejoin="round" stroke-linecap="round"/>
<polyline points="144.7,1742.2 149.2,1741.5" fill="none" stroke="#f4f0f4" stroke-width="2" stroke-linejoin="round" stroke-linecap="round"/>
<polyline points="188.1,1795.4 194.0,1795.8" fill="none" stroke="#f0f0f8" stroke-width="2" stroke-linejoin="round" stroke-linecap="round"/>
<polyline points="146.3,1752.9 149.0,1749.3" fill="none" stroke="#f4f0f4" stroke-width="2" stroke-linejoin="round" stroke-linecap="round"/>
<polyline points="124.4,1731.0 120.4,1731.5" fill="none" stroke="#8a7ad0" stroke-width="2" stroke-linejoin="round" stroke-linecap="round"/>
<polyline points="210.3,1748.9 200.2,1749.4" fill="none" stroke="#f0f0f8" stroke-width="2" stroke-linejoin="round" stroke-linecap="round"/>
<polyline points="164.5,1747.8 175.5,1750.2" fill="none" stroke="#f4f0f4" stroke-width="2" stroke-linejoin="round" stroke-linecap="round"/>
<polyline points="234.2,1750.8 231.2,1753.1" fill="none" stroke="#d8c090" stroke-width="2" stroke-linejoin="round" stroke-linecap="round"/>
<polyline points="102.1,1798.4 109.2,1794.6" fill="none" stroke="#8a7ad0" stroke-width="2" stroke-linejoin="round" stroke-linecap="round"/>
<polyline points="182.1,1788.7 180.2,1786.9" fill="none" stroke="#6a5ab8" stroke-width="2" stroke-linejoin="round" stroke-linecap="round"/>
<polyline points="173.2,1808.4 174.5,1808.6" fill="none" stroke="#f0f0f8" stroke-width="2" stroke-linejoin="round" stroke-linecap="round"/>
<polyline points="126.5,1800.9 119.9,1797.4" fill="none" stroke="#6a5ab8" stroke-width="2" stroke-linejoin="round" stroke-linecap="round"/>
<polyline points="218.8,1759.2 223.0,1760.0" fill="none" stroke="#6a5ab8" stroke-width="2" stroke-linejoin="round" stroke-linecap="round"/>
<polyline points="125.5,1754.6 132.8,1752.8" fill="none" stroke="#d8c090" stroke-width="2" stroke-linejoin="round" stroke-linecap="round"/>
<polyline points="225.1,1741.8 223.2,1744.4" fill="none" stroke="#6a5ab8" stroke-width="2" stroke-linejoin="round" stroke-linecap="round"/>
<polyline points="154.5,1773.3 155.5,1774.8" fill="none" stroke="#d8c090" stroke-width="2" stroke-linejoin="round" stroke-linecap="round"/>
<polyline points="139.9,1800.5 140.0,1797.3" fill="none" stroke="#8a7ad0" stroke-width="2" stroke-linejoin="round" stroke-linecap="round"/>
<polyline points="152.2,1738.7 158.7,1734.7" fill="none" stroke="#f4f0f4" stroke-width="2" stroke-linejoin="round" stroke-linecap="round"/>
<polyline points="85.8,1791.6 79.7,1795.5" fill="none" stroke="#6a5ab8" stroke-width="2" stroke-linejoin="round" stroke-linecap="round"/>
<polyline points="178.9,1732.4 173.5,1731.3" fill="none" stroke="#6a5ab8" stroke-width="2" stroke-linejoin="round" stroke-linecap="round"/>
<polyline points="102.9,1796.0 95.2,1796.1" fill="none" stroke="#6a5ab8" stroke-width="2" stroke-linejoin="round" stroke-linecap="round"/>
<polyline points="175.3,1757.9 178.3,1759.5" fill="none" stroke="#6a5ab8" stroke-width="2" stroke-linejoin="round" stroke-linecap="round"/>
<polyline points="174.4,1732.3 184.3,1729.7" fill="none" stroke="#6a5ab8" stroke-width="2" stroke-linejoin="round" stroke-linecap="round"/>
<polyline points="83.0,1777.9 93.4,1776.2" fill="none" stroke="#8a7ad0" stroke-width="2" stroke-linejoin="round" stroke-linecap="round"/>
<polyline points="219.9,1752.6 227.6,1753.4" fill="none" stroke="#6a5ab8" stroke-width="2" stroke-linejoin="round" stroke-linecap="round"/>
<polyline points="172.3,1755.1 168.7,1752.4" fill="none" stroke="#8a7ad0" stroke-width="2" stroke-linejoin="round" stroke-linecap="round"/>
<polyline points="113.4,1806.4 119.6,1804.1" fill="none" stroke="#d8c090" stroke-width="2" stroke-linejoin="round" stroke-linecap="round"/>
<polyline points="171.6,1804.1 168.3,1805.3" fill="none" stroke="#f0f0f8" stroke-width="2" stroke-linejoin="round" stroke-linecap="round"/>
<polyline points="196.2,1803.0 195.1,1804.3" fill="none" stroke="#d8c090" stroke-width="2" stroke-linejoin="round" stroke-linecap="round"/>
<polyline points="229.1,1780.1 226.2,1782.2" fill="none" stroke="#d8c090" stroke-width="2" stroke-linejoin="round" stroke-linecap="round"/>
<polyline points="209.6,1732.2 206.0,1729.8" fill="none" stroke="#9088d0" stroke-width="2" stroke-linejoin="round" stroke-linecap="round"/>
<polyline points="181.5,1741.9 179.3,1738.4" fill="none" stroke="#d8c090" stroke-width="2" stroke-linejoin="round" stroke-linecap="round"/>
<polyline points="129.2,1763.2 131.4,1762.5" fill="none" stroke="#8a7ad0" stroke-width="2" stroke-linejoin="round" stroke-linecap="round"/>
<polyline points="118.4,1754.2 113.5,1756.8" fill="none" stroke="#f0f0f8" stroke-width="2" stroke-linejoin="round" stroke-linecap="round"/>
<polyline points="142.2,1758.4 153.4,1758.7" fill="none" stroke="#9088d0" stroke-width="2" stroke-linejoin="round" stroke-linecap="round"/>
<polyline points="177.2,1763.2 169.6,1762.7" fill="none" stroke="#f4f0f4" stroke-width="2" stroke-linejoin="round" stroke-linecap="round"/>
<polyline points="109.7,1790.9 108.6,1786.9" fill="none" stroke="#6a5ab8" stroke-width="2" stroke-linejoin="round" stroke-linecap="round"/>
<polyline points="179.4,1749.4 168.2,1748.5" fill="none" stroke="#f0f0f8" stroke-width="2" stroke-linejoin="round" stroke-linecap="round"/>
<polyline points="232.1,1788.2 243.6,1791.2" fill="none" stroke="#f0f0f8" stroke-width="2" stroke-linejoin="round" stroke-linecap="round"/>
<polyline points="192.2,1740.5 198.2,1743.0" fill="none" stroke="#6a5ab8" stroke-width="2" stroke-linejoin="round" stroke-linecap="round"/>
<polyline points="152.4,1789.1 150.6,1790.6" fill="none" stroke="#6a5ab8" stroke-width="2" stroke-linejoin="round" stroke-linecap="round"/>
<polyline points="232.7,1792.9 235.6,1794.9" fill="none" stroke="#6a5ab8" stroke-width="2" stroke-linejoin="round" stroke-linecap="round"/>
<polyline points="174.6,1771.5 183.1,1773.8" fill="none" stroke="#8a7ad0" stroke-width="2" stroke-linejoin="round" stroke-linecap="round"/>
<polyline points="128.7,1785.3 128.5,1785.7" fill="none" stroke="#9088d0" stroke-width="2" stroke-linejoin="round" stroke-linecap="round"/>
<polyline points="203.4,1752.6 191.9,1754.9" fill="none" stroke="#f0f0f8" stroke-width="2" stroke-linejoin="round" stroke-linecap="round"/>
<polyline points="168.9,1801.1 158.4,1803.3" fill="none" stroke="#8a7ad0" stroke-width="2" stroke-linejoin="round" stroke-linecap="round"/>
<polyline points="101.8,1803.1 111.9,1806.9" fill="none" stroke="#f0f0f8" stroke-width="2" stroke-linejoin="round" stroke-linecap="round"/>
<polyline points="97.3,1795.2 105.2,1798.9" fill="none" stroke="#6a5ab8" stroke-width="2" stroke-linejoin="round" stroke-linecap="round"/>
<polyline points="85.3,1767.1 74.1,1765.3" fill="none" stroke="#f0f0f8" stroke-width="2" stroke-linejoin="round" stroke-linecap="round"/>
<polyline points="165.0,1762.7 168.5,1765.7" fill="none" stroke="#f0f0f8" stroke-width="2" stroke-linejoin="round" stroke-linecap="round"/>
<polyline points="110.8,1787.8 115.1,1789.1" fill="none" stroke="#f0f0f8" stroke-width="2" stroke-linejoin="round" stroke-linecap="round"/>
<polyline points="100.5,1795.8 90.0,1797.1" fill="none" stroke="#9088d0" stroke-width="2" stroke-linejoin="round" stroke-linecap="round"/>
<polyline points="102.2,1807.1 104.6,1806.1" fill="none" stroke="#6a5ab8" stroke-width="2" stroke-linejoin="round" stroke-linecap="round"/>
<polyline points="87.1,1789.7 94.3,1790.8" fill="none" stroke="#9088d0" stroke-width="2" stroke-linejoin="round" stroke-linecap="round"/>
<polyline points="101.7,1792.7 105.2,1796.3" fill="none" stroke="#d8c090" stroke-width="2" stroke-linejoin="round" stroke-linecap="round"/>
<polyline points="167.0,1807.1 175.5,1803.7" fill="none" stroke="#6a5ab8" stroke-width="2" stroke-linejoin="round" stroke-linecap="round"/>
<polyline points="130.9,1782.6 119.7,1780.0" fill="none" stroke="#f4f0f4" stroke-width="2" stroke-linejoin="round" stroke-linecap="round"/>
<polyline points="127.9,1796.3 119.3,1793.4" fill="none" stroke="#6a5ab8" stroke-width="2" stroke-linejoin="round" stroke-linecap="round"/>
<polyline points="171.0,1807.0 179.1,1809.1" fill="none" stroke="#f4f0f4" stroke-width="2" stroke-linejoin="round" stroke-linecap="round"/>
<polyline points="110.7,1742.7 111.6,1743.5" fill="none" stroke="#f0f0f8" stroke-width="2" stroke-linejoin="round" stroke-linecap="round"/>
<polyline points="225.4,1793.0 219.8,1793.8" fill="none" stroke="#6a5ab8" stroke-width="2" stroke-linejoin="round" stroke-linecap="round"/>
<polyline points="208.4,1786.5 199.2,1785.9" fill="none" stroke="#8a7ad0" stroke-width="2" stroke-linejoin="round" stroke-linecap="round"/>
<polyline points="90.0,1783.2 101.6,1785.4" fill="none" stroke="#9088d0" stroke-width="2" stroke-linejoin="round" stroke-linecap="round"/>
<polyline points="95.5,1748.8 98.6,1748.2" fill="none" stroke="#d8c090" stroke-width="2" stroke-linejoin="round" stroke-linecap="round"/>
<polyline points="113.9,1773.7 109.9,1774.2" fill="none" stroke="#8a7ad0" stroke-width="2" stroke-linejoin="round" stroke-linecap="round"/>
<polyline points="231.8,1736.7 237.5,1733.9" fill="none" stroke="#8a7ad0" stroke-width="2" stroke-linejoin="round" stroke-linecap="round"/>
<polyline points="167.6,1780.0 166.3,1776.4" fill="none" stroke="#6a5ab8" stroke-width="2" stroke-linejoin="round" stroke-linecap="round"/>
<polyline points="224.7,1750.2 217.7,1751.9" fill="none" stroke="#f0f0f8" stroke-width="2" stroke-linejoin="round" stroke-linecap="round"/>
<polyline points="185.1,1753.1 194.9,1755.4" fill="none" stroke="#9088d0" stroke-width="2" stroke-linejoin="round" stroke-linecap="round"/>
<polyline points="96.3,1771.6 93.3,1773.4" fill="none" stroke="#9088d0" stroke-width="2" stroke-linejoin="round" stroke-linecap="round"/>
<polyline points="107.2,1799.4 95.7,1802.3" fill="none" stroke="#6a5ab8" stroke-width="2" stroke-linejoin="round" stroke-linecap="round"/>
<polyline points="201.4,1784.4 209.8,1785.8" fill="none" stroke="#6a5ab8" stroke-width="2" stroke-linejoin="round" stroke-linecap="round"/>
<polyline points="182.1,1796.9 192.8,1798.0" fill="none" stroke="#d8c090" stroke-width="2" stroke-linejoin="round" stroke-linecap="round"/>
<polyline points="224.3,1740.5 215.4,1738.7" fill="none" stroke="#d8c090" stroke-width="2" stroke-linejoin="round" stroke-linecap="round"/>
<polyline points="164.7,1776.8 166.4,1777.8" fill="none" stroke="#f4f0f4" stroke-width="2" stroke-linejoin="round" stroke-linecap="round"/>
<polyline points="159.9,1783.0 162.3,1782.2" fill="none" stroke="#8a7ad0" stroke-width="2" stroke-linejoin="round" stroke-linecap="round"/>
<polyline points="132.9,1741.3 142.3,1743.6" fill="none" stroke="#6a5ab8" stroke-width="2" stroke-linejoin="round" stroke-linecap="round"/>
<polyline points="165.6,1799.4 162.0,1802.8" fill="none" stroke="#9088d0" stroke-width="2" stroke-linejoin="round" stroke-linecap="round"/>
<polyline points="201.8,1782.2 196.4,1779.1" fill="none" stroke="#6a5ab8" stroke-width="2" stroke-linejoin="round" stroke-linecap="round"/>
<polyline points="175.1,1747.2 173.3,1750.3" fill="none" stroke="#d8c090" stroke-width="2" stroke-linejoin="round" stroke-linecap="round"/>
<polyline points="118.3,1736.5 118.9,1734.6" fill="none" stroke="#f0f0f8" stroke-width="2" stroke-linejoin="round" stroke-linecap="round"/>
<polyline points="227.5,1745.1 232.0,1748.9" fill="none" stroke="#8a7ad0" stroke-width="2" stroke-linejoin="round" stroke-linecap="round"/>
<polyline points="233.4,1740.9 229.1,1743.0" fill="none" stroke="#f0f0f8" stroke-width="2" stroke-linejoin="round" stroke-linecap="round"/>
<polyline points="143.7,1758.6 145.8,1761.4" fill="none" stroke="#8a7ad0" stroke-width="2" stroke-linejoin="round" stroke-linecap="round"/>
<polyline points="88.0,1759.0 90.2,1760.9" fill="none" stroke="#d8c090" stroke-width="2" stroke-linejoin="round" stroke-linecap="round"/>
<polyline points="90.1,1739.2 80.9,1738.7" fill="none" stroke="#8a7ad0" stroke-width="2" stroke-linejoin="round" stroke-linecap="round"/>
<polyline points="215.0,1757.4 224.8,1756.3" fill="none" stroke="#6a5ab8" stroke-width="2" stroke-linejoin="round" stroke-linecap="round"/>
<polyline points="126.0,1798.4 136.0,1802.4" fill="none" stroke="#9088d0" stroke-width="2" stroke-linejoin="round" stroke-linecap="round"/>
<polyline points="112.1,1774.2 121.7,1776.2" fill="none" stroke="#9088d0" stroke-width="2" stroke-linejoin="round" stroke-linecap="round"/>
<polyline points="124.0,1769.4 130.9,1771.2" fill="none" stroke="#f0f0f8" stroke-width="2" stroke-linejoin="round" stroke-linecap="round"/>
<polyline points="211.5,1795.0 209.0,1796.2" fill="none" stroke="#f4f0f4" stroke-width="2" stroke-linejoin="round" stroke-linecap="round"/>
<polyline points="99.7,1730.1 109.6,1732.9" fill="none" stroke="#d8c090" stroke-width="2" stroke-linejoin="round" stroke-linecap="round"/>
<polyline points="148.5,1747.4 152.3,1744.9" fill="none" stroke="#8a7ad0" stroke-width="2" stroke-linejoin="round" stroke-linecap="round"/>
<polyline points="85.9,1799.2 78.5,1797.7" fill="none" stroke="#f4f0f4" stroke-width="2" stroke-linejoin="round" stroke-linecap="round"/>
<polyline points="155.8,1800.1 163.2,1798.1" fill="none" stroke="#6a5ab8" stroke-width="2" stroke-linejoin="round" stroke-linecap="round"/>
<polyline points="161.5,1742.8 173.3,1742.1" fill="none" stroke="#f4f0f4" stroke-width="2" stroke-linejoin="round" stroke-linecap="round"/>
<polyline points="111.3,1785.8 122.7,1788.7" fill="none" stroke="#9088d0" stroke-width="2" stroke-linejoin="round" stroke-linecap="round"/>
<polyline points="98.8,1787.9 91.2,1790.5" fill="none" stroke="#d8c090" stroke-width="2" stroke-linejoin="round" stroke-linecap="round"/>
<polyline points="115.1,1748.2 119.5,1748.3" fill="none" stroke="#f0f0f8" stroke-width="2" stroke-linejoin="round" stroke-linecap="round"/>
<polyline points="144.7,1806.1 137.3,1809.4" fill="none" stroke="#9088d0" stroke-width="2" stroke-linejoin="round" stroke-linecap="round"/>
<polyline points="86.5,1772.2 76.3,1768.4" fill="none" stroke="#8a7ad0" stroke-width="2" stroke-linejoin="round" stroke-linecap="round"/>
<polyline points="108.3,1732.1 96.9,1731.4" fill="none" stroke="#f4f0f4" stroke-width="2" stroke-linejoin="round" stroke-linecap="round"/>
<polyline points="130.9,1767.7 137.2,1770.8" fill="none" stroke="#f0f0f8" stroke-width="2" stroke-linejoin="round" stroke-linecap="round"/>
<polyline points="115.0,1733.9 103.1,1730.3" fill="none" stroke="#8a7ad0" stroke-width="2" stroke-linejoin="round" stroke-linecap="round"/>
<polyline points="96.9,1808.9 105.3,1810.5" fill="none" stroke="#8a7ad0" stroke-width="2" stroke-linejoin="round" stroke-linecap="round"/>
<polyline points="148.7,1750.3 148.9,1752.8" fill="none" stroke="#9088d0" stroke-width="2" stroke-linejoin="round" stroke-linecap="round"/>
<polyline points="87.2,1732.6 79.3,1731.2" fill="none" stroke="#f0f0f8" stroke-width="2" stroke-linejoin="round" stroke-linecap="round"/>
<polyline points="208.4,1767.0 210.1,1765.0" fill="none" stroke="#6a5ab8" stroke-width="2" stroke-linejoin="round" stroke-linecap="round"/>
<polyline points="174.9,1782.0 181.0,1785.7" fill="none" stroke="#d8c090" stroke-width="2" stroke-linejoin="round" stroke-linecap="round"/>
<polyline points="165.6,1782.3 173.8,1784.9" fill="none" stroke="#f4f0f4" stroke-width="2" stroke-linejoin="round" stroke-linecap="round"/>
<polyline points="156.0,1736.0 164.3,1737.6" fill="none" stroke="#d8c090" stroke-width="2" stroke-linejoin="round" stroke-linecap="round"/>
<polyline points="129.1,1807.0 135.0,1805.3" fill="none" stroke="#f4f0f4" stroke-width="2" stroke-linejoin="round" stroke-linecap="round"/>
<polyline points="197.7,1762.7 207.4,1759.1" fill="none" stroke="#f0f0f8" stroke-width="2" stroke-linejoin="round" stroke-linecap="round"/>
<polyline points="215.7,1760.7 212.7,1760.0" fill="none" stroke="#f4f0f4" stroke-width="2" stroke-linejoin="round" stroke-linecap="round"/>
<polyline points="225.5,1775.4 217.3,1773.0" fill="none" stroke="#f4f0f4" stroke-width="2" stroke-linejoin="round" stroke-linecap="round"/>
<polyline points="188.3,1772.3 189.9,1768.8" fill="none" stroke="#9088d0" stroke-width="2" stroke-linejoin="round" stroke-linecap="round"/>
<polyline points="121.6,1760.1 122.2,1763.0" fill="none" stroke="#6a5ab8" stroke-width="2" stroke-linejoin="round" stroke-linecap="round"/>
<polyline points="115.3,1756.3 116.1,1755.4" fill="none" stroke="#8a7ad0" stroke-width="2" stroke-linejoin="round" stroke-linecap="round"/>
<polyline points="190.1,1807.3 184.3,1804.6" fill="none" stroke="#f4f0f4" stroke-width="2" stroke-linejoin="round" stroke-linecap="round"/>
<polyline points="133.1,1797.8 124.9,1801.0" fill="none" stroke="#f4f0f4" stroke-width="2" stroke-linejoin="round" stroke-linecap="round"/>
<polyline points="195.3,1805.6 187.1,1807.4" fill="none" stroke="#9088d0" stroke-width="2" stroke-linejoin="round" stroke-linecap="round"/>
<polyline points="83.8,1744.3 82.1,1744.9" fill="none" stroke="#f4f0f4" stroke-width="2" stroke-linejoin="round" stroke-linecap="round"/>
<polyline points="222.1,1740.8 224.1,1741.2" fill="none" stroke="#6a5ab8" stroke-width="2" stroke-linejoin="round" stroke-linecap="round"/>
<polyline points="192.2,1744.1 199.7,1743.7" fill="none" stroke="#f4f0f4" stroke-width="2" stroke-linejoin="round" stroke-linecap="round"/>
<polyline points="164.5,1735.0 160.9,1737.3" fill="none" stroke="#9088d0" stroke-width="2" stroke-linejoin="round" stroke-linecap="round"/>
<polyline points="167.0,1762.5 173.2,1765.3" fill="none" stroke="#6a5ab8" stroke-width="2" stroke-linejoin="round" stroke-linecap="round"/>
<polyline points="230.0,1783.4 239.0,1781.0" fill="none" stroke="#d8c090" stroke-width="2" stroke-linejoin="round" stroke-linecap="round"/>
<polyline points="135.2,1782.7 144.4,1783.6" fill="none" stroke="#d8c090" stroke-width="2" stroke-linejoin="round" stroke-linecap="round"/>
<polyline points="111.3,1742.2 122.4,1738.6" fill="none" stroke="#6a5ab8" stroke-width="2" stroke-linejoin="round" stroke-linecap="round"/>
<polyline points="230.4,1735.3 231.7,1732.9" fill="none" stroke="#6a5ab8" stroke-width="2" stroke-linejoin="round" stroke-linecap="round"/>
<polyline points="162.2,1756.5 164.7,1753.4" fill="none" stroke="#d8c090" stroke-width="2" stroke-linejoin="round" stroke-linecap="round"/>
<polyline points="137.0,1739.3 147.6,1736.5" fill="none" stroke="#8a7ad0" stroke-width="2" stroke-linejoin="round" stroke-linecap="round"/>
<polyline points="127.8,1750.8 132.9,1754.1" fill="none" stroke="#d8c090" stroke-width="2" stroke-linejoin="round" stroke-linecap="round"/>
<polyline points="116.9,1776.3 115.3,1776.9" fill="none" stroke="#f0f0f8" stroke-width="2" stroke-linejoin="round" stroke-linecap="round"/>
<polyline points="158.4,1777.2 162.6,1779.0" fill="none" stroke="#8a7ad0" stroke-width="2" stroke-linejoin="round" stroke-linecap="round"/>
<polyline points="177.3,1760.5 172.7,1763.5" fill="none" stroke="#9088d0" stroke-width="2" stroke-linejoin="round" stroke-linecap="round"/>
<polyline points="141.2,1766.9 145.8,1763.7" fill="none" stroke="#f4f0f4" stroke-width="2" stroke-linejoin="round" stroke-linecap="round"/>
<polyline points="194.7,1736.1 203.4,1733.5" fill="none" stroke="#d8c090" stroke-width="2" stroke-linejoin="round" stroke-linecap="round"/>
<polyline points="215.9,1739.2 221.4,1738.3" fill="none" stroke="#9088d0" stroke-width="2" stroke-linejoin="round" stroke-linecap="round"/>
<polyline points="221.7,1774.5 218.0,1773.6" fill="none" stroke="#f0f0f8" stroke-width="2" stroke-linejoin="round" stroke-linecap="round"/>
</g>
<ellipse cx="115" cy="1741" rx="3" ry="5" fill="#e02030"/>
<ellipse cx="176" cy="1771" rx="3" ry="5" fill="#e02030"/>
<ellipse cx="127" cy="1778" rx="3" ry="5" fill="#e02030"/>
<ellipse cx="156" cy="1793" rx="3" ry="5" fill="#e02030"/>
<ellipse cx="201" cy="1778" rx="3" ry="5" fill="#e02030"/>
<ellipse cx="226" cy="1793" rx="3" ry="5" fill="#e02030"/>
<text x="165.7" y="1764.6" font-size="22" fill="#231f20" text-anchor="middle" font-weight="bold">Ag NWs</text>
<text x="18.0" y="1042.7" font-size="31" fill="#231f20" text-anchor="start" font-weight="bold">Polymer</text>
<text x="18.0" y="1079.9" font-size="31" fill="#231f20" text-anchor="start" font-weight="bold">solution</text>
<text x="193.9" y="1152.7" font-size="26.5" fill="#231f20" text-anchor="start" font-weight="bold">Polymer</text>
<text x="185.0" y="1184.3" font-size="26.5" fill="#231f20" text-anchor="start" font-weight="bold">nanofiber</text>
<text x="87.7" y="1295.4" font-size="31" fill="#231f20" text-anchor="start" font-weight="bold">Collector</text>
<clipPath id="cliph"><rect x="302" y="1024" width="604" height="272"/></clipPath>
<g clip-path="url(#cliph)">
<g filter="url(#blur1)">
<line x1="563.0" y1="1036.7" x2="729.8" y2="1062.5" stroke="#d6a870" stroke-width="22.7" stroke-linecap="round"/>
<line x1="638.8" y1="1062.5" x2="886.0" y2="1038.2" stroke="#d6a870" stroke-width="22.7" stroke-linecap="round"/>
<line x1="347.6" y1="1080.7" x2="484.1" y2="1104.9" stroke="#d6a870" stroke-width="28.8" stroke-linecap="round"/>
<line x1="484.1" y1="1104.9" x2="696.4" y2="1070.0" stroke="#d6a870" stroke-width="28.8" stroke-linecap="round"/>
<line x1="696.4" y1="1070.0" x2="914.8" y2="1120.1" stroke="#d6a870" stroke-width="28.8" stroke-linecap="round"/>
<line x1="320.3" y1="1135.3" x2="484.1" y2="1104.9" stroke="#d6a870" stroke-width="27.3" stroke-linecap="round"/>
<line x1="299.1" y1="1135.3" x2="453.8" y2="1195.9" stroke="#d6a870" stroke-width="42.5" stroke-linecap="round"/>
<line x1="484.1" y1="1108.0" x2="623.6" y2="1150.4" stroke="#d6a870" stroke-width="28.8" stroke-linecap="round"/>
<line x1="623.6" y1="1150.4" x2="678.2" y2="1145.9" stroke="#d6a870" stroke-width="27.3" stroke-linecap="round"/>
<line x1="678.2" y1="1147.4" x2="820.8" y2="1186.8" stroke="#d6a870" stroke-width="31.8" stroke-linecap="round"/>
<line x1="556.9" y1="1168.6" x2="681.3" y2="1145.9" stroke="#d6a870" stroke-width="27.3" stroke-linecap="round"/>
<line x1="820.8" y1="1186.8" x2="914.8" y2="1171.7" stroke="#d6a870" stroke-width="30.3" stroke-linecap="round"/>
<line x1="745.0" y1="1123.1" x2="914.8" y2="1089.8" stroke="#d6a870" stroke-width="28.8" stroke-linecap="round"/>
<line x1="296.1" y1="1250.5" x2="484.1" y2="1214.1" stroke="#d6a870" stroke-width="39.4" stroke-linecap="round"/>
<line x1="435.6" y1="1217.1" x2="608.5" y2="1262.6" stroke="#d6a870" stroke-width="36.4" stroke-linecap="round"/>
<line x1="608.5" y1="1262.6" x2="745.0" y2="1293.0" stroke="#d6a870" stroke-width="33.4" stroke-linecap="round"/>
<line x1="447.7" y1="1296.0" x2="714.6" y2="1238.4" stroke="#d6a870" stroke-width="34.9" stroke-linecap="round"/>
<line x1="714.6" y1="1238.4" x2="914.8" y2="1195.9" stroke="#d6a870" stroke-width="33.4" stroke-linecap="round"/>
<line x1="714.6" y1="1229.3" x2="914.8" y2="1232.3" stroke="#d6a870" stroke-width="24.3" stroke-linecap="round"/>
<line x1="805.6" y1="1189.9" x2="914.8" y2="1220.2" stroke="#d6a870" stroke-width="27.3" stroke-linecap="round"/>
<line x1="296.1" y1="1283.9" x2="447.7" y2="1259.6" stroke="#d6a870" stroke-width="36.4" stroke-linecap="round"/>
<line x1="563.4" y1="1034.0" x2="730.2" y2="1059.8" stroke="#eccb9c" stroke-width="12.5" stroke-linecap="round"/>
<line x1="638.5" y1="1059.7" x2="885.7" y2="1035.5" stroke="#eccb9c" stroke-width="12.5" stroke-linecap="round"/>
<line x1="348.2" y1="1077.3" x2="484.7" y2="1101.5" stroke="#eccb9c" stroke-width="15.8" stroke-linecap="round"/>
<line x1="483.6" y1="1101.5" x2="695.9" y2="1066.6" stroke="#eccb9c" stroke-width="15.8" stroke-linecap="round"/>
<line x1="697.2" y1="1066.7" x2="915.6" y2="1116.7" stroke="#eccb9c" stroke-width="15.8" stroke-linecap="round"/>
<line x1="319.7" y1="1132.0" x2="483.5" y2="1101.7" stroke="#eccb9c" stroke-width="15.0" stroke-linecap="round"/>
<line x1="301.0" y1="1130.5" x2="455.6" y2="1191.2" stroke="#eccb9c" stroke-width="23.4" stroke-linecap="round"/>
<line x1="485.1" y1="1104.7" x2="624.6" y2="1147.1" stroke="#eccb9c" stroke-width="15.8" stroke-linecap="round"/>
<line x1="623.4" y1="1147.2" x2="678.0" y2="1142.6" stroke="#eccb9c" stroke-width="15.0" stroke-linecap="round"/>
<line x1="679.3" y1="1143.7" x2="821.8" y2="1183.1" stroke="#eccb9c" stroke-width="17.5" stroke-linecap="round"/>
<line x1="556.3" y1="1165.4" x2="680.7" y2="1142.6" stroke="#eccb9c" stroke-width="15.0" stroke-linecap="round"/>
<line x1="820.2" y1="1183.2" x2="914.2" y2="1168.1" stroke="#eccb9c" stroke-width="16.7" stroke-linecap="round"/>
<line x1="744.3" y1="1119.7" x2="914.1" y2="1086.4" stroke="#eccb9c" stroke-width="15.8" stroke-linecap="round"/>
<line x1="295.2" y1="1245.9" x2="483.2" y2="1209.5" stroke="#eccb9c" stroke-width="21.7" stroke-linecap="round"/>
<line x1="436.7" y1="1212.9" x2="609.6" y2="1258.4" stroke="#eccb9c" stroke-width="20.0" stroke-linecap="round"/>
<line x1="609.3" y1="1258.7" x2="745.8" y2="1289.1" stroke="#eccb9c" stroke-width="18.4" stroke-linecap="round"/>
<line x1="446.8" y1="1291.9" x2="713.7" y2="1234.3" stroke="#eccb9c" stroke-width="19.2" stroke-linecap="round"/>
<line x1="713.8" y1="1234.5" x2="914.0" y2="1192.0" stroke="#eccb9c" stroke-width="18.4" stroke-linecap="round"/>
<line x1="714.7" y1="1226.4" x2="914.9" y2="1229.4" stroke="#eccb9c" stroke-width="13.3" stroke-linecap="round"/>
<line x1="806.5" y1="1186.7" x2="915.7" y2="1217.0" stroke="#eccb9c" stroke-width="15.0" stroke-linecap="round"/>
<line x1="295.4" y1="1279.6" x2="447.0" y2="1255.3" stroke="#eccb9c" stroke-width="20.0" stroke-linecap="round"/>
</g>
<polyline points="344.6,1089.8 349.1,1088.3 353.8,1086.3 359.0,1083.9 365.0,1081.2 372.1,1078.4 380.6,1075.5 390.9,1072.6 403.3,1070.0 418.1,1067.5 435.6,1065.5 456.9,1063.7 482.3,1061.9 510.9,1060.1 541.7,1058.5 574.0,1057.0 606.7,1055.7 638.9,1054.6 669.7,1053.8 698.3,1053.4 723.7,1053.4 747.0,1053.8 769.8,1054.9 791.9,1056.4 812.9,1058.2 832.7,1060.2 851.1,1062.2 867.8,1064.2 882.7,1066.0 895.4,1067.5 905.7,1068.5" fill="none" stroke="#2a5f94" stroke-width="7" stroke-linejoin="round" stroke-linecap="round"/>
<polyline points="344.6,1089.8 349.1,1088.3 353.8,1086.3 359.0,1083.9 365.0,1081.2 372.1,1078.4 380.6,1075.5 390.9,1072.6 403.3,1070.0 418.1,1067.5 435.6,1065.5 456.9,1063.7 482.3,1061.9 510.9,1060.1 541.7,1058.5 574.0,1057.0 606.7,1055.7 638.9,1054.6 669.7,1053.8 698.3,1053.4 723.7,1053.4 747.0,1053.8 769.8,1054.9 791.9,1056.4 812.9,1058.2 832.7,1060.2 851.1,1062.2 867.8,1064.2 882.7,1066.0 895.4,1067.5 905.7,1068.5" fill="none" stroke="#4f8fc8" stroke-width="3" stroke-linejoin="round" stroke-linecap="round"/>
<polyline points="437.1,1064.0 435.1,1070.4 431.3,1079.3 426.5,1090.1 421.2,1102.1 416.3,1114.6 412.1,1127.0 409.5,1138.7 409.1,1148.9 411.5,1157.1 417.4,1162.6 427.4,1165.3 441.3,1166.0 458.2,1165.1 477.3,1162.8 497.9,1159.6 519.0,1155.8 539.9,1151.7 559.8,1147.7 577.9,1144.1 593.3,1141.3 605.9,1139.0 616.4,1136.6 625.4,1134.2 633.4,1131.7 641.1,1129.2 648.9,1126.7 657.5,1124.2 667.4,1121.8 679.2,1119.4 693.4,1117.1 711.0,1114.7 732.1,1112.3 755.5,1109.8 780.4,1107.3 805.8,1104.9 830.7,1102.6 854.1,1100.5 875.0,1098.7 892.6,1097.1 905.7,1095.8" fill="none" stroke="#2a5f94" stroke-width="7" stroke-linejoin="round" stroke-linecap="round"/>
<polyline points="437.1,1064.0 435.1,1070.4 431.3,1079.3 426.5,1090.1 421.2,1102.1 416.3,1114.6 412.1,1127.0 409.5,1138.7 409.1,1148.9 411.5,1157.1 417.4,1162.6 427.4,1165.3 441.3,1166.0 458.2,1165.1 477.3,1162.8 497.9,1159.6 519.0,1155.8 539.9,1151.7 559.8,1147.7 577.9,1144.1 593.3,1141.3 605.9,1139.0 616.4,1136.6 625.4,1134.2 633.4,1131.7 641.1,1129.2 648.9,1126.7 657.5,1124.2 667.4,1121.8 679.2,1119.4 693.4,1117.1 711.0,1114.7 732.1,1112.3 755.5,1109.8 780.4,1107.3 805.8,1104.9 830.7,1102.6 854.1,1100.5 875.0,1098.7 892.6,1097.1 905.7,1095.8" fill="none" stroke="#4f8fc8" stroke-width="3" stroke-linejoin="round" stroke-linecap="round"/>
<polyline points="462.9,1074.6 468.9,1074.9 476.6,1075.2 485.8,1075.6 496.2,1076.0 507.2,1076.5 518.8,1077.1 530.5,1077.8 541.9,1078.6 552.9,1079.5 563.0,1080.7 572.4,1081.9 581.8,1083.3 590.9,1084.8 600.0,1086.5 609.0,1088.2 618.0,1090.1 627.0,1092.1 635.9,1094.2 644.9,1096.5 654.0,1098.9 663.2,1101.4 672.5,1104.0 681.9,1106.8 691.4,1109.7 700.8,1112.7 710.1,1115.8 719.2,1119.0 728.1,1122.3 736.7,1125.7 745.0,1129.2 753.1,1132.9 761.4,1137.1 769.6,1141.6 777.7,1146.2 785.5,1150.8 792.9,1155.3 799.6,1159.4 805.6,1163.1 810.7,1166.2 814.7,1168.6" fill="none" stroke="#2a5f94" stroke-width="7" stroke-linejoin="round" stroke-linecap="round"/>
<polyline points="462.9,1074.6 468.9,1074.9 476.6,1075.2 485.8,1075.6 496.2,1076.0 507.2,1076.5 518.8,1077.1 530.5,1077.8 541.9,1078.6 552.9,1079.5 563.0,1080.7 572.4,1081.9 581.8,1083.3 590.9,1084.8 600.0,1086.5 609.0,1088.2 618.0,1090.1 627.0,1092.1 635.9,1094.2 644.9,1096.5 654.0,1098.9 663.2,1101.4 672.5,1104.0 681.9,1106.8 691.4,1109.7 700.8,1112.7 710.1,1115.8 719.2,1119.0 728.1,1122.3 736.7,1125.7 745.0,1129.2 753.1,1132.9 761.4,1137.1 769.6,1141.6 777.7,1146.2 785.5,1150.8 792.9,1155.3 799.6,1159.4 805.6,1163.1 810.7,1166.2 814.7,1168.6" fill="none" stroke="#4f8fc8" stroke-width="3" stroke-linejoin="round" stroke-linecap="round"/>
<polyline points="749.5,1071.6 750.3,1073.9 751.2,1077.0 752.3,1080.6 753.5,1084.6 754.8,1089.0 756.3,1093.5 757.9,1098.1 759.5,1102.7 761.3,1107.0 763.2,1111.0 765.3,1114.9 767.7,1119.0 770.4,1123.3 773.3,1127.5 776.1,1131.7 779.0,1135.6 781.6,1139.2 784.0,1142.5 785.9,1145.2 787.4,1147.4" fill="none" stroke="#2a5f94" stroke-width="7" stroke-linejoin="round" stroke-linecap="round"/>
<polyline points="749.5,1071.6 750.3,1073.9 751.2,1077.0 752.3,1080.6 753.5,1084.6 754.8,1089.0 756.3,1093.5 757.9,1098.1 759.5,1102.7 761.3,1107.0 763.2,1111.0 765.3,1114.9 767.7,1119.0 770.4,1123.3 773.3,1127.5 776.1,1131.7 779.0,1135.6 781.6,1139.2 784.0,1142.5 785.9,1145.2 787.4,1147.4" fill="none" stroke="#4f8fc8" stroke-width="3" stroke-linejoin="round" stroke-linecap="round"/>
<polyline points="805.6,1065.5 809.3,1066.3 814.2,1067.3 820.0,1068.5 826.5,1069.7 833.5,1071.2 840.6,1072.8 847.7,1074.5 854.5,1076.4 860.8,1078.5 866.3,1080.7 871.3,1083.2 876.2,1086.2 880.9,1089.6 885.5,1093.2 889.8,1096.8 893.8,1100.3 897.4,1103.6 900.7,1106.6 903.5,1109.1 905.7,1111.0" fill="none" stroke="#2a5f94" stroke-width="7" stroke-linejoin="round" stroke-linecap="round"/>
<polyline points="805.6,1065.5 809.3,1066.3 814.2,1067.3 820.0,1068.5 826.5,1069.7 833.5,1071.2 840.6,1072.8 847.7,1074.5 854.5,1076.4 860.8,1078.5 866.3,1080.7 871.3,1083.2 876.2,1086.2 880.9,1089.6 885.5,1093.2 889.8,1096.8 893.8,1100.3 897.4,1103.6 900.7,1106.6 903.5,1109.1 905.7,1111.0" fill="none" stroke="#4f8fc8" stroke-width="3" stroke-linejoin="round" stroke-linecap="round"/>
<polyline points="305.2,1199.0 374.9,1177.7" fill="none" stroke="#2a5f94" stroke-width="7" stroke-linejoin="round" stroke-linecap="round"/>
<polyline points="305.2,1199.0 374.9,1177.7" fill="none" stroke="#4f8fc8" stroke-width="3" stroke-linejoin="round" stroke-linecap="round"/>
<polyline points="305.2,1205.0 314.9,1204.8 327.1,1204.3 341.5,1203.8 357.7,1203.1 375.3,1202.6 394.0,1202.0 413.3,1201.7 433.0,1201.5 452.7,1201.6 472.0,1202.0 491.3,1202.7 511.4,1203.6 532.0,1204.6 553.2,1205.9 574.7,1207.3 596.5,1208.9 618.5,1210.7 640.5,1212.7 662.5,1214.8 684.3,1217.1 707.1,1219.9 731.5,1223.2 757.0,1226.9 782.8,1230.8 808.3,1234.8 832.7,1238.7 855.3,1242.4 875.5,1245.7 892.5,1248.4 905.7,1250.5" fill="none" stroke="#2a5f94" stroke-width="7" stroke-linejoin="round" stroke-linecap="round"/>
<polyline points="305.2,1205.0 314.9,1204.8 327.1,1204.3 341.5,1203.8 357.7,1203.1 375.3,1202.6 394.0,1202.0 413.3,1201.7 433.0,1201.5 452.7,1201.6 472.0,1202.0 491.3,1202.7 511.4,1203.6 532.0,1204.6 553.2,1205.9 574.7,1207.3 596.5,1208.9 618.5,1210.7 640.5,1212.7 662.5,1214.8 684.3,1217.1 707.1,1219.9 731.5,1223.2 757.0,1226.9 782.8,1230.8 808.3,1234.8 832.7,1238.7 855.3,1242.4 875.5,1245.7 892.5,1248.4 905.7,1250.5" fill="none" stroke="#4f8fc8" stroke-width="3" stroke-linejoin="round" stroke-linecap="round"/>
<polyline points="305.2,1232.3 311.5,1230.9 319.2,1229.0 328.1,1226.8 338.2,1224.4 349.3,1221.7 361.4,1218.9 374.4,1216.1 388.1,1213.3 402.5,1210.6 417.4,1208.0 432.8,1205.6 448.9,1203.1 465.6,1200.6 483.0,1198.1 501.4,1195.5 520.6,1193.1 540.9,1190.6 562.2,1188.2 584.7,1186.0 608.5,1183.8 635.2,1181.6 665.9,1179.5 699.2,1177.3 734.0,1175.2 769.0,1173.2 803.1,1171.3 835.0,1169.5 863.6,1168.0 887.5,1166.6 905.7,1165.6" fill="none" stroke="#2a5f94" stroke-width="7" stroke-linejoin="round" stroke-linecap="round"/>
<polyline points="305.2,1232.3 311.5,1230.9 319.2,1229.0 328.1,1226.8 338.2,1224.4 349.3,1221.7 361.4,1218.9 374.4,1216.1 388.1,1213.3 402.5,1210.6 417.4,1208.0 432.8,1205.6 448.9,1203.1 465.6,1200.6 483.0,1198.1 501.4,1195.5 520.6,1193.1 540.9,1190.6 562.2,1188.2 584.7,1186.0 608.5,1183.8 635.2,1181.6 665.9,1179.5 699.2,1177.3 734.0,1175.2 769.0,1173.2 803.1,1171.3 835.0,1169.5 863.6,1168.0 887.5,1166.6 905.7,1165.6" fill="none" stroke="#4f8fc8" stroke-width="3" stroke-linejoin="round" stroke-linecap="round"/>
<polyline points="335.5,1293.0 340.6,1287.9 347.1,1281.3 354.8,1273.5 363.5,1264.8 372.8,1255.4 382.6,1245.7 392.5,1235.8 402.3,1226.0 411.7,1216.7 420.4,1208.0 428.6,1199.7 436.4,1191.2 444.0,1182.5 451.5,1173.9 459.1,1165.4 466.9,1157.2 474.9,1149.3 483.5,1142.0 492.5,1135.2 502.3,1129.2 513.0,1123.9 524.5,1119.2 536.8,1115.0 549.5,1111.3 562.4,1108.0 575.4,1105.0 588.2,1102.4 600.7,1100.0 612.6,1097.9 623.6,1095.8 634.4,1094.1 645.2,1092.8 656.0,1091.8 666.6,1091.1 676.7,1090.7 686.2,1090.4 695.0,1090.3 702.7,1090.1 709.4,1090.0 714.6,1089.8" fill="none" stroke="#2a5f94" stroke-width="7" stroke-linejoin="round" stroke-linecap="round"/>
<polyline points="335.5,1293.0 340.6,1287.9 347.1,1281.3 354.8,1273.5 363.5,1264.8 372.8,1255.4 382.6,1245.7 392.5,1235.8 402.3,1226.0 411.7,1216.7 420.4,1208.0 428.6,1199.7 436.4,1191.2 444.0,1182.5 451.5,1173.9 459.1,1165.4 466.9,1157.2 474.9,1149.3 483.5,1142.0 492.5,1135.2 502.3,1129.2 513.0,1123.9 524.5,1119.2 536.8,1115.0 549.5,1111.3 562.4,1108.0 575.4,1105.0 588.2,1102.4 600.7,1100.0 612.6,1097.9 623.6,1095.8 634.4,1094.1 645.2,1092.8 656.0,1091.8 666.6,1091.1 676.7,1090.7 686.2,1090.4 695.0,1090.3 702.7,1090.1 709.4,1090.0 714.6,1089.8" fill="none" stroke="#4f8fc8" stroke-width="3" stroke-linejoin="round" stroke-linecap="round"/>
<polyline points="623.6,1186.8 627.2,1187.6 631.8,1188.4 637.2,1189.4 643.2,1190.5 649.8,1191.7 656.7,1193.2 663.7,1194.9 670.8,1197.0 677.7,1199.3 684.3,1202.0 691.0,1205.3 698.3,1209.4 706.0,1214.1 713.8,1219.0 721.5,1224.2 728.8,1229.2 735.7,1234.0 741.9,1238.2 747.0,1241.8 751.0,1244.4" fill="none" stroke="#2a5f94" stroke-width="7" stroke-linejoin="round" stroke-linecap="round"/>
<polyline points="623.6,1186.8 627.2,1187.6 631.8,1188.4 637.2,1189.4 643.2,1190.5 649.8,1191.7 656.7,1193.2 663.7,1194.9 670.8,1197.0 677.7,1199.3 684.3,1202.0 691.0,1205.3 698.3,1209.4 706.0,1214.1 713.8,1219.0 721.5,1224.2 728.8,1229.2 735.7,1234.0 741.9,1238.2 747.0,1241.8 751.0,1244.4" fill="none" stroke="#4f8fc8" stroke-width="3" stroke-linejoin="round" stroke-linecap="round"/>
<polyline points="569.0,1293.0 574.0,1290.7 580.4,1287.6 587.9,1284.0 596.3,1279.9 605.4,1275.5 615.0,1271.1 624.9,1266.9 634.8,1262.9 644.6,1259.4 654.0,1256.6 662.9,1254.5 671.7,1252.9 680.4,1251.7 689.2,1250.9 698.1,1250.1 707.5,1249.4 717.3,1248.7 727.7,1247.6 738.9,1246.3 751.0,1244.4 764.9,1242.0 780.7,1239.1 798.1,1235.7 816.2,1232.2 834.4,1228.5 852.2,1224.9 868.9,1221.6 883.8,1218.5 896.2,1216.0 905.7,1214.1" fill="none" stroke="#2a5f94" stroke-width="7" stroke-linejoin="round" stroke-linecap="round"/>
<polyline points="569.0,1293.0 574.0,1290.7 580.4,1287.6 587.9,1284.0 596.3,1279.9 605.4,1275.5 615.0,1271.1 624.9,1266.9 634.8,1262.9 644.6,1259.4 654.0,1256.6 662.9,1254.5 671.7,1252.9 680.4,1251.7 689.2,1250.9 698.1,1250.1 707.5,1249.4 717.3,1248.7 727.7,1247.6 738.9,1246.3 751.0,1244.4 764.9,1242.0 780.7,1239.1 798.1,1235.7 816.2,1232.2 834.4,1228.5 852.2,1224.9 868.9,1221.6 883.8,1218.5 896.2,1216.0 905.7,1214.1" fill="none" stroke="#4f8fc8" stroke-width="3" stroke-linejoin="round" stroke-linecap="round"/>
</g>
<rect x="357.5" y="1000.7" width="48.5" height="10.0" fill="#3c6ea8" stroke="none" stroke-width="0"/>
<text x="419.5" y="1015.2" font-size="31.3" fill="#231f20" text-anchor="start" font-weight="bold">Ag NWs</text>
<rect x="572.2" y="1000.7" width="46.8" height="10.0" fill="#e8c498" stroke="none" stroke-width="0"/>
<text x="635.2" y="1015.2" font-size="31.3" fill="#231f20" text-anchor="start" font-weight="bold">Nanofibers</text>
<clipPath id="clipi"><rect x="301.8" y="1317.6" width="292.7" height="224.4"/></clipPath>
<g clip-path="url(#clipi)">
<rect x="301.8" y="1317.6" width="292.7" height="224.4" fill="#747476" stroke="none" stroke-width="0"/>
<g filter="url(#blur3)">
<ellipse cx="305.4" cy="1342.8" rx="14.7" ry="11.2" fill="#4a4a4a" transform="rotate(-29 305.4 1342.8)" opacity="0.8"/>
<ellipse cx="334.7" cy="1369.6" rx="20.9" ry="6.3" fill="#4a4a4a" transform="rotate(19 334.7 1369.6)" opacity="0.8"/>
<ellipse cx="495.6" cy="1348.2" rx="17.1" ry="9.0" fill="#4a4a4a" transform="rotate(-7 495.6 1348.2)" opacity="0.8"/>
<ellipse cx="593.4" cy="1338.5" rx="8.3" ry="13.5" fill="#4a4a4a" transform="rotate(-8 593.4 1338.5)" opacity="0.8"/>
<ellipse cx="359.9" cy="1391.7" rx="14.2" ry="13.6" fill="#4a4a4a" transform="rotate(-23 359.9 1391.7)" opacity="0.8"/>
<ellipse cx="365.3" cy="1448.9" rx="17.3" ry="13.6" fill="#4a4a4a" transform="rotate(27 365.3 1448.9)" opacity="0.8"/>
<ellipse cx="405.9" cy="1363.3" rx="22.2" ry="13.9" fill="#4a4a4a" transform="rotate(-38 405.9 1363.3)" opacity="0.8"/>
<ellipse cx="516.9" cy="1512.5" rx="19.1" ry="7.0" fill="#4a4a4a" transform="rotate(24 516.9 1512.5)" opacity="0.8"/>
<ellipse cx="515.4" cy="1361.1" rx="18.9" ry="7.0" fill="#4a4a4a" transform="rotate(-37 515.4 1361.1)" opacity="0.8"/>
<ellipse cx="400.2" cy="1392.6" rx="14.7" ry="10.8" fill="#4a4a4a" transform="rotate(27 400.2 1392.6)" opacity="0.8"/>
<ellipse cx="583.2" cy="1536.7" rx="24.9" ry="12.1" fill="#4a4a4a" transform="rotate(-15 583.2 1536.7)" opacity="0.8"/>
<ellipse cx="353.4" cy="1457.6" rx="17.3" ry="11.1" fill="#4a4a4a" transform="rotate(-33 353.4 1457.6)" opacity="0.8"/>
<ellipse cx="358.2" cy="1524.3" rx="18.2" ry="11.3" fill="#4a4a4a" transform="rotate(-32 358.2 1524.3)" opacity="0.8"/>
<ellipse cx="418.6" cy="1521.8" rx="19.0" ry="13.9" fill="#4a4a4a" transform="rotate(-24 418.6 1521.8)" opacity="0.8"/>
<ellipse cx="434.9" cy="1497.2" rx="15.6" ry="12.1" fill="#4a4a4a" transform="rotate(5 434.9 1497.2)" opacity="0.8"/>
<ellipse cx="336.3" cy="1339.8" rx="24.7" ry="6.1" fill="#4a4a4a" transform="rotate(-24 336.3 1339.8)" opacity="0.8"/>
<ellipse cx="399.9" cy="1477.7" rx="22.5" ry="9.3" fill="#4a4a4a" transform="rotate(-0 399.9 1477.7)" opacity="0.8"/>
<ellipse cx="532.6" cy="1380.0" rx="14.3" ry="10.5" fill="#4a4a4a" transform="rotate(11 532.6 1380.0)" opacity="0.8"/>
<ellipse cx="312.9" cy="1342.7" rx="10.3" ry="11.5" fill="#4a4a4a" transform="rotate(15 312.9 1342.7)" opacity="0.8"/>
<ellipse cx="586.6" cy="1489.8" rx="12.3" ry="11.9" fill="#4a4a4a" transform="rotate(39 586.6 1489.8)" opacity="0.8"/>
<ellipse cx="403.9" cy="1320.1" rx="14.4" ry="7.5" fill="#4a4a4a" transform="rotate(-26 403.9 1320.1)" opacity="0.8"/>
<ellipse cx="315.0" cy="1345.6" rx="22.7" ry="5.4" fill="#4a4a4a" transform="rotate(9 315.0 1345.6)" opacity="0.8"/>
<ellipse cx="362.2" cy="1361.0" rx="22.0" ry="7.7" fill="#4a4a4a" transform="rotate(-25 362.2 1361.0)" opacity="0.8"/>
<ellipse cx="434.9" cy="1473.5" rx="16.9" ry="12.7" fill="#4a4a4a" transform="rotate(-8 434.9 1473.5)" opacity="0.8"/>
<ellipse cx="455.2" cy="1478.5" rx="15.8" ry="11.5" fill="#4a4a4a" transform="rotate(-3 455.2 1478.5)" opacity="0.8"/>
<ellipse cx="340.9" cy="1345.3" rx="21.3" ry="11.7" fill="#4a4a4a" transform="rotate(35 340.9 1345.3)" opacity="0.8"/>
<ellipse cx="503.8" cy="1447.7" rx="10.8" ry="12.7" fill="#4a4a4a" transform="rotate(-30 503.8 1447.7)" opacity="0.8"/>
<ellipse cx="426.2" cy="1349.2" rx="14.5" ry="7.8" fill="#4a4a4a" transform="rotate(-6 426.2 1349.2)" opacity="0.8"/>
<ellipse cx="509.9" cy="1439.1" rx="12.1" ry="12.0" fill="#4a4a4a" transform="rotate(19 509.9 1439.1)" opacity="0.8"/>
<ellipse cx="543.9" cy="1325.0" rx="18.5" ry="13.1" fill="#4a4a4a" transform="rotate(-19 543.9 1325.0)" opacity="0.8"/>
<ellipse cx="361.0" cy="1500.2" rx="14.2" ry="8.6" fill="#4a4a4a" transform="rotate(25 361.0 1500.2)" opacity="0.8"/>
<ellipse cx="414.2" cy="1362.1" rx="11.6" ry="8.1" fill="#4a4a4a" transform="rotate(16 414.2 1362.1)" opacity="0.8"/>
<ellipse cx="409.6" cy="1490.6" rx="9.1" ry="7.2" fill="#4a4a4a" transform="rotate(10 409.6 1490.6)" opacity="0.8"/>
<ellipse cx="442.2" cy="1429.8" rx="23.9" ry="7.5" fill="#4a4a4a" transform="rotate(-25 442.2 1429.8)" opacity="0.8"/>
<ellipse cx="311.7" cy="1425.9" rx="13.1" ry="9.3" fill="#4a4a4a" transform="rotate(-40 311.7 1425.9)" opacity="0.8"/>
<ellipse cx="301.9" cy="1402.8" rx="20.9" ry="7.7" fill="#4a4a4a" transform="rotate(33 301.9 1402.8)" opacity="0.8"/>
<ellipse cx="471.4" cy="1408.1" rx="21.2" ry="7.1" fill="#4a4a4a" transform="rotate(8 471.4 1408.1)" opacity="0.8"/>
<ellipse cx="549.6" cy="1439.0" rx="13.4" ry="5.9" fill="#4a4a4a" transform="rotate(6 549.6 1439.0)" opacity="0.8"/>
<ellipse cx="356.7" cy="1401.3" rx="17.2" ry="13.5" fill="#4a4a4a" transform="rotate(14 356.7 1401.3)" opacity="0.8"/>
<ellipse cx="453.8" cy="1510.2" rx="13.2" ry="8.5" fill="#4a4a4a" transform="rotate(14 453.8 1510.2)" opacity="0.8"/>
<ellipse cx="464.0" cy="1367.3" rx="15.0" ry="12.4" fill="#4a4a4a" transform="rotate(-21 464.0 1367.3)" opacity="0.8"/>
<ellipse cx="508.4" cy="1328.4" rx="24.2" ry="11.2" fill="#4a4a4a" transform="rotate(-14 508.4 1328.4)" opacity="0.8"/>
<ellipse cx="589.6" cy="1496.3" rx="9.0" ry="7.2" fill="#4a4a4a" transform="rotate(-1 589.6 1496.3)" opacity="0.8"/>
<ellipse cx="594.0" cy="1349.2" rx="8.8" ry="7.8" fill="#4a4a4a" transform="rotate(-36 594.0 1349.2)" opacity="0.8"/>
<ellipse cx="421.5" cy="1438.4" rx="15.5" ry="6.3" fill="#4a4a4a" transform="rotate(-38 421.5 1438.4)" opacity="0.8"/>
</g>
<g filter="url(#blur1)">
<path d="M430.6,1307.6 Q432.9,1459.5 442.3,1552.0" fill="none" stroke="#5a5a5a" stroke-width="9.6" opacity="0.5"/>
<path d="M430.6,1307.6 Q432.9,1459.5 442.3,1552.0" fill="none" stroke="#bebec0" stroke-width="7.6"/>
<path d="M291.8,1540.4 Q425.6,1551.0 604.5,1422.0" fill="none" stroke="#5a5a5a" stroke-width="7.6" opacity="0.5"/>
<path d="M291.8,1540.4 Q425.6,1551.0 604.5,1422.0" fill="none" stroke="#bebec0" stroke-width="5.6"/>
<path d="M361.0,1307.6 Q292.7,1488.9 365.9,1552.0" fill="none" stroke="#5a5a5a" stroke-width="7.8" opacity="0.5"/>
<path d="M361.0,1307.6 Q292.7,1488.9 365.9,1552.0" fill="none" stroke="#9c9c9e" stroke-width="5.8"/>
<path d="M291.8,1407.7 Q485.8,1519.9 604.5,1500.8" fill="none" stroke="#5a5a5a" stroke-width="9.0" opacity="0.5"/>
<path d="M291.8,1407.7 Q485.8,1519.9 604.5,1500.8" fill="none" stroke="#bebec0" stroke-width="7.0"/>
<path d="M291.8,1442.4 Q440.7,1410.0 604.5,1493.7" fill="none" stroke="#5a5a5a" stroke-width="8.3" opacity="0.5"/>
<path d="M291.8,1442.4 Q440.7,1410.0 604.5,1493.7" fill="none" stroke="#a8a8aa" stroke-width="6.3"/>
<path d="M291.8,1403.1 Q422.7,1459.5 604.5,1368.9" fill="none" stroke="#5a5a5a" stroke-width="7.7" opacity="0.5"/>
<path d="M291.8,1403.1 Q422.7,1459.5 604.5,1368.9" fill="none" stroke="#bebec0" stroke-width="5.7"/>
<path d="M476.8,1307.6 Q496.6,1360.9 542.0,1552.0" fill="none" stroke="#5a5a5a" stroke-width="8.6" opacity="0.5"/>
<path d="M476.8,1307.6 Q496.6,1360.9 542.0,1552.0" fill="none" stroke="#bebec0" stroke-width="6.6"/>
<path d="M584.3,1307.6 Q516.3,1463.1 335.9,1552.0" fill="none" stroke="#5a5a5a" stroke-width="7.2" opacity="0.5"/>
<path d="M584.3,1307.6 Q516.3,1463.1 335.9,1552.0" fill="none" stroke="#9c9c9e" stroke-width="5.2"/>
<path d="M291.8,1335.2 Q496.1,1343.7 604.5,1338.8" fill="none" stroke="#5a5a5a" stroke-width="7.9" opacity="0.5"/>
<path d="M291.8,1335.2 Q496.1,1343.7 604.5,1338.8" fill="none" stroke="#bebec0" stroke-width="5.9"/>
<path d="M291.8,1415.5 Q409.0,1355.4 604.5,1352.6" fill="none" stroke="#5a5a5a" stroke-width="9.4" opacity="0.5"/>
<path d="M291.8,1415.5 Q409.0,1355.4 604.5,1352.6" fill="none" stroke="#bebec0" stroke-width="7.4"/>
<path d="M528.3,1307.6 Q465.8,1447.5 337.0,1552.0" fill="none" stroke="#5a5a5a" stroke-width="9.4" opacity="0.5"/>
<path d="M528.3,1307.6 Q465.8,1447.5 337.0,1552.0" fill="none" stroke="#a8a8aa" stroke-width="7.4"/>
<path d="M475.1,1307.6 Q462.9,1437.0 526.3,1552.0" fill="none" stroke="#5a5a5a" stroke-width="9.1" opacity="0.5"/>
<path d="M475.1,1307.6 Q462.9,1437.0 526.3,1552.0" fill="none" stroke="#9c9c9e" stroke-width="7.1"/>
<path d="M552.3,1307.6 Q531.2,1361.8 587.3,1552.0" fill="none" stroke="#5a5a5a" stroke-width="8.5" opacity="0.5"/>
<path d="M552.3,1307.6 Q531.2,1361.8 587.3,1552.0" fill="none" stroke="#a8a8aa" stroke-width="6.5"/>
<path d="M343.6,1307.6 Q498.6,1464.8 582.9,1552.0" fill="none" stroke="#5a5a5a" stroke-width="9.0" opacity="0.5"/>
<path d="M343.6,1307.6 Q498.6,1464.8 582.9,1552.0" fill="none" stroke="#9c9c9e" stroke-width="7.0"/>
<path d="M291.8,1358.1 Q389.5,1449.8 604.5,1420.9" fill="none" stroke="#5a5a5a" stroke-width="7.4" opacity="0.5"/>
<path d="M291.8,1358.1 Q389.5,1449.8 604.5,1420.9" fill="none" stroke="#9c9c9e" stroke-width="5.4"/>
<path d="M291.8,1362.4 Q370.3,1373.6 604.5,1425.8" fill="none" stroke="#5a5a5a" stroke-width="9.0" opacity="0.5"/>
<path d="M291.8,1362.4 Q370.3,1373.6 604.5,1425.8" fill="none" stroke="#a8a8aa" stroke-width="7.0"/>
<path d="M291.8,1386.7 Q383.4,1369.2 604.5,1364.1" fill="none" stroke="#5a5a5a" stroke-width="8.0" opacity="0.5"/>
<path d="M291.8,1386.7 Q383.4,1369.2 604.5,1364.1" fill="none" stroke="#a8a8aa" stroke-width="6.0"/>
<path d="M322.6,1307.6 Q465.4,1396.1 564.4,1552.0" fill="none" stroke="#5a5a5a" stroke-width="6.7" opacity="0.5"/>
<path d="M322.6,1307.6 Q465.4,1396.1 564.4,1552.0" fill="none" stroke="#b4b4b6" stroke-width="4.7"/>
<path d="M291.8,1329.2 Q458.8,1391.5 604.5,1537.7" fill="none" stroke="#5a5a5a" stroke-width="7.5" opacity="0.5"/>
<path d="M291.8,1329.2 Q458.8,1391.5 604.5,1537.7" fill="none" stroke="#9c9c9e" stroke-width="5.5"/>
<path d="M291.8,1329.3 Q499.5,1287.2 604.5,1384.4" fill="none" stroke="#5a5a5a" stroke-width="7.6" opacity="0.5"/>
<path d="M291.8,1329.3 Q499.5,1287.2 604.5,1384.4" fill="none" stroke="#bebec0" stroke-width="5.6"/>
<path d="M291.8,1325.8 Q391.2,1405.9 604.5,1334.3" fill="none" stroke="#5a5a5a" stroke-width="9.4" opacity="0.5"/>
<path d="M291.8,1325.8 Q391.2,1405.9 604.5,1334.3" fill="none" stroke="#b4b4b6" stroke-width="7.4"/>
<path d="M291.8,1373.6 Q465.2,1510.9 604.5,1512.8" fill="none" stroke="#5a5a5a" stroke-width="7.4" opacity="0.5"/>
<path d="M291.8,1373.6 Q465.2,1510.9 604.5,1512.8" fill="none" stroke="#9c9c9e" stroke-width="5.4"/>
<path d="M291.8,1540.4 Q524.4,1535.5 604.5,1463.0" fill="none" stroke="#5a5a5a" stroke-width="8.5" opacity="0.5"/>
<path d="M291.8,1540.4 Q524.4,1535.5 604.5,1463.0" fill="none" stroke="#a8a8aa" stroke-width="6.5"/>
<path d="M468.0,1307.6 Q437.2,1453.8 345.3,1552.0" fill="none" stroke="#5a5a5a" stroke-width="6.4" opacity="0.5"/>
<path d="M468.0,1307.6 Q437.2,1453.8 345.3,1552.0" fill="none" stroke="#bebec0" stroke-width="4.4"/>
<path d="M445.4,1307.6 Q369.6,1424.6 402.5,1552.0" fill="none" stroke="#5a5a5a" stroke-width="7.5" opacity="0.5"/>
<path d="M445.4,1307.6 Q369.6,1424.6 402.5,1552.0" fill="none" stroke="#a8a8aa" stroke-width="5.5"/>
<path d="M291.8,1397.7 Q410.8,1526.9 604.5,1532.4" fill="none" stroke="#5a5a5a" stroke-width="7.4" opacity="0.5"/>
<path d="M291.8,1397.7 Q410.8,1526.9 604.5,1532.4" fill="none" stroke="#9c9c9e" stroke-width="5.4"/>
<path d="M291.8,1410.7 Q484.4,1347.3 604.5,1438.6" fill="none" stroke="#5a5a5a" stroke-width="8.1" opacity="0.5"/>
<path d="M291.8,1410.7 Q484.4,1347.3 604.5,1438.6" fill="none" stroke="#9c9c9e" stroke-width="6.1"/>
<path d="M291.8,1432.2 Q520.0,1510.6 604.5,1474.9" fill="none" stroke="#5a5a5a" stroke-width="9.1" opacity="0.5"/>
<path d="M291.8,1432.2 Q520.0,1510.6 604.5,1474.9" fill="none" stroke="#9c9c9e" stroke-width="7.1"/>
<path d="M526.4,1307.6 Q376.5,1459.8 309.8,1552.0" fill="none" stroke="#5a5a5a" stroke-width="9.9" opacity="0.5"/>
<path d="M526.4,1307.6 Q376.5,1459.8 309.8,1552.0" fill="none" stroke="#bebec0" stroke-width="7.9"/>
<path d="M418.0,1307.6 Q331.9,1421.1 327.4,1552.0" fill="none" stroke="#5a5a5a" stroke-width="7.0" opacity="0.5"/>
<path d="M418.0,1307.6 Q331.9,1421.1 327.4,1552.0" fill="none" stroke="#a8a8aa" stroke-width="5.0"/>
<path d="M582.0,1307.6 Q485.8,1446.1 339.2,1552.0" fill="none" stroke="#5a5a5a" stroke-width="7.1" opacity="0.5"/>
<path d="M582.0,1307.6 Q485.8,1446.1 339.2,1552.0" fill="none" stroke="#b4b4b6" stroke-width="5.1"/>
<path d="M291.8,1379.1 Q505.9,1383.1 604.5,1538.9" fill="none" stroke="#5a5a5a" stroke-width="7.6" opacity="0.5"/>
<path d="M291.8,1379.1 Q505.9,1383.1 604.5,1538.9" fill="none" stroke="#b4b4b6" stroke-width="5.6"/>
<path d="M291.8,1442.4 Q520.7,1424.8 604.5,1417.7" fill="none" stroke="#5a5a5a" stroke-width="8.7" opacity="0.5"/>
<path d="M291.8,1442.4 Q520.7,1424.8 604.5,1417.7" fill="none" stroke="#bebec0" stroke-width="6.7"/>
<path d="M351.7,1307.6 Q448.4,1446.8 401.2,1552.0" fill="none" stroke="#5a5a5a" stroke-width="7.5" opacity="0.5"/>
<path d="M351.7,1307.6 Q448.4,1446.8 401.2,1552.0" fill="none" stroke="#a8a8aa" stroke-width="5.5"/>
</g>
</g>
<g transform="translate(409,1422) rotate(-95)"><polygon points="-12,-3 4,-3 4,-7 13,0 4,7 4,3 -12,3" fill="#ee2222"/></g>
<g transform="translate(437,1465) rotate(-40)"><polygon points="-12,-3 4,-3 4,-7 13,0 4,7 4,3 -12,3" fill="#ee2222"/></g>
<g transform="translate(505,1455) rotate(15)"><polygon points="-12,-3 4,-3 4,-7 13,0 4,7 4,3 -12,3" fill="#ee2222"/></g>
<g transform="translate(454,1517) rotate(-95)"><polygon points="-12,-3 4,-3 4,-7 13,0 4,7 4,3 -12,3" fill="#ee2222"/></g>
<text x="471.0" y="1520.0" font-size="35" fill="#ffffff" text-anchor="start" font-weight="bold">300 nm</text>
<line x1="506.5" y1="1533.0" x2="591.5" y2="1533.0" stroke="#ffffff" stroke-width="3"/>
<clipPath id="clipj"><rect x="624.9" y="1317.6" width="282" height="223.7"/></clipPath>
<g clip-path="url(#clipj)">
<rect x="624.9" y="1317.6" width="282.0" height="223.7" fill="#58585a" stroke="none" stroke-width="0"/>
<g filter="url(#blur3)">
<ellipse cx="724.1" cy="1413.8" rx="15.7" ry="8.1" fill="#2c2c2e" transform="rotate(1 724.1 1413.8)" opacity="0.8"/>
<ellipse cx="735.6" cy="1326.8" rx="15.1" ry="5.2" fill="#2c2c2e" transform="rotate(-32 735.6 1326.8)" opacity="0.8"/>
<ellipse cx="699.3" cy="1533.6" rx="16.2" ry="9.9" fill="#2c2c2e" transform="rotate(33 699.3 1533.6)" opacity="0.8"/>
<ellipse cx="878.3" cy="1444.6" rx="11.9" ry="9.7" fill="#2c2c2e" transform="rotate(-11 878.3 1444.6)" opacity="0.8"/>
<ellipse cx="895.0" cy="1325.0" rx="14.4" ry="11.2" fill="#2c2c2e" transform="rotate(8 895.0 1325.0)" opacity="0.8"/>
<ellipse cx="782.2" cy="1488.0" rx="12.1" ry="12.6" fill="#2c2c2e" transform="rotate(33 782.2 1488.0)" opacity="0.8"/>
<ellipse cx="634.8" cy="1392.3" rx="14.2" ry="8.5" fill="#2c2c2e" transform="rotate(3 634.8 1392.3)" opacity="0.8"/>
<ellipse cx="696.2" cy="1462.7" rx="23.0" ry="13.3" fill="#2c2c2e" transform="rotate(28 696.2 1462.7)" opacity="0.8"/>
<ellipse cx="686.5" cy="1484.1" rx="21.1" ry="10.4" fill="#2c2c2e" transform="rotate(14 686.5 1484.1)" opacity="0.8"/>
<ellipse cx="705.6" cy="1490.5" rx="12.1" ry="10.0" fill="#2c2c2e" transform="rotate(-19 705.6 1490.5)" opacity="0.8"/>
<ellipse cx="775.1" cy="1326.6" rx="13.3" ry="12.0" fill="#2c2c2e" transform="rotate(-19 775.1 1326.6)" opacity="0.8"/>
<ellipse cx="830.8" cy="1496.5" rx="18.3" ry="10.6" fill="#2c2c2e" transform="rotate(-23 830.8 1496.5)" opacity="0.8"/>
<ellipse cx="761.8" cy="1532.9" rx="24.8" ry="10.0" fill="#2c2c2e" transform="rotate(-4 761.8 1532.9)" opacity="0.8"/>
<ellipse cx="901.6" cy="1440.0" rx="21.7" ry="5.7" fill="#2c2c2e" transform="rotate(-19 901.6 1440.0)" opacity="0.8"/>
<ellipse cx="854.1" cy="1439.9" rx="21.3" ry="8.9" fill="#2c2c2e" transform="rotate(33 854.1 1439.9)" opacity="0.8"/>
<ellipse cx="634.3" cy="1376.9" rx="19.0" ry="9.7" fill="#2c2c2e" transform="rotate(14 634.3 1376.9)" opacity="0.8"/>
<ellipse cx="758.0" cy="1476.0" rx="21.6" ry="7.8" fill="#2c2c2e" transform="rotate(-38 758.0 1476.0)" opacity="0.8"/>
<ellipse cx="693.4" cy="1395.0" rx="24.9" ry="13.6" fill="#2c2c2e" transform="rotate(15 693.4 1395.0)" opacity="0.8"/>
<ellipse cx="674.7" cy="1523.6" rx="10.2" ry="6.2" fill="#2c2c2e" transform="rotate(23 674.7 1523.6)" opacity="0.8"/>
<ellipse cx="721.9" cy="1405.4" rx="12.5" ry="5.0" fill="#2c2c2e" transform="rotate(-30 721.9 1405.4)" opacity="0.8"/>
<ellipse cx="643.8" cy="1322.2" rx="8.7" ry="6.6" fill="#2c2c2e" transform="rotate(1 643.8 1322.2)" opacity="0.8"/>
<ellipse cx="763.4" cy="1492.8" rx="21.8" ry="9.8" fill="#2c2c2e" transform="rotate(5 763.4 1492.8)" opacity="0.8"/>
<ellipse cx="627.7" cy="1334.1" rx="22.2" ry="13.3" fill="#2c2c2e" transform="rotate(-13 627.7 1334.1)" opacity="0.8"/>
<ellipse cx="869.4" cy="1513.9" rx="12.0" ry="5.6" fill="#2c2c2e" transform="rotate(-30 869.4 1513.9)" opacity="0.8"/>
<ellipse cx="649.9" cy="1329.7" rx="17.3" ry="7.2" fill="#2c2c2e" transform="rotate(32 649.9 1329.7)" opacity="0.8"/>
<ellipse cx="775.7" cy="1440.6" rx="21.0" ry="10.6" fill="#2c2c2e" transform="rotate(39 775.7 1440.6)" opacity="0.8"/>
<ellipse cx="647.7" cy="1427.5" rx="17.5" ry="13.6" fill="#2c2c2e" transform="rotate(-7 647.7 1427.5)" opacity="0.8"/>
<ellipse cx="724.7" cy="1385.3" rx="22.4" ry="9.4" fill="#2c2c2e" transform="rotate(-29 724.7 1385.3)" opacity="0.8"/>
<ellipse cx="898.7" cy="1343.8" rx="15.8" ry="12.1" fill="#2c2c2e" transform="rotate(26 898.7 1343.8)" opacity="0.8"/>
<ellipse cx="747.5" cy="1443.8" rx="21.0" ry="5.6" fill="#2c2c2e" transform="rotate(23 747.5 1443.8)" opacity="0.8"/>
<ellipse cx="845.9" cy="1427.3" rx="9.9" ry="7.2" fill="#2c2c2e" transform="rotate(24 845.9 1427.3)" opacity="0.8"/>
<ellipse cx="672.0" cy="1322.7" rx="9.7" ry="9.1" fill="#2c2c2e" transform="rotate(-3 672.0 1322.7)" opacity="0.8"/>
<ellipse cx="703.0" cy="1439.5" rx="19.8" ry="13.3" fill="#2c2c2e" transform="rotate(37 703.0 1439.5)" opacity="0.8"/>
<ellipse cx="678.3" cy="1469.6" rx="8.7" ry="7.4" fill="#2c2c2e" transform="rotate(-1 678.3 1469.6)" opacity="0.8"/>
<ellipse cx="644.2" cy="1493.4" rx="22.9" ry="11.4" fill="#2c2c2e" transform="rotate(8 644.2 1493.4)" opacity="0.8"/>
<ellipse cx="776.4" cy="1494.5" rx="17.8" ry="8.7" fill="#2c2c2e" transform="rotate(15 776.4 1494.5)" opacity="0.8"/>
<ellipse cx="878.2" cy="1481.4" rx="9.6" ry="13.5" fill="#2c2c2e" transform="rotate(1 878.2 1481.4)" opacity="0.8"/>
<ellipse cx="710.9" cy="1530.9" rx="17.2" ry="8.2" fill="#2c2c2e" transform="rotate(-31 710.9 1530.9)" opacity="0.8"/>
<ellipse cx="888.0" cy="1508.8" rx="20.6" ry="8.2" fill="#2c2c2e" transform="rotate(-12 888.0 1508.8)" opacity="0.8"/>
<ellipse cx="868.9" cy="1524.7" rx="18.8" ry="7.4" fill="#2c2c2e" transform="rotate(-23 868.9 1524.7)" opacity="0.8"/>
<ellipse cx="683.9" cy="1508.0" rx="22.0" ry="13.6" fill="#2c2c2e" transform="rotate(-4 683.9 1508.0)" opacity="0.8"/>
<ellipse cx="843.6" cy="1388.6" rx="19.5" ry="6.4" fill="#2c2c2e" transform="rotate(-2 843.6 1388.6)" opacity="0.8"/>
<ellipse cx="632.7" cy="1511.4" rx="16.8" ry="10.5" fill="#2c2c2e" transform="rotate(29 632.7 1511.4)" opacity="0.8"/>
<ellipse cx="707.8" cy="1385.4" rx="23.9" ry="8.8" fill="#2c2c2e" transform="rotate(-0 707.8 1385.4)" opacity="0.8"/>
<ellipse cx="894.3" cy="1430.2" rx="16.7" ry="7.8" fill="#2c2c2e" transform="rotate(-38 894.3 1430.2)" opacity="0.8"/>
<ellipse cx="796.6" cy="1513.0" rx="22.5" ry="13.2" fill="#2c2c2e" transform="rotate(7 796.6 1513.0)" opacity="0.8"/>
<ellipse cx="792.6" cy="1457.2" rx="15.9" ry="10.0" fill="#2c2c2e" transform="rotate(15 792.6 1457.2)" opacity="0.8"/>
<ellipse cx="731.2" cy="1327.2" rx="18.4" ry="6.6" fill="#2c2c2e" transform="rotate(-34 731.2 1327.2)" opacity="0.8"/>
<ellipse cx="740.8" cy="1367.8" rx="11.0" ry="10.4" fill="#2c2c2e" transform="rotate(-40 740.8 1367.8)" opacity="0.8"/>
<ellipse cx="664.1" cy="1333.9" rx="14.6" ry="8.5" fill="#2c2c2e" transform="rotate(19 664.1 1333.9)" opacity="0.8"/>
<ellipse cx="802.5" cy="1481.0" rx="16.7" ry="5.9" fill="#2c2c2e" transform="rotate(23 802.5 1481.0)" opacity="0.8"/>
<ellipse cx="741.1" cy="1516.7" rx="9.8" ry="10.6" fill="#2c2c2e" transform="rotate(32 741.1 1516.7)" opacity="0.8"/>
<ellipse cx="765.5" cy="1415.9" rx="22.1" ry="8.6" fill="#2c2c2e" transform="rotate(0 765.5 1415.9)" opacity="0.8"/>
<ellipse cx="746.9" cy="1521.9" rx="13.4" ry="12.6" fill="#2c2c2e" transform="rotate(-29 746.9 1521.9)" opacity="0.8"/>
<ellipse cx="825.9" cy="1426.7" rx="19.0" ry="5.9" fill="#2c2c2e" transform="rotate(-1 825.9 1426.7)" opacity="0.8"/>
<ellipse cx="899.7" cy="1397.5" rx="8.5" ry="10.6" fill="#2c2c2e" transform="rotate(-33 899.7 1397.5)" opacity="0.8"/>
<ellipse cx="688.1" cy="1461.7" rx="16.6" ry="11.4" fill="#2c2c2e" transform="rotate(21 688.1 1461.7)" opacity="0.8"/>
<ellipse cx="711.4" cy="1453.1" rx="23.5" ry="5.6" fill="#2c2c2e" transform="rotate(18 711.4 1453.1)" opacity="0.8"/>
<ellipse cx="762.6" cy="1371.6" rx="18.4" ry="5.1" fill="#2c2c2e" transform="rotate(30 762.6 1371.6)" opacity="0.8"/>
<ellipse cx="796.7" cy="1457.5" rx="17.4" ry="12.2" fill="#2c2c2e" transform="rotate(-31 796.7 1457.5)" opacity="0.8"/>
<ellipse cx="643.0" cy="1449.6" rx="12.1" ry="12.8" fill="#2c2c2e" transform="rotate(-34 643.0 1449.6)" opacity="0.8"/>
<ellipse cx="770.1" cy="1478.4" rx="9.3" ry="6.1" fill="#2c2c2e" transform="rotate(-8 770.1 1478.4)" opacity="0.8"/>
<ellipse cx="723.1" cy="1532.7" rx="13.0" ry="10.8" fill="#2c2c2e" transform="rotate(14 723.1 1532.7)" opacity="0.8"/>
<ellipse cx="722.7" cy="1337.8" rx="13.3" ry="5.3" fill="#2c2c2e" transform="rotate(25 722.7 1337.8)" opacity="0.8"/>
<ellipse cx="663.1" cy="1391.5" rx="24.5" ry="12.5" fill="#2c2c2e" transform="rotate(21 663.1 1391.5)" opacity="0.8"/>
<ellipse cx="812.0" cy="1529.0" rx="15.3" ry="9.9" fill="#2c2c2e" transform="rotate(20 812.0 1529.0)" opacity="0.8"/>
<ellipse cx="816.7" cy="1396.4" rx="16.9" ry="8.8" fill="#2c2c2e" transform="rotate(-5 816.7 1396.4)" opacity="0.8"/>
<ellipse cx="815.6" cy="1480.4" rx="8.4" ry="13.7" fill="#2c2c2e" transform="rotate(-36 815.6 1480.4)" opacity="0.8"/>
<ellipse cx="889.5" cy="1519.2" rx="15.5" ry="10.2" fill="#2c2c2e" transform="rotate(-32 889.5 1519.2)" opacity="0.8"/>
<ellipse cx="719.3" cy="1482.9" rx="9.0" ry="13.8" fill="#2c2c2e" transform="rotate(20 719.3 1482.9)" opacity="0.8"/>
</g>
<g filter="url(#blur1)">
<path d="M813.5,1307.6 Q851.6,1432.3 757.1,1551.3" fill="none" stroke="#5a5a5a" stroke-width="13.5" opacity="0.5"/>
<path d="M813.5,1307.6 Q851.6,1432.3 757.1,1551.3" fill="none" stroke="#a2a2a4" stroke-width="11.5"/>
<path d="M689.6,1307.6 Q752.1,1401.5 801.8,1551.3" fill="none" stroke="#5a5a5a" stroke-width="9.1" opacity="0.5"/>
<path d="M689.6,1307.6 Q752.1,1401.5 801.8,1551.3" fill="none" stroke="#949496" stroke-width="7.1"/>
<path d="M645.4,1307.6 Q805.2,1397.2 835.4,1551.3" fill="none" stroke="#5a5a5a" stroke-width="13.1" opacity="0.5"/>
<path d="M645.4,1307.6 Q805.2,1397.2 835.4,1551.3" fill="none" stroke="#a2a2a4" stroke-width="11.1"/>
<path d="M614.9,1519.7 Q745.0,1460.1 916.9,1441.9" fill="none" stroke="#5a5a5a" stroke-width="9.6" opacity="0.5"/>
<path d="M614.9,1519.7 Q745.0,1460.1 916.9,1441.9" fill="none" stroke="#8a8a8c" stroke-width="7.6"/>
<path d="M849.5,1307.6 Q820.2,1456.6 854.4,1551.3" fill="none" stroke="#5a5a5a" stroke-width="11.4" opacity="0.5"/>
<path d="M849.5,1307.6 Q820.2,1456.6 854.4,1551.3" fill="none" stroke="#8a8a8c" stroke-width="9.4"/>
<path d="M722.9,1307.6 Q705.2,1465.3 765.3,1551.3" fill="none" stroke="#5a5a5a" stroke-width="13.8" opacity="0.5"/>
<path d="M722.9,1307.6 Q705.2,1465.3 765.3,1551.3" fill="none" stroke="#8a8a8c" stroke-width="11.8"/>
<path d="M614.9,1408.3 Q748.8,1503.1 916.9,1512.8" fill="none" stroke="#5a5a5a" stroke-width="10.9" opacity="0.5"/>
<path d="M614.9,1408.3 Q748.8,1503.1 916.9,1512.8" fill="none" stroke="#a2a2a4" stroke-width="8.9"/>
<path d="M614.9,1534.1 Q845.8,1543.3 916.9,1511.6" fill="none" stroke="#5a5a5a" stroke-width="11.5" opacity="0.5"/>
<path d="M614.9,1534.1 Q845.8,1543.3 916.9,1511.6" fill="none" stroke="#a2a2a4" stroke-width="9.5"/>
<path d="M643.4,1307.6 Q631.1,1375.4 758.3,1551.3" fill="none" stroke="#5a5a5a" stroke-width="9.8" opacity="0.5"/>
<path d="M643.4,1307.6 Q631.1,1375.4 758.3,1551.3" fill="none" stroke="#8a8a8c" stroke-width="7.8"/>
<path d="M614.9,1361.8 Q782.6,1390.7 916.9,1318.9" fill="none" stroke="#5a5a5a" stroke-width="10.0" opacity="0.5"/>
<path d="M614.9,1361.8 Q782.6,1390.7 916.9,1318.9" fill="none" stroke="#949496" stroke-width="8.0"/>
<path d="M757.7,1307.6 Q800.3,1495.3 896.5,1551.3" fill="none" stroke="#5a5a5a" stroke-width="13.4" opacity="0.5"/>
<path d="M757.7,1307.6 Q800.3,1495.3 896.5,1551.3" fill="none" stroke="#8a8a8c" stroke-width="11.4"/>
<path d="M614.9,1499.0 Q829.1,1405.9 916.9,1437.9" fill="none" stroke="#5a5a5a" stroke-width="10.5" opacity="0.5"/>
<path d="M614.9,1499.0 Q829.1,1405.9 916.9,1437.9" fill="none" stroke="#a2a2a4" stroke-width="8.5"/>
<path d="M857.0,1307.6 Q918.3,1350.0 863.0,1551.3" fill="none" stroke="#5a5a5a" stroke-width="15.0" opacity="0.5"/>
<path d="M857.0,1307.6 Q918.3,1350.0 863.0,1551.3" fill="none" stroke="#a2a2a4" stroke-width="13.0"/>
<path d="M614.9,1488.3 Q840.5,1494.9 916.9,1360.3" fill="none" stroke="#5a5a5a" stroke-width="15.4" opacity="0.5"/>
<path d="M614.9,1488.3 Q840.5,1494.9 916.9,1360.3" fill="none" stroke="#8a8a8c" stroke-width="13.4"/>
<path d="M635.6,1307.6 Q655.7,1399.2 643.3,1551.3" fill="none" stroke="#5a5a5a" stroke-width="12.9" opacity="0.5"/>
<path d="M635.6,1307.6 Q655.7,1399.2 643.3,1551.3" fill="none" stroke="#8a8a8c" stroke-width="10.9"/>
<path d="M614.9,1480.6 Q700.3,1492.8 916.9,1392.0" fill="none" stroke="#5a5a5a" stroke-width="15.6" opacity="0.5"/>
<path d="M614.9,1480.6 Q700.3,1492.8 916.9,1392.0" fill="none" stroke="#aaaaac" stroke-width="13.6"/>
<path d="M824.6,1307.6 Q745.3,1354.3 731.3,1551.3" fill="none" stroke="#5a5a5a" stroke-width="15.8" opacity="0.5"/>
<path d="M824.6,1307.6 Q745.3,1354.3 731.3,1551.3" fill="none" stroke="#949496" stroke-width="13.8"/>
<path d="M614.9,1367.4 Q754.3,1376.5 916.9,1319.3" fill="none" stroke="#5a5a5a" stroke-width="12.6" opacity="0.5"/>
<path d="M614.9,1367.4 Q754.3,1376.5 916.9,1319.3" fill="none" stroke="#949496" stroke-width="10.6"/>
<path d="M614.9,1479.0 Q822.2,1510.8 916.9,1530.2" fill="none" stroke="#5a5a5a" stroke-width="15.3" opacity="0.5"/>
<path d="M614.9,1479.0 Q822.2,1510.8 916.9,1530.2" fill="none" stroke="#8a8a8c" stroke-width="13.3"/>
<path d="M614.9,1502.2 Q692.2,1385.0 916.9,1350.6" fill="none" stroke="#5a5a5a" stroke-width="13.8" opacity="0.5"/>
<path d="M614.9,1502.2 Q692.2,1385.0 916.9,1350.6" fill="none" stroke="#949496" stroke-width="11.8"/>
<path d="M614.9,1321.5 Q810.7,1351.2 916.9,1345.0" fill="none" stroke="#5a5a5a" stroke-width="15.5" opacity="0.5"/>
<path d="M614.9,1321.5 Q810.7,1351.2 916.9,1345.0" fill="none" stroke="#aaaaac" stroke-width="13.5"/>
<path d="M873.2,1307.6 Q900.4,1447.4 779.3,1551.3" fill="none" stroke="#5a5a5a" stroke-width="12.6" opacity="0.5"/>
<path d="M873.2,1307.6 Q900.4,1447.4 779.3,1551.3" fill="none" stroke="#a2a2a4" stroke-width="10.6"/>
<path d="M614.9,1497.7 Q817.7,1504.1 916.9,1438.8" fill="none" stroke="#5a5a5a" stroke-width="15.4" opacity="0.5"/>
<path d="M614.9,1497.7 Q817.7,1504.1 916.9,1438.8" fill="none" stroke="#a2a2a4" stroke-width="13.4"/>
<path d="M614.9,1520.8 Q829.5,1512.2 916.9,1455.6" fill="none" stroke="#5a5a5a" stroke-width="11.7" opacity="0.5"/>
<path d="M614.9,1520.8 Q829.5,1512.2 916.9,1455.6" fill="none" stroke="#aaaaac" stroke-width="9.7"/>
<path d="M614.9,1524.7 Q715.3,1459.9 916.9,1418.2" fill="none" stroke="#5a5a5a" stroke-width="14.3" opacity="0.5"/>
<path d="M614.9,1524.7 Q715.3,1459.9 916.9,1418.2" fill="none" stroke="#8a8a8c" stroke-width="12.3"/>
<path d="M614.9,1408.9 Q734.2,1468.8 916.9,1401.5" fill="none" stroke="#5a5a5a" stroke-width="11.2" opacity="0.5"/>
<path d="M614.9,1408.9 Q734.2,1468.8 916.9,1401.5" fill="none" stroke="#8a8a8c" stroke-width="9.2"/>
<path d="M614.9,1488.3 Q760.7,1369.2 916.9,1377.7" fill="none" stroke="#5a5a5a" stroke-width="15.1" opacity="0.5"/>
<path d="M614.9,1488.3 Q760.7,1369.2 916.9,1377.7" fill="none" stroke="#a2a2a4" stroke-width="13.1"/>
<path d="M728.6,1307.6 Q829.3,1455.7 805.0,1551.3" fill="none" stroke="#5a5a5a" stroke-width="12.6" opacity="0.5"/>
<path d="M728.6,1307.6 Q829.3,1455.7 805.0,1551.3" fill="none" stroke="#949496" stroke-width="10.6"/>
<path d="M614.9,1396.2 Q692.3,1475.1 916.9,1456.5" fill="none" stroke="#5a5a5a" stroke-width="11.8" opacity="0.5"/>
<path d="M614.9,1396.2 Q692.3,1475.1 916.9,1456.5" fill="none" stroke="#aaaaac" stroke-width="9.8"/>
<path d="M614.9,1528.6 Q791.1,1413.0 916.9,1391.6" fill="none" stroke="#5a5a5a" stroke-width="15.8" opacity="0.5"/>
<path d="M614.9,1528.6 Q791.1,1413.0 916.9,1391.6" fill="none" stroke="#949496" stroke-width="13.8"/>
</g>
</g>
<rect x="645.0" y="1318.0" width="110.0" height="7.0" fill="#202020" stroke="none" stroke-width="0" opacity="0.8" filter="url(#blur2)"/>
<rect x="850.0" y="1486.0" width="35.0" height="14.0" fill="#151515" stroke="none" stroke-width="0" opacity="0.9" filter="url(#blur1)"/>
<g transform="translate(820,1375) rotate(-95)"><polygon points="-12,-3 4,-3 4,-7 13,0 4,7 4,3 -12,3" fill="#ee2222"/></g>
<g transform="translate(866,1435) rotate(-95)"><polygon points="-12,-3 4,-3 4,-7 13,0 4,7 4,3 -12,3" fill="#ee2222"/></g>
<g transform="translate(727,1474) rotate(-95)"><polygon points="-12,-3 4,-3 4,-7 13,0 4,7 4,3 -12,3" fill="#ee2222"/></g>
<text x="782.6" y="1520.0" font-size="35" fill="#ffffff" text-anchor="start" font-weight="bold">300 nm</text>
<line x1="824.3" y1="1531.4" x2="907.0" y2="1531.4" stroke="#ffffff" stroke-width="3"/>
<rect x="880" y="1535" width="27" height="6" fill="#111"/>
<clipPath id="clipk"><rect x="303" y="1563" width="291.4" height="269"/></clipPath>
<g clip-path="url(#clipk)">
<rect x="303.0" y="1563.0" width="291.4" height="269.0" fill="#70aee0" stroke="none" stroke-width="0"/>
<g filter="url(#blur2)">
<polygon points="303.0,1564.6 362.4,1564.6 364.8,1648.1 343.2,1635.3 303.0,1630.5" fill="#82c44c" stroke="none" stroke-width="0"/>
<polygon points="364.0,1564.6 447.5,1564.6 447.5,1603.2 444.3,1644.9 423.4,1654.5 401.0,1644.9 384.9,1611.2 372.1,1587.1" fill="#5c9c3c" stroke="none" stroke-width="0"/>
<polygon points="487.6,1564.6 594.4,1564.6 594.4,1657.7 542.2,1657.7 527.8,1627.2 516.5,1600.0" fill="#78b84a" stroke="none" stroke-width="0"/>
<polygon points="327.1,1677.0 378.5,1661.0 431.5,1665.8 471.6,1691.5 471.6,1715.5 407.4,1723.6 351.2,1707.5" fill="#74a868" stroke="none" stroke-width="0"/>
<polygon points="447.5,1688.2 519.8,1688.2 532.6,1715.5 511.7,1731.6 455.5,1731.6" fill="#98c868" stroke="none" stroke-width="0"/>
<polygon points="323.9,1731.6 367.2,1715.5 399.4,1723.6 399.4,1779.8 367.2,1831.1 327.1,1795.8" fill="#8ccc4a" stroke="none" stroke-width="0"/>
<polygon points="439.5,1699.5 503.7,1691.5 519.8,1763.7 479.6,1787.8 447.5,1763.7" fill="#8cc454" stroke="none" stroke-width="0"/>
<polygon points="495.7,1723.6 527.8,1731.6 551.9,1763.7 555.1,1831.1 495.7,1831.1 487.6,1779.8" fill="#56963a" stroke="none" stroke-width="0"/>
<polygon points="575.9,1699.5 594.4,1699.5 594.4,1831.1 575.9,1811.9" fill="#68a844" stroke="none" stroke-width="0"/>
</g>
<clipPath id="leaf0"><polygon points="303.0,1564.6 362.4,1564.6 364.8,1648.1 343.2,1635.3 303.0,1630.5"/></clipPath>
<g clip-path="url(#leaf0)" opacity="0.38">
<line x1="219.5" y1="1564.6" x2="152.8" y2="1648.1" stroke="#2e6a20" stroke-width="1.6"/>
<line x1="224.7" y1="1564.6" x2="158.0" y2="1648.1" stroke="#2e6a20" stroke-width="2.2"/>
<line x1="229.3" y1="1564.6" x2="162.5" y2="1648.1" stroke="#2e6a20" stroke-width="1.8"/>
<line x1="236.1" y1="1564.6" x2="169.3" y2="1648.1" stroke="#2e6a20" stroke-width="1.9"/>
<line x1="240.8" y1="1564.6" x2="174.1" y2="1648.1" stroke="#2e6a20" stroke-width="2.0"/>
<line x1="247.3" y1="1564.6" x2="180.6" y2="1648.1" stroke="#2e6a20" stroke-width="2.2"/>
<line x1="251.5" y1="1564.6" x2="184.7" y2="1648.1" stroke="#2e6a20" stroke-width="2.3"/>
<line x1="256.3" y1="1564.6" x2="189.6" y2="1648.1" stroke="#2e6a20" stroke-width="2.2"/>
<line x1="262.9" y1="1564.6" x2="196.1" y2="1648.1" stroke="#2e6a20" stroke-width="2.2"/>
<line x1="267.8" y1="1564.6" x2="201.0" y2="1648.1" stroke="#2e6a20" stroke-width="1.6"/>
<line x1="272.2" y1="1564.6" x2="205.5" y2="1648.1" stroke="#2e6a20" stroke-width="2.1"/>
<line x1="278.9" y1="1564.6" x2="212.1" y2="1648.1" stroke="#2e6a20" stroke-width="1.4"/>
<line x1="283.9" y1="1564.6" x2="217.1" y2="1648.1" stroke="#2e6a20" stroke-width="1.3"/>
<line x1="288.9" y1="1564.6" x2="222.1" y2="1648.1" stroke="#2e6a20" stroke-width="1.9"/>
<line x1="295.1" y1="1564.6" x2="228.3" y2="1648.1" stroke="#2e6a20" stroke-width="2.0"/>
<line x1="299.4" y1="1564.6" x2="232.7" y2="1648.1" stroke="#2e6a20" stroke-width="2.2"/>
<line x1="308.3" y1="1564.6" x2="241.6" y2="1648.1" stroke="#2e6a20" stroke-width="2.1"/>
<line x1="316.1" y1="1564.6" x2="249.3" y2="1648.1" stroke="#2e6a20" stroke-width="2.2"/>
<line x1="320.5" y1="1564.6" x2="253.8" y2="1648.1" stroke="#2e6a20" stroke-width="1.8"/>
<line x1="324.9" y1="1564.6" x2="258.1" y2="1648.1" stroke="#2e6a20" stroke-width="2.1"/>
<line x1="331.6" y1="1564.6" x2="264.8" y2="1648.1" stroke="#2e6a20" stroke-width="1.3"/>
<line x1="337.8" y1="1564.6" x2="271.1" y2="1648.1" stroke="#2e6a20" stroke-width="2.1"/>
<line x1="344.6" y1="1564.6" x2="277.8" y2="1648.1" stroke="#2e6a20" stroke-width="1.3"/>
<line x1="353.3" y1="1564.6" x2="286.5" y2="1648.1" stroke="#2e6a20" stroke-width="1.3"/>
<line x1="361.5" y1="1564.6" x2="294.7" y2="1648.1" stroke="#2e6a20" stroke-width="2.4"/>
<line x1="369.3" y1="1564.6" x2="302.5" y2="1648.1" stroke="#2e6a20" stroke-width="2.3"/>
<line x1="375.9" y1="1564.6" x2="309.1" y2="1648.1" stroke="#2e6a20" stroke-width="1.5"/>
<line x1="382.3" y1="1564.6" x2="315.5" y2="1648.1" stroke="#2e6a20" stroke-width="2.1"/>
<line x1="390.1" y1="1564.6" x2="323.3" y2="1648.1" stroke="#2e6a20" stroke-width="1.7"/>
<line x1="398.9" y1="1564.6" x2="332.1" y2="1648.1" stroke="#2e6a20" stroke-width="1.2"/>
<line x1="405.3" y1="1564.6" x2="338.6" y2="1648.1" stroke="#2e6a20" stroke-width="1.2"/>
<line x1="411.1" y1="1564.6" x2="344.3" y2="1648.1" stroke="#2e6a20" stroke-width="2.4"/>
<line x1="415.7" y1="1564.6" x2="348.9" y2="1648.1" stroke="#2e6a20" stroke-width="2.4"/>
<line x1="424.2" y1="1564.6" x2="357.5" y2="1648.1" stroke="#2e6a20" stroke-width="2.0"/>
<line x1="428.5" y1="1564.6" x2="361.7" y2="1648.1" stroke="#2e6a20" stroke-width="1.8"/>
<line x1="436.0" y1="1564.6" x2="369.2" y2="1648.1" stroke="#2e6a20" stroke-width="1.3"/>
<line x1="441.5" y1="1564.6" x2="374.7" y2="1648.1" stroke="#2e6a20" stroke-width="1.3"/>
</g>
<clipPath id="leaf1"><polygon points="364.0,1564.6 447.5,1564.6 447.5,1603.2 444.3,1644.9 423.4,1654.5 401.0,1644.9 384.9,1611.2 372.1,1587.1"/></clipPath>
<g clip-path="url(#leaf1)" opacity="0.38">
<line x1="274.1" y1="1564.6" x2="202.2" y2="1654.5" stroke="#2e6a20" stroke-width="2.3"/>
<line x1="281.9" y1="1564.6" x2="210.0" y2="1654.5" stroke="#2e6a20" stroke-width="1.9"/>
<line x1="286.2" y1="1564.6" x2="214.3" y2="1654.5" stroke="#2e6a20" stroke-width="1.8"/>
<line x1="294.0" y1="1564.6" x2="222.1" y2="1654.5" stroke="#2e6a20" stroke-width="2.1"/>
<line x1="298.1" y1="1564.6" x2="226.2" y2="1654.5" stroke="#2e6a20" stroke-width="1.2"/>
<line x1="302.6" y1="1564.6" x2="230.7" y2="1654.5" stroke="#2e6a20" stroke-width="2.3"/>
<line x1="307.1" y1="1564.6" x2="235.2" y2="1654.5" stroke="#2e6a20" stroke-width="1.7"/>
<line x1="313.5" y1="1564.6" x2="241.6" y2="1654.5" stroke="#2e6a20" stroke-width="2.3"/>
<line x1="318.2" y1="1564.6" x2="246.3" y2="1654.5" stroke="#2e6a20" stroke-width="1.5"/>
<line x1="326.1" y1="1564.6" x2="254.1" y2="1654.5" stroke="#2e6a20" stroke-width="1.3"/>
<line x1="330.9" y1="1564.6" x2="259.0" y2="1654.5" stroke="#2e6a20" stroke-width="1.2"/>
<line x1="339.7" y1="1564.6" x2="267.7" y2="1654.5" stroke="#2e6a20" stroke-width="1.5"/>
<line x1="346.2" y1="1564.6" x2="274.3" y2="1654.5" stroke="#2e6a20" stroke-width="1.7"/>
<line x1="355.1" y1="1564.6" x2="283.2" y2="1654.5" stroke="#2e6a20" stroke-width="2.1"/>
<line x1="362.1" y1="1564.6" x2="290.2" y2="1654.5" stroke="#2e6a20" stroke-width="1.8"/>
<line x1="367.4" y1="1564.6" x2="295.5" y2="1654.5" stroke="#2e6a20" stroke-width="2.2"/>
<line x1="371.9" y1="1564.6" x2="300.0" y2="1654.5" stroke="#2e6a20" stroke-width="1.9"/>
<line x1="377.4" y1="1564.6" x2="305.5" y2="1654.5" stroke="#2e6a20" stroke-width="1.5"/>
<line x1="383.7" y1="1564.6" x2="311.8" y2="1654.5" stroke="#2e6a20" stroke-width="1.4"/>
<line x1="390.6" y1="1564.6" x2="318.7" y2="1654.5" stroke="#2e6a20" stroke-width="1.3"/>
<line x1="394.7" y1="1564.6" x2="322.8" y2="1654.5" stroke="#2e6a20" stroke-width="1.4"/>
<line x1="399.2" y1="1564.6" x2="327.3" y2="1654.5" stroke="#2e6a20" stroke-width="2.3"/>
<line x1="405.7" y1="1564.6" x2="333.8" y2="1654.5" stroke="#2e6a20" stroke-width="2.0"/>
<line x1="413.6" y1="1564.6" x2="341.7" y2="1654.5" stroke="#2e6a20" stroke-width="1.4"/>
<line x1="422.4" y1="1564.6" x2="350.5" y2="1654.5" stroke="#2e6a20" stroke-width="1.7"/>
<line x1="428.7" y1="1564.6" x2="356.8" y2="1654.5" stroke="#2e6a20" stroke-width="1.8"/>
<line x1="436.2" y1="1564.6" x2="364.3" y2="1654.5" stroke="#2e6a20" stroke-width="2.1"/>
<line x1="441.1" y1="1564.6" x2="369.2" y2="1654.5" stroke="#2e6a20" stroke-width="2.2"/>
<line x1="447.3" y1="1564.6" x2="375.4" y2="1654.5" stroke="#2e6a20" stroke-width="1.5"/>
<line x1="455.6" y1="1564.6" x2="383.7" y2="1654.5" stroke="#2e6a20" stroke-width="2.2"/>
<line x1="463.9" y1="1564.6" x2="392.0" y2="1654.5" stroke="#2e6a20" stroke-width="1.6"/>
<line x1="472.5" y1="1564.6" x2="400.5" y2="1654.5" stroke="#2e6a20" stroke-width="2.1"/>
<line x1="481.3" y1="1564.6" x2="409.4" y2="1654.5" stroke="#2e6a20" stroke-width="2.1"/>
<line x1="490.3" y1="1564.6" x2="418.4" y2="1654.5" stroke="#2e6a20" stroke-width="1.8"/>
<line x1="498.1" y1="1564.6" x2="426.1" y2="1654.5" stroke="#2e6a20" stroke-width="2.1"/>
<line x1="504.7" y1="1564.6" x2="432.8" y2="1654.5" stroke="#2e6a20" stroke-width="1.8"/>
<line x1="510.7" y1="1564.6" x2="438.8" y2="1654.5" stroke="#2e6a20" stroke-width="2.2"/>
<line x1="516.6" y1="1564.6" x2="444.7" y2="1654.5" stroke="#2e6a20" stroke-width="2.1"/>
<line x1="523.4" y1="1564.6" x2="451.5" y2="1654.5" stroke="#2e6a20" stroke-width="2.0"/>
<line x1="528.9" y1="1564.6" x2="457.0" y2="1654.5" stroke="#2e6a20" stroke-width="1.3"/>
<line x1="536.3" y1="1564.6" x2="464.4" y2="1654.5" stroke="#2e6a20" stroke-width="1.4"/>
</g>
<clipPath id="leaf2"><polygon points="487.6,1564.6 594.4,1564.6 594.4,1657.7 542.2,1657.7 527.8,1627.2 516.5,1600.0"/></clipPath>
<g clip-path="url(#leaf2)" opacity="0.38">
<line x1="394.5" y1="1564.6" x2="469.0" y2="1657.7" stroke="#2e6a20" stroke-width="1.5"/>
<line x1="402.7" y1="1564.6" x2="477.1" y2="1657.7" stroke="#2e6a20" stroke-width="1.9"/>
<line x1="409.7" y1="1564.6" x2="484.2" y2="1657.7" stroke="#2e6a20" stroke-width="1.9"/>
<line x1="416.3" y1="1564.6" x2="490.8" y2="1657.7" stroke="#2e6a20" stroke-width="2.2"/>
<line x1="425.1" y1="1564.6" x2="499.6" y2="1657.7" stroke="#2e6a20" stroke-width="1.3"/>
<line x1="432.6" y1="1564.6" x2="507.1" y2="1657.7" stroke="#2e6a20" stroke-width="1.4"/>
<line x1="440.6" y1="1564.6" x2="515.0" y2="1657.7" stroke="#2e6a20" stroke-width="2.0"/>
<line x1="446.3" y1="1564.6" x2="520.8" y2="1657.7" stroke="#2e6a20" stroke-width="2.0"/>
<line x1="453.9" y1="1564.6" x2="528.4" y2="1657.7" stroke="#2e6a20" stroke-width="1.9"/>
<line x1="459.8" y1="1564.6" x2="534.3" y2="1657.7" stroke="#2e6a20" stroke-width="2.3"/>
<line x1="465.3" y1="1564.6" x2="539.8" y2="1657.7" stroke="#2e6a20" stroke-width="1.6"/>
<line x1="472.6" y1="1564.6" x2="547.0" y2="1657.7" stroke="#2e6a20" stroke-width="2.1"/>
<line x1="476.6" y1="1564.6" x2="551.1" y2="1657.7" stroke="#2e6a20" stroke-width="1.7"/>
<line x1="484.8" y1="1564.6" x2="559.3" y2="1657.7" stroke="#2e6a20" stroke-width="1.8"/>
<line x1="492.7" y1="1564.6" x2="567.2" y2="1657.7" stroke="#2e6a20" stroke-width="1.8"/>
<line x1="500.8" y1="1564.6" x2="575.3" y2="1657.7" stroke="#2e6a20" stroke-width="1.7"/>
<line x1="505.4" y1="1564.6" x2="579.9" y2="1657.7" stroke="#2e6a20" stroke-width="1.7"/>
<line x1="510.0" y1="1564.6" x2="584.5" y2="1657.7" stroke="#2e6a20" stroke-width="2.3"/>
<line x1="517.2" y1="1564.6" x2="591.7" y2="1657.7" stroke="#2e6a20" stroke-width="1.5"/>
<line x1="524.2" y1="1564.6" x2="598.7" y2="1657.7" stroke="#2e6a20" stroke-width="1.5"/>
<line x1="532.7" y1="1564.6" x2="607.2" y2="1657.7" stroke="#2e6a20" stroke-width="1.4"/>
<line x1="541.2" y1="1564.6" x2="615.7" y2="1657.7" stroke="#2e6a20" stroke-width="1.3"/>
<line x1="545.4" y1="1564.6" x2="619.9" y2="1657.7" stroke="#2e6a20" stroke-width="2.4"/>
<line x1="553.1" y1="1564.6" x2="627.6" y2="1657.7" stroke="#2e6a20" stroke-width="1.8"/>
<line x1="557.4" y1="1564.6" x2="631.9" y2="1657.7" stroke="#2e6a20" stroke-width="2.1"/>
<line x1="562.4" y1="1564.6" x2="636.9" y2="1657.7" stroke="#2e6a20" stroke-width="1.9"/>
<line x1="570.1" y1="1564.6" x2="644.6" y2="1657.7" stroke="#2e6a20" stroke-width="1.6"/>
<line x1="575.3" y1="1564.6" x2="649.8" y2="1657.7" stroke="#2e6a20" stroke-width="1.8"/>
<line x1="581.5" y1="1564.6" x2="655.9" y2="1657.7" stroke="#2e6a20" stroke-width="1.9"/>
<line x1="589.1" y1="1564.6" x2="663.6" y2="1657.7" stroke="#2e6a20" stroke-width="2.2"/>
<line x1="597.1" y1="1564.6" x2="671.6" y2="1657.7" stroke="#2e6a20" stroke-width="1.7"/>
<line x1="601.5" y1="1564.6" x2="676.0" y2="1657.7" stroke="#2e6a20" stroke-width="2.1"/>
<line x1="608.8" y1="1564.6" x2="683.3" y2="1657.7" stroke="#2e6a20" stroke-width="2.0"/>
<line x1="616.0" y1="1564.6" x2="690.5" y2="1657.7" stroke="#2e6a20" stroke-width="1.6"/>
<line x1="624.9" y1="1564.6" x2="699.4" y2="1657.7" stroke="#2e6a20" stroke-width="1.7"/>
<line x1="631.4" y1="1564.6" x2="705.9" y2="1657.7" stroke="#2e6a20" stroke-width="1.6"/>
<line x1="638.6" y1="1564.6" x2="713.1" y2="1657.7" stroke="#2e6a20" stroke-width="1.5"/>
<line x1="646.6" y1="1564.6" x2="721.1" y2="1657.7" stroke="#2e6a20" stroke-width="2.3"/>
<line x1="652.3" y1="1564.6" x2="726.8" y2="1657.7" stroke="#2e6a20" stroke-width="1.4"/>
<line x1="657.6" y1="1564.6" x2="732.1" y2="1657.7" stroke="#2e6a20" stroke-width="2.3"/>
<line x1="663.1" y1="1564.6" x2="737.6" y2="1657.7" stroke="#2e6a20" stroke-width="1.8"/>
<line x1="670.6" y1="1564.6" x2="745.1" y2="1657.7" stroke="#2e6a20" stroke-width="1.3"/>
<line x1="677.5" y1="1564.6" x2="752.0" y2="1657.7" stroke="#2e6a20" stroke-width="1.3"/>
<line x1="683.0" y1="1564.6" x2="757.4" y2="1657.7" stroke="#2e6a20" stroke-width="2.4"/>
</g>
<clipPath id="leaf3"><polygon points="327.1,1677.0 378.5,1661.0 431.5,1665.8 471.6,1691.5 471.6,1715.5 407.4,1723.6 351.2,1707.5"/></clipPath>
<g clip-path="url(#leaf3)" opacity="0.38">
<line x1="264.5" y1="1661.0" x2="214.4" y2="1723.6" stroke="#2e6a20" stroke-width="1.7"/>
<line x1="271.1" y1="1661.0" x2="221.0" y2="1723.6" stroke="#2e6a20" stroke-width="1.7"/>
<line x1="277.1" y1="1661.0" x2="227.0" y2="1723.6" stroke="#2e6a20" stroke-width="2.2"/>
<line x1="281.6" y1="1661.0" x2="231.5" y2="1723.6" stroke="#2e6a20" stroke-width="1.7"/>
<line x1="289.9" y1="1661.0" x2="239.9" y2="1723.6" stroke="#2e6a20" stroke-width="1.6"/>
<line x1="296.4" y1="1661.0" x2="246.3" y2="1723.6" stroke="#2e6a20" stroke-width="1.7"/>
<line x1="301.2" y1="1661.0" x2="251.2" y2="1723.6" stroke="#2e6a20" stroke-width="1.7"/>
<line x1="308.0" y1="1661.0" x2="257.9" y2="1723.6" stroke="#2e6a20" stroke-width="1.9"/>
<line x1="313.3" y1="1661.0" x2="263.2" y2="1723.6" stroke="#2e6a20" stroke-width="2.4"/>
<line x1="318.8" y1="1661.0" x2="268.8" y2="1723.6" stroke="#2e6a20" stroke-width="1.5"/>
<line x1="325.4" y1="1661.0" x2="275.3" y2="1723.6" stroke="#2e6a20" stroke-width="1.7"/>
<line x1="332.2" y1="1661.0" x2="282.1" y2="1723.6" stroke="#2e6a20" stroke-width="1.9"/>
<line x1="338.2" y1="1661.0" x2="288.1" y2="1723.6" stroke="#2e6a20" stroke-width="2.3"/>
<line x1="344.0" y1="1661.0" x2="294.0" y2="1723.6" stroke="#2e6a20" stroke-width="1.5"/>
<line x1="353.0" y1="1661.0" x2="302.9" y2="1723.6" stroke="#2e6a20" stroke-width="1.3"/>
<line x1="358.8" y1="1661.0" x2="308.7" y2="1723.6" stroke="#2e6a20" stroke-width="1.3"/>
<line x1="366.3" y1="1661.0" x2="316.2" y2="1723.6" stroke="#2e6a20" stroke-width="1.4"/>
<line x1="370.5" y1="1661.0" x2="320.5" y2="1723.6" stroke="#2e6a20" stroke-width="1.9"/>
<line x1="376.3" y1="1661.0" x2="326.2" y2="1723.6" stroke="#2e6a20" stroke-width="2.3"/>
<line x1="384.7" y1="1661.0" x2="334.6" y2="1723.6" stroke="#2e6a20" stroke-width="2.0"/>
<line x1="392.5" y1="1661.0" x2="342.5" y2="1723.6" stroke="#2e6a20" stroke-width="1.4"/>
<line x1="398.2" y1="1661.0" x2="348.1" y2="1723.6" stroke="#2e6a20" stroke-width="2.0"/>
<line x1="404.6" y1="1661.0" x2="354.5" y2="1723.6" stroke="#2e6a20" stroke-width="1.3"/>
<line x1="411.7" y1="1661.0" x2="361.6" y2="1723.6" stroke="#2e6a20" stroke-width="1.5"/>
<line x1="419.3" y1="1661.0" x2="369.2" y2="1723.6" stroke="#2e6a20" stroke-width="1.9"/>
<line x1="428.0" y1="1661.0" x2="377.9" y2="1723.6" stroke="#2e6a20" stroke-width="2.3"/>
<line x1="432.5" y1="1661.0" x2="382.5" y2="1723.6" stroke="#2e6a20" stroke-width="2.4"/>
<line x1="441.1" y1="1661.0" x2="391.0" y2="1723.6" stroke="#2e6a20" stroke-width="1.3"/>
<line x1="445.4" y1="1661.0" x2="395.3" y2="1723.6" stroke="#2e6a20" stroke-width="1.6"/>
<line x1="451.7" y1="1661.0" x2="401.6" y2="1723.6" stroke="#2e6a20" stroke-width="1.7"/>
<line x1="456.1" y1="1661.0" x2="406.0" y2="1723.6" stroke="#2e6a20" stroke-width="1.4"/>
<line x1="461.9" y1="1661.0" x2="411.8" y2="1723.6" stroke="#2e6a20" stroke-width="1.5"/>
<line x1="470.3" y1="1661.0" x2="420.2" y2="1723.6" stroke="#2e6a20" stroke-width="2.0"/>
<line x1="477.6" y1="1661.0" x2="427.5" y2="1723.6" stroke="#2e6a20" stroke-width="2.2"/>
<line x1="486.4" y1="1661.0" x2="436.3" y2="1723.6" stroke="#2e6a20" stroke-width="2.1"/>
<line x1="491.3" y1="1661.0" x2="441.2" y2="1723.6" stroke="#2e6a20" stroke-width="1.9"/>
<line x1="496.3" y1="1661.0" x2="446.3" y2="1723.6" stroke="#2e6a20" stroke-width="1.6"/>
<line x1="501.9" y1="1661.0" x2="451.8" y2="1723.6" stroke="#2e6a20" stroke-width="2.1"/>
<line x1="508.5" y1="1661.0" x2="458.5" y2="1723.6" stroke="#2e6a20" stroke-width="1.8"/>
<line x1="514.4" y1="1661.0" x2="464.3" y2="1723.6" stroke="#2e6a20" stroke-width="1.7"/>
<line x1="521.7" y1="1661.0" x2="471.6" y2="1723.6" stroke="#2e6a20" stroke-width="2.3"/>
<line x1="526.2" y1="1661.0" x2="476.1" y2="1723.6" stroke="#2e6a20" stroke-width="1.8"/>
<line x1="533.9" y1="1661.0" x2="483.8" y2="1723.6" stroke="#2e6a20" stroke-width="2.1"/>
</g>
<clipPath id="leaf4"><polygon points="447.5,1688.2 519.8,1688.2 532.6,1715.5 511.7,1731.6 455.5,1731.6"/></clipPath>
<g clip-path="url(#leaf4)" opacity="0.38">
<line x1="404.2" y1="1688.2" x2="438.8" y2="1731.6" stroke="#2e6a20" stroke-width="1.6"/>
<line x1="408.8" y1="1688.2" x2="443.5" y2="1731.6" stroke="#2e6a20" stroke-width="1.8"/>
<line x1="414.2" y1="1688.2" x2="448.9" y2="1731.6" stroke="#2e6a20" stroke-width="2.2"/>
<line x1="423.0" y1="1688.2" x2="457.7" y2="1731.6" stroke="#2e6a20" stroke-width="2.1"/>
<line x1="428.6" y1="1688.2" x2="463.3" y2="1731.6" stroke="#2e6a20" stroke-width="1.8"/>
<line x1="436.3" y1="1688.2" x2="471.0" y2="1731.6" stroke="#2e6a20" stroke-width="1.5"/>
<line x1="444.3" y1="1688.2" x2="479.0" y2="1731.6" stroke="#2e6a20" stroke-width="1.3"/>
<line x1="453.2" y1="1688.2" x2="487.8" y2="1731.6" stroke="#2e6a20" stroke-width="1.9"/>
<line x1="461.0" y1="1688.2" x2="495.7" y2="1731.6" stroke="#2e6a20" stroke-width="1.9"/>
<line x1="469.3" y1="1688.2" x2="503.9" y2="1731.6" stroke="#2e6a20" stroke-width="1.7"/>
<line x1="473.7" y1="1688.2" x2="508.4" y2="1731.6" stroke="#2e6a20" stroke-width="1.4"/>
<line x1="481.5" y1="1688.2" x2="516.1" y2="1731.6" stroke="#2e6a20" stroke-width="2.4"/>
<line x1="486.6" y1="1688.2" x2="521.3" y2="1731.6" stroke="#2e6a20" stroke-width="1.8"/>
<line x1="494.5" y1="1688.2" x2="529.2" y2="1731.6" stroke="#2e6a20" stroke-width="1.6"/>
<line x1="499.7" y1="1688.2" x2="534.4" y2="1731.6" stroke="#2e6a20" stroke-width="2.1"/>
<line x1="504.3" y1="1688.2" x2="538.9" y2="1731.6" stroke="#2e6a20" stroke-width="1.6"/>
<line x1="511.2" y1="1688.2" x2="545.9" y2="1731.6" stroke="#2e6a20" stroke-width="1.8"/>
<line x1="520.0" y1="1688.2" x2="554.7" y2="1731.6" stroke="#2e6a20" stroke-width="1.8"/>
<line x1="526.0" y1="1688.2" x2="560.7" y2="1731.6" stroke="#2e6a20" stroke-width="1.4"/>
<line x1="534.1" y1="1688.2" x2="568.8" y2="1731.6" stroke="#2e6a20" stroke-width="1.3"/>
<line x1="538.2" y1="1688.2" x2="572.9" y2="1731.6" stroke="#2e6a20" stroke-width="1.6"/>
<line x1="546.2" y1="1688.2" x2="580.9" y2="1731.6" stroke="#2e6a20" stroke-width="1.5"/>
<line x1="552.5" y1="1688.2" x2="587.2" y2="1731.6" stroke="#2e6a20" stroke-width="1.3"/>
<line x1="557.9" y1="1688.2" x2="592.6" y2="1731.6" stroke="#2e6a20" stroke-width="2.3"/>
<line x1="566.2" y1="1688.2" x2="600.9" y2="1731.6" stroke="#2e6a20" stroke-width="1.3"/>
<line x1="575.0" y1="1688.2" x2="609.7" y2="1731.6" stroke="#2e6a20" stroke-width="1.8"/>
</g>
<clipPath id="leaf5"><polygon points="323.9,1731.6 367.2,1715.5 399.4,1723.6 399.4,1779.8 367.2,1831.1 327.1,1795.8"/></clipPath>
<g clip-path="url(#leaf5)" opacity="0.38">
<line x1="208.3" y1="1715.5" x2="115.8" y2="1831.1" stroke="#2e6a20" stroke-width="1.8"/>
<line x1="216.7" y1="1715.5" x2="124.2" y2="1831.1" stroke="#2e6a20" stroke-width="1.3"/>
<line x1="221.5" y1="1715.5" x2="129.0" y2="1831.1" stroke="#2e6a20" stroke-width="1.9"/>
<line x1="226.8" y1="1715.5" x2="134.4" y2="1831.1" stroke="#2e6a20" stroke-width="1.6"/>
<line x1="235.5" y1="1715.5" x2="143.0" y2="1831.1" stroke="#2e6a20" stroke-width="2.4"/>
<line x1="241.3" y1="1715.5" x2="148.8" y2="1831.1" stroke="#2e6a20" stroke-width="2.2"/>
<line x1="246.6" y1="1715.5" x2="154.1" y2="1831.1" stroke="#2e6a20" stroke-width="1.4"/>
<line x1="251.9" y1="1715.5" x2="159.5" y2="1831.1" stroke="#2e6a20" stroke-width="1.5"/>
<line x1="257.2" y1="1715.5" x2="164.7" y2="1831.1" stroke="#2e6a20" stroke-width="1.6"/>
<line x1="264.5" y1="1715.5" x2="172.0" y2="1831.1" stroke="#2e6a20" stroke-width="1.9"/>
<line x1="273.0" y1="1715.5" x2="180.5" y2="1831.1" stroke="#2e6a20" stroke-width="2.1"/>
<line x1="281.3" y1="1715.5" x2="188.8" y2="1831.1" stroke="#2e6a20" stroke-width="1.4"/>
<line x1="289.3" y1="1715.5" x2="196.8" y2="1831.1" stroke="#2e6a20" stroke-width="1.2"/>
<line x1="296.8" y1="1715.5" x2="204.4" y2="1831.1" stroke="#2e6a20" stroke-width="2.1"/>
<line x1="304.4" y1="1715.5" x2="211.9" y2="1831.1" stroke="#2e6a20" stroke-width="2.0"/>
<line x1="309.4" y1="1715.5" x2="216.9" y2="1831.1" stroke="#2e6a20" stroke-width="1.7"/>
<line x1="314.0" y1="1715.5" x2="221.6" y2="1831.1" stroke="#2e6a20" stroke-width="1.6"/>
<line x1="318.6" y1="1715.5" x2="226.1" y2="1831.1" stroke="#2e6a20" stroke-width="1.6"/>
<line x1="324.1" y1="1715.5" x2="231.6" y2="1831.1" stroke="#2e6a20" stroke-width="2.0"/>
<line x1="330.4" y1="1715.5" x2="238.0" y2="1831.1" stroke="#2e6a20" stroke-width="1.5"/>
<line x1="335.8" y1="1715.5" x2="243.3" y2="1831.1" stroke="#2e6a20" stroke-width="1.7"/>
<line x1="340.4" y1="1715.5" x2="248.0" y2="1831.1" stroke="#2e6a20" stroke-width="2.1"/>
<line x1="345.0" y1="1715.5" x2="252.5" y2="1831.1" stroke="#2e6a20" stroke-width="1.9"/>
<line x1="349.7" y1="1715.5" x2="257.2" y2="1831.1" stroke="#2e6a20" stroke-width="1.7"/>
<line x1="356.0" y1="1715.5" x2="263.5" y2="1831.1" stroke="#2e6a20" stroke-width="1.9"/>
<line x1="361.2" y1="1715.5" x2="268.7" y2="1831.1" stroke="#2e6a20" stroke-width="2.2"/>
<line x1="365.9" y1="1715.5" x2="273.4" y2="1831.1" stroke="#2e6a20" stroke-width="1.8"/>
<line x1="370.3" y1="1715.5" x2="277.9" y2="1831.1" stroke="#2e6a20" stroke-width="1.6"/>
<line x1="378.0" y1="1715.5" x2="285.5" y2="1831.1" stroke="#2e6a20" stroke-width="1.5"/>
<line x1="385.6" y1="1715.5" x2="293.1" y2="1831.1" stroke="#2e6a20" stroke-width="1.7"/>
<line x1="393.1" y1="1715.5" x2="300.7" y2="1831.1" stroke="#2e6a20" stroke-width="2.4"/>
<line x1="398.1" y1="1715.5" x2="305.7" y2="1831.1" stroke="#2e6a20" stroke-width="1.2"/>
<line x1="403.2" y1="1715.5" x2="310.7" y2="1831.1" stroke="#2e6a20" stroke-width="2.3"/>
<line x1="407.7" y1="1715.5" x2="315.2" y2="1831.1" stroke="#2e6a20" stroke-width="1.9"/>
<line x1="414.3" y1="1715.5" x2="321.9" y2="1831.1" stroke="#2e6a20" stroke-width="1.9"/>
<line x1="423.0" y1="1715.5" x2="330.5" y2="1831.1" stroke="#2e6a20" stroke-width="1.9"/>
<line x1="429.5" y1="1715.5" x2="337.1" y2="1831.1" stroke="#2e6a20" stroke-width="1.8"/>
<line x1="438.4" y1="1715.5" x2="346.0" y2="1831.1" stroke="#2e6a20" stroke-width="1.4"/>
<line x1="443.9" y1="1715.5" x2="351.5" y2="1831.1" stroke="#2e6a20" stroke-width="2.0"/>
<line x1="452.4" y1="1715.5" x2="360.0" y2="1831.1" stroke="#2e6a20" stroke-width="1.8"/>
<line x1="456.8" y1="1715.5" x2="364.3" y2="1831.1" stroke="#2e6a20" stroke-width="1.7"/>
<line x1="464.8" y1="1715.5" x2="372.3" y2="1831.1" stroke="#2e6a20" stroke-width="2.3"/>
<line x1="470.8" y1="1715.5" x2="378.3" y2="1831.1" stroke="#2e6a20" stroke-width="1.4"/>
<line x1="477.4" y1="1715.5" x2="384.9" y2="1831.1" stroke="#2e6a20" stroke-width="2.1"/>
<line x1="483.7" y1="1715.5" x2="391.2" y2="1831.1" stroke="#2e6a20" stroke-width="1.2"/>
<line x1="491.9" y1="1715.5" x2="399.4" y2="1831.1" stroke="#2e6a20" stroke-width="1.7"/>
<line x1="497.2" y1="1715.5" x2="404.7" y2="1831.1" stroke="#2e6a20" stroke-width="2.2"/>
<line x1="505.6" y1="1715.5" x2="413.1" y2="1831.1" stroke="#2e6a20" stroke-width="1.2"/>
<line x1="513.8" y1="1715.5" x2="421.3" y2="1831.1" stroke="#2e6a20" stroke-width="1.5"/>
</g>
<clipPath id="leaf6"><polygon points="439.5,1699.5 503.7,1691.5 519.8,1763.7 479.6,1787.8 447.5,1763.7"/></clipPath>
<g clip-path="url(#leaf6)" opacity="0.38">
<line x1="343.2" y1="1691.5" x2="420.2" y2="1787.8" stroke="#2e6a20" stroke-width="2.4"/>
<line x1="351.3" y1="1691.5" x2="428.3" y2="1787.8" stroke="#2e6a20" stroke-width="1.3"/>
<line x1="359.1" y1="1691.5" x2="436.1" y2="1787.8" stroke="#2e6a20" stroke-width="1.5"/>
<line x1="365.2" y1="1691.5" x2="442.3" y2="1787.8" stroke="#2e6a20" stroke-width="1.3"/>
<line x1="369.4" y1="1691.5" x2="446.4" y2="1787.8" stroke="#2e6a20" stroke-width="1.7"/>
<line x1="377.8" y1="1691.5" x2="454.8" y2="1787.8" stroke="#2e6a20" stroke-width="1.5"/>
<line x1="381.9" y1="1691.5" x2="459.0" y2="1787.8" stroke="#2e6a20" stroke-width="2.0"/>
<line x1="387.3" y1="1691.5" x2="464.4" y2="1787.8" stroke="#2e6a20" stroke-width="1.3"/>
<line x1="392.3" y1="1691.5" x2="469.4" y2="1787.8" stroke="#2e6a20" stroke-width="2.3"/>
<line x1="400.8" y1="1691.5" x2="477.9" y2="1787.8" stroke="#2e6a20" stroke-width="1.8"/>
<line x1="407.2" y1="1691.5" x2="484.3" y2="1787.8" stroke="#2e6a20" stroke-width="2.0"/>
<line x1="412.9" y1="1691.5" x2="490.0" y2="1787.8" stroke="#2e6a20" stroke-width="1.7"/>
<line x1="420.8" y1="1691.5" x2="497.9" y2="1787.8" stroke="#2e6a20" stroke-width="2.0"/>
<line x1="429.3" y1="1691.5" x2="506.3" y2="1787.8" stroke="#2e6a20" stroke-width="1.9"/>
<line x1="437.4" y1="1691.5" x2="514.4" y2="1787.8" stroke="#2e6a20" stroke-width="2.2"/>
<line x1="442.6" y1="1691.5" x2="519.6" y2="1787.8" stroke="#2e6a20" stroke-width="2.0"/>
<line x1="449.3" y1="1691.5" x2="526.4" y2="1787.8" stroke="#2e6a20" stroke-width="1.4"/>
<line x1="454.4" y1="1691.5" x2="531.5" y2="1787.8" stroke="#2e6a20" stroke-width="1.7"/>
<line x1="463.2" y1="1691.5" x2="540.2" y2="1787.8" stroke="#2e6a20" stroke-width="1.2"/>
<line x1="472.0" y1="1691.5" x2="549.1" y2="1787.8" stroke="#2e6a20" stroke-width="2.3"/>
<line x1="478.0" y1="1691.5" x2="555.1" y2="1787.8" stroke="#2e6a20" stroke-width="1.9"/>
<line x1="483.5" y1="1691.5" x2="560.6" y2="1787.8" stroke="#2e6a20" stroke-width="1.3"/>
<line x1="487.6" y1="1691.5" x2="564.7" y2="1787.8" stroke="#2e6a20" stroke-width="2.1"/>
<line x1="492.8" y1="1691.5" x2="569.8" y2="1787.8" stroke="#2e6a20" stroke-width="1.8"/>
<line x1="498.2" y1="1691.5" x2="575.3" y2="1787.8" stroke="#2e6a20" stroke-width="1.2"/>
<line x1="504.2" y1="1691.5" x2="581.2" y2="1787.8" stroke="#2e6a20" stroke-width="1.8"/>
<line x1="513.0" y1="1691.5" x2="590.0" y2="1787.8" stroke="#2e6a20" stroke-width="1.8"/>
<line x1="521.8" y1="1691.5" x2="598.9" y2="1787.8" stroke="#2e6a20" stroke-width="1.7"/>
<line x1="530.1" y1="1691.5" x2="607.1" y2="1787.8" stroke="#2e6a20" stroke-width="1.8"/>
<line x1="534.2" y1="1691.5" x2="611.2" y2="1787.8" stroke="#2e6a20" stroke-width="2.3"/>
<line x1="541.6" y1="1691.5" x2="618.7" y2="1787.8" stroke="#2e6a20" stroke-width="1.9"/>
<line x1="547.8" y1="1691.5" x2="624.8" y2="1787.8" stroke="#2e6a20" stroke-width="1.2"/>
<line x1="556.1" y1="1691.5" x2="633.2" y2="1787.8" stroke="#2e6a20" stroke-width="1.3"/>
<line x1="560.7" y1="1691.5" x2="637.7" y2="1787.8" stroke="#2e6a20" stroke-width="2.1"/>
<line x1="566.2" y1="1691.5" x2="643.2" y2="1787.8" stroke="#2e6a20" stroke-width="1.6"/>
<line x1="571.5" y1="1691.5" x2="648.6" y2="1787.8" stroke="#2e6a20" stroke-width="1.8"/>
<line x1="579.5" y1="1691.5" x2="656.5" y2="1787.8" stroke="#2e6a20" stroke-width="1.6"/>
<line x1="584.1" y1="1691.5" x2="661.2" y2="1787.8" stroke="#2e6a20" stroke-width="1.9"/>
<line x1="589.9" y1="1691.5" x2="666.9" y2="1787.8" stroke="#2e6a20" stroke-width="2.3"/>
<line x1="594.2" y1="1691.5" x2="671.3" y2="1787.8" stroke="#2e6a20" stroke-width="1.7"/>
<line x1="600.3" y1="1691.5" x2="677.4" y2="1787.8" stroke="#2e6a20" stroke-width="2.2"/>
<line x1="605.3" y1="1691.5" x2="682.3" y2="1787.8" stroke="#2e6a20" stroke-width="2.1"/>
<line x1="612.0" y1="1691.5" x2="689.1" y2="1787.8" stroke="#2e6a20" stroke-width="2.2"/>
</g>
<clipPath id="leaf7"><polygon points="495.7,1723.6 527.8,1731.6 551.9,1763.7 555.1,1831.1 495.7,1831.1 487.6,1779.8"/></clipPath>
<g clip-path="url(#leaf7)" opacity="0.38">
<line x1="380.1" y1="1723.6" x2="294.0" y2="1831.1" stroke="#2e6a20" stroke-width="1.4"/>
<line x1="387.9" y1="1723.6" x2="301.8" y2="1831.1" stroke="#2e6a20" stroke-width="1.5"/>
<line x1="394.7" y1="1723.6" x2="308.6" y2="1831.1" stroke="#2e6a20" stroke-width="1.4"/>
<line x1="403.4" y1="1723.6" x2="317.3" y2="1831.1" stroke="#2e6a20" stroke-width="1.7"/>
<line x1="410.7" y1="1723.6" x2="324.6" y2="1831.1" stroke="#2e6a20" stroke-width="1.8"/>
<line x1="418.1" y1="1723.6" x2="332.1" y2="1831.1" stroke="#2e6a20" stroke-width="1.4"/>
<line x1="426.0" y1="1723.6" x2="339.9" y2="1831.1" stroke="#2e6a20" stroke-width="1.7"/>
<line x1="433.2" y1="1723.6" x2="347.1" y2="1831.1" stroke="#2e6a20" stroke-width="2.3"/>
<line x1="440.5" y1="1723.6" x2="354.4" y2="1831.1" stroke="#2e6a20" stroke-width="2.1"/>
<line x1="446.9" y1="1723.6" x2="360.9" y2="1831.1" stroke="#2e6a20" stroke-width="1.8"/>
<line x1="455.5" y1="1723.6" x2="369.4" y2="1831.1" stroke="#2e6a20" stroke-width="1.8"/>
<line x1="459.7" y1="1723.6" x2="373.6" y2="1831.1" stroke="#2e6a20" stroke-width="1.6"/>
<line x1="466.1" y1="1723.6" x2="380.0" y2="1831.1" stroke="#2e6a20" stroke-width="1.2"/>
<line x1="470.6" y1="1723.6" x2="384.5" y2="1831.1" stroke="#2e6a20" stroke-width="1.9"/>
<line x1="475.4" y1="1723.6" x2="389.4" y2="1831.1" stroke="#2e6a20" stroke-width="2.3"/>
<line x1="480.0" y1="1723.6" x2="394.0" y2="1831.1" stroke="#2e6a20" stroke-width="1.6"/>
<line x1="484.5" y1="1723.6" x2="398.4" y2="1831.1" stroke="#2e6a20" stroke-width="1.7"/>
<line x1="488.5" y1="1723.6" x2="402.5" y2="1831.1" stroke="#2e6a20" stroke-width="1.9"/>
<line x1="493.2" y1="1723.6" x2="407.2" y2="1831.1" stroke="#2e6a20" stroke-width="1.3"/>
<line x1="499.0" y1="1723.6" x2="412.9" y2="1831.1" stroke="#2e6a20" stroke-width="1.3"/>
<line x1="504.3" y1="1723.6" x2="418.2" y2="1831.1" stroke="#2e6a20" stroke-width="2.3"/>
<line x1="509.8" y1="1723.6" x2="423.8" y2="1831.1" stroke="#2e6a20" stroke-width="2.0"/>
<line x1="517.1" y1="1723.6" x2="431.1" y2="1831.1" stroke="#2e6a20" stroke-width="2.0"/>
<line x1="523.4" y1="1723.6" x2="437.4" y2="1831.1" stroke="#2e6a20" stroke-width="1.7"/>
<line x1="530.7" y1="1723.6" x2="444.6" y2="1831.1" stroke="#2e6a20" stroke-width="1.4"/>
<line x1="534.9" y1="1723.6" x2="448.8" y2="1831.1" stroke="#2e6a20" stroke-width="1.3"/>
<line x1="539.0" y1="1723.6" x2="453.0" y2="1831.1" stroke="#2e6a20" stroke-width="1.8"/>
<line x1="543.5" y1="1723.6" x2="457.4" y2="1831.1" stroke="#2e6a20" stroke-width="1.7"/>
<line x1="550.3" y1="1723.6" x2="464.3" y2="1831.1" stroke="#2e6a20" stroke-width="1.5"/>
<line x1="557.7" y1="1723.6" x2="471.6" y2="1831.1" stroke="#2e6a20" stroke-width="1.8"/>
<line x1="563.3" y1="1723.6" x2="477.2" y2="1831.1" stroke="#2e6a20" stroke-width="1.8"/>
<line x1="567.5" y1="1723.6" x2="481.4" y2="1831.1" stroke="#2e6a20" stroke-width="1.9"/>
<line x1="572.3" y1="1723.6" x2="486.3" y2="1831.1" stroke="#2e6a20" stroke-width="2.3"/>
<line x1="579.1" y1="1723.6" x2="493.0" y2="1831.1" stroke="#2e6a20" stroke-width="1.8"/>
<line x1="584.2" y1="1723.6" x2="498.1" y2="1831.1" stroke="#2e6a20" stroke-width="1.3"/>
<line x1="588.9" y1="1723.6" x2="502.9" y2="1831.1" stroke="#2e6a20" stroke-width="1.6"/>
<line x1="593.8" y1="1723.6" x2="507.8" y2="1831.1" stroke="#2e6a20" stroke-width="2.3"/>
<line x1="599.3" y1="1723.6" x2="513.3" y2="1831.1" stroke="#2e6a20" stroke-width="1.7"/>
<line x1="605.2" y1="1723.6" x2="519.2" y2="1831.1" stroke="#2e6a20" stroke-width="1.6"/>
<line x1="610.1" y1="1723.6" x2="524.1" y2="1831.1" stroke="#2e6a20" stroke-width="2.0"/>
<line x1="618.3" y1="1723.6" x2="532.2" y2="1831.1" stroke="#2e6a20" stroke-width="1.9"/>
<line x1="623.4" y1="1723.6" x2="537.4" y2="1831.1" stroke="#2e6a20" stroke-width="2.1"/>
<line x1="627.6" y1="1723.6" x2="541.6" y2="1831.1" stroke="#2e6a20" stroke-width="2.0"/>
<line x1="633.8" y1="1723.6" x2="547.8" y2="1831.1" stroke="#2e6a20" stroke-width="1.4"/>
<line x1="642.7" y1="1723.6" x2="556.6" y2="1831.1" stroke="#2e6a20" stroke-width="1.3"/>
<line x1="648.3" y1="1723.6" x2="562.2" y2="1831.1" stroke="#2e6a20" stroke-width="2.0"/>
<line x1="652.5" y1="1723.6" x2="566.5" y2="1831.1" stroke="#2e6a20" stroke-width="2.1"/>
<line x1="656.5" y1="1723.6" x2="570.5" y2="1831.1" stroke="#2e6a20" stroke-width="1.4"/>
</g>
<clipPath id="leaf8"><polygon points="575.9,1699.5 594.4,1699.5 594.4,1831.1 575.9,1811.9"/></clipPath>
<g clip-path="url(#leaf8)" opacity="0.38">
<line x1="444.3" y1="1699.5" x2="549.6" y2="1831.1" stroke="#2e6a20" stroke-width="1.3"/>
<line x1="450.7" y1="1699.5" x2="556.1" y2="1831.1" stroke="#2e6a20" stroke-width="2.4"/>
<line x1="457.9" y1="1699.5" x2="563.3" y2="1831.1" stroke="#2e6a20" stroke-width="2.3"/>
<line x1="466.9" y1="1699.5" x2="572.2" y2="1831.1" stroke="#2e6a20" stroke-width="2.3"/>
<line x1="471.4" y1="1699.5" x2="576.7" y2="1831.1" stroke="#2e6a20" stroke-width="2.1"/>
<line x1="475.8" y1="1699.5" x2="581.1" y2="1831.1" stroke="#2e6a20" stroke-width="1.5"/>
<line x1="484.7" y1="1699.5" x2="590.0" y2="1831.1" stroke="#2e6a20" stroke-width="1.9"/>
<line x1="489.4" y1="1699.5" x2="594.8" y2="1831.1" stroke="#2e6a20" stroke-width="1.2"/>
<line x1="495.8" y1="1699.5" x2="601.1" y2="1831.1" stroke="#2e6a20" stroke-width="1.8"/>
<line x1="503.1" y1="1699.5" x2="608.4" y2="1831.1" stroke="#2e6a20" stroke-width="2.3"/>
<line x1="509.5" y1="1699.5" x2="614.8" y2="1831.1" stroke="#2e6a20" stroke-width="2.3"/>
<line x1="515.8" y1="1699.5" x2="621.1" y2="1831.1" stroke="#2e6a20" stroke-width="2.3"/>
<line x1="524.4" y1="1699.5" x2="629.7" y2="1831.1" stroke="#2e6a20" stroke-width="1.8"/>
<line x1="530.2" y1="1699.5" x2="635.6" y2="1831.1" stroke="#2e6a20" stroke-width="1.9"/>
<line x1="536.2" y1="1699.5" x2="641.6" y2="1831.1" stroke="#2e6a20" stroke-width="2.4"/>
<line x1="542.4" y1="1699.5" x2="647.8" y2="1831.1" stroke="#2e6a20" stroke-width="2.0"/>
<line x1="550.9" y1="1699.5" x2="656.2" y2="1831.1" stroke="#2e6a20" stroke-width="1.8"/>
<line x1="559.4" y1="1699.5" x2="664.7" y2="1831.1" stroke="#2e6a20" stroke-width="1.7"/>
<line x1="566.5" y1="1699.5" x2="671.8" y2="1831.1" stroke="#2e6a20" stroke-width="2.3"/>
<line x1="573.7" y1="1699.5" x2="679.0" y2="1831.1" stroke="#2e6a20" stroke-width="1.9"/>
<line x1="579.3" y1="1699.5" x2="684.6" y2="1831.1" stroke="#2e6a20" stroke-width="1.5"/>
<line x1="585.6" y1="1699.5" x2="690.9" y2="1831.1" stroke="#2e6a20" stroke-width="1.8"/>
<line x1="592.2" y1="1699.5" x2="697.5" y2="1831.1" stroke="#2e6a20" stroke-width="2.3"/>
<line x1="599.8" y1="1699.5" x2="705.2" y2="1831.1" stroke="#2e6a20" stroke-width="1.3"/>
<line x1="607.0" y1="1699.5" x2="712.3" y2="1831.1" stroke="#2e6a20" stroke-width="1.8"/>
<line x1="612.1" y1="1699.5" x2="717.4" y2="1831.1" stroke="#2e6a20" stroke-width="1.5"/>
<line x1="618.3" y1="1699.5" x2="723.6" y2="1831.1" stroke="#2e6a20" stroke-width="2.0"/>
<line x1="625.4" y1="1699.5" x2="730.7" y2="1831.1" stroke="#2e6a20" stroke-width="1.8"/>
<line x1="629.4" y1="1699.5" x2="734.8" y2="1831.1" stroke="#2e6a20" stroke-width="2.1"/>
<line x1="634.1" y1="1699.5" x2="739.4" y2="1831.1" stroke="#2e6a20" stroke-width="2.2"/>
<line x1="642.8" y1="1699.5" x2="748.1" y2="1831.1" stroke="#2e6a20" stroke-width="1.5"/>
<line x1="651.1" y1="1699.5" x2="756.4" y2="1831.1" stroke="#2e6a20" stroke-width="2.3"/>
<line x1="657.2" y1="1699.5" x2="762.5" y2="1831.1" stroke="#2e6a20" stroke-width="1.6"/>
<line x1="664.3" y1="1699.5" x2="769.6" y2="1831.1" stroke="#2e6a20" stroke-width="2.3"/>
<line x1="672.3" y1="1699.5" x2="777.6" y2="1831.1" stroke="#2e6a20" stroke-width="1.7"/>
<line x1="678.5" y1="1699.5" x2="783.9" y2="1831.1" stroke="#2e6a20" stroke-width="1.7"/>
<line x1="685.8" y1="1699.5" x2="791.1" y2="1831.1" stroke="#2e6a20" stroke-width="1.9"/>
<line x1="689.9" y1="1699.5" x2="795.2" y2="1831.1" stroke="#2e6a20" stroke-width="2.0"/>
<line x1="697.8" y1="1699.5" x2="803.2" y2="1831.1" stroke="#2e6a20" stroke-width="1.8"/>
<line x1="704.6" y1="1699.5" x2="809.9" y2="1831.1" stroke="#2e6a20" stroke-width="2.3"/>
<line x1="710.1" y1="1699.5" x2="815.4" y2="1831.1" stroke="#2e6a20" stroke-width="1.5"/>
<line x1="715.8" y1="1699.5" x2="821.2" y2="1831.1" stroke="#2e6a20" stroke-width="1.8"/>
<line x1="722.0" y1="1699.5" x2="827.3" y2="1831.1" stroke="#2e6a20" stroke-width="1.3"/>
</g>
<g filter="url(#blur2)">
<polygon points="434.7,1791.0 503.7,1787.8 535.8,1831.1 434.7,1831.1" fill="#38aee0" stroke="none" stroke-width="0"/>
<polygon points="303.0,1795.8 359.2,1831.1 303.0,1831.1" fill="#4a78a8" stroke="none" stroke-width="0"/>
</g>
<polyline points="303.0,1688.2 439.5,1681.8 527.8,1677.0 594.4,1673.8" fill="none" stroke="#9a9aa8" stroke-width="3" stroke-linejoin="round" stroke-linecap="round"/>
<polygon points="391.3,1603.2 423.4,1591.9 439.5,1616.0 463.6,1699.5 439.5,1707.5" fill="#dfe8e8" stroke="none" stroke-width="0" opacity="0.35"/>
<polygon points="327.1,1731.6 359.2,1691.5 391.3,1699.5 367.2,1747.6" fill="#e8f0e8" stroke="none" stroke-width="0" opacity="0.35"/>
<polygon points="479.6,1715.5 527.8,1675.4 543.8,1683.4 495.7,1779.8" fill="#e8f0e8" stroke="none" stroke-width="0" opacity="0.3"/>
</g>
<clipPath id="clipl"><rect x="623.8" y="1563.8" width="282.6" height="268.2"/></clipPath>
<g clip-path="url(#clipl)">
<rect x="623.8" y="1563.8" width="282.6" height="268.2" fill="#cad7de" stroke="none" stroke-width="0"/>
<path d="M668.0,1831.1 L663.2,1763.7 L647.1,1699.5 L640.7,1635.3 L647.1,1608.0 L671.2,1579.1 L684.0,1567.8 L719.4,1567.8 L727.4,1587.1 L737.0,1575.9 L775.5,1577.5 L783.6,1606.4 L794.8,1587.1 L831.7,1590.3 L839.8,1616.0 L847.8,1600.0 L875.1,1598.3 L891.1,1619.2 L894.3,1667.4 L887.9,1715.5 L871.9,1763.7 L855.8,1831.1 Z" fill="url(#gskin)" filter="url(#blur2)"/>
</g>
<text x="693.7" y="1660.2" font-size="40" fill="#1e1c1c" text-anchor="start" font-weight="bold">SRCN</text>
<rect x="701.7" y="1673.8" width="99.5" height="97.9" fill="#d8b4b0" fill-opacity="0.3" stroke="#e0505a" stroke-width="3" stroke-dasharray="7 5"/>
<rect x="1008" y="1052" width="399.5" height="292" fill="none" stroke="#222" stroke-width="4" stroke-dasharray="3.5 3"/>
<clipPath id="clipm1"><rect x="1011" y="1056" width="185" height="283"/></clipPath>
<g clip-path="url(#clipm1)">
<rect x="1011.0" y="1056.0" width="185.0" height="283.0" fill="#c6c4ca" stroke="none" stroke-width="0"/>
<g filter="url(#blur2)">
<polygon points="1017.3,1058.2 1141.5,1058.2 1149.7,1082.9 1139.8,1132.2 1120.1,1165.1 1095.4,1189.8 1074.1,1179.9 1017.3,1206.2" fill="#d0ced4" stroke="none" stroke-width="0"/>
<polygon points="1014.9,1074.7 1037.9,1124.0 1059.3,1165.1 1074.1,1179.9 1046.1,1194.7 1014.9,1207.8" fill="#bcc6cc" stroke="none" stroke-width="0"/>
<polygon points="1141.5,1058.2 1195.7,1058.2 1194.1,1115.8 1177.6,1181.5 1161.2,1247.3 1148.0,1288.4 1130.0,1321.3 1103.7,1329.5 1070.8,1322.9 1037.9,1306.5 1019.8,1280.2 1017.3,1207.8 1046.1,1194.7 1074.1,1179.9 1082.3,1198.0 1090.5,1214.4 1097.1,1189.8 1120.1,1165.1 1144.8,1124.0 1153.0,1082.9" fill="#a8725f" stroke="none" stroke-width="0"/>
<polygon points="1019.8,1214.4 1046.1,1198.0 1074.1,1181.5 1083.9,1206.2 1087.2,1239.1 1074.1,1255.5 1037.9,1255.5 1019.8,1247.3" fill="#b8826e" stroke="none" stroke-width="0"/>
<polygon points="1149.7,1074.7 1185.9,1066.4 1185.9,1132.2 1169.4,1181.5 1153.0,1214.4 1136.5,1198.0 1144.8,1132.2" fill="#9a6656" stroke="none" stroke-width="0"/>
</g>
</g>
<line x1="1011.5" y1="1056.0" x2="1011.5" y2="1339.0" stroke="#e07a40" stroke-width="3"/>
<line x1="1011.0" y1="1056.5" x2="1196.0" y2="1056.5" stroke="#e07a40" stroke-width="2.5"/>
<line x1="1011.0" y1="1338.5" x2="1196.0" y2="1338.5" stroke="#e07a40" stroke-width="2.5"/>
<clipPath id="clipm2"><rect x="1196" y="1057" width="205" height="284"/></clipPath>
<g clip-path="url(#clipm2)">
<rect x="1196.0" y="1057.0" width="205.0" height="284.0" fill="#8aa0b0" stroke="none" stroke-width="0"/>
<g filter="url(#blur2)">
<polygon points="1196.0,1215.1 1266.5,1257.6 1292.0,1300.1 1266.5,1342.6 1196.0,1342.6" fill="#7890a2" stroke="none" stroke-width="0"/>
<polygon points="1224.0,1104.5 1266.5,1096.0 1275.0,1121.5 1317.6,1130.0 1343.1,1164.0 1339.7,1198.1 1368.6,1249.1 1360.1,1266.1 1292.0,1279.7 1266.5,1232.1 1241.0,1198.1 1232.5,1147.0" fill="#8e6e5e" stroke="none" stroke-width="0"/>
<polygon points="1215.5,1057.8 1400.9,1057.8 1400.9,1240.6 1368.6,1240.6 1351.6,1198.1 1343.1,1155.5 1317.6,1126.6 1266.5,1121.5 1224.0,1124.9 1215.5,1096.0" fill="#0e0b0b" stroke="none" stroke-width="0"/>
<polygon points="1205.3,1160.6 1241.0,1155.5 1244.4,1198.1 1271.6,1216.8 1264.8,1257.6 1232.5,1240.6 1207.0,1215.1" fill="#a8c2dc" stroke="none" stroke-width="0"/>
<polygon points="1266.5,1342.6 1292.0,1300.1 1368.6,1266.1 1400.9,1240.6 1400.9,1342.6" fill="#d8e2ec" stroke="none" stroke-width="0"/>
<polygon points="1319.3,1133.4 1339.7,1133.4 1343.1,1181.1 1326.1,1189.6 1315.9,1164.0" fill="#9a7868" stroke="none" stroke-width="0"/>
</g>
<polyline points="1241.0,1155.5 1315.9,1133.4" fill="none" stroke="#c8c0c0" stroke-width="2" stroke-linejoin="round" stroke-linecap="round"/>
<polyline points="1271.6,1216.8 1315.9,1191.3" fill="none" stroke="#c8c0c0" stroke-width="2" stroke-linejoin="round" stroke-linecap="round"/>
<polyline points="1215.5,1124.9 1309.0,1121.5" fill="none" stroke="#111" stroke-width="3" stroke-linejoin="round" stroke-linecap="round"/>
</g>
<line x1="1401.0" y1="1057.0" x2="1401.0" y2="1341.0" stroke="#222" stroke-width="0"/>
<polygon points="1148.3,1293.5 1083.8,1239.1 1086.4,1236.1 1071.5,1232.0 1078.0,1246.0 1080.6,1242.9 1145.1,1297.3" fill="#e32a30" stroke="none" stroke-width="0"/>
<polygon points="1225.3,1306.9 1260.3,1285.9 1262.3,1289.4 1271.0,1276.6 1255.7,1278.2 1257.7,1281.7 1222.7,1302.7" fill="#e32a30" stroke="none" stroke-width="0"/>
<text x="1129.0" y="1328.3" font-size="40" fill="#e2262c" text-anchor="start" font-weight="bold">Sensor</text>
<path d="M 1553.5,1253.8 C 1592.2,1249.5 1635.3,1245.1 1678.3,1253.8 C 1710.6,1264.5 1732.2,1286.0 1751.5,1318.3 C 1699.9,1314.0 1635.3,1286.0 1570.7,1266.7 Z" fill="#9a9aa2" opacity="0.6" filter="url(#blur4)"/>
<path d="M 1635.3,1223.6 C 1656.8,1210.7 1699.9,1202.1 1742.9,1199.9 L 1801.1,1199.9 L 1801.1,1210.7 C 1794.6,1232.2 1783.8,1264.5 1755.8,1317.3 C 1747.2,1292.5 1725.7,1266.7 1699.9,1253.8 C 1678.3,1243.0 1652.5,1238.7 1631.0,1238.3 Z" fill="url(#ggray)"/>
<path d="M 1631.0,1238.3 C 1652.5,1238.7 1678.3,1243.0 1699.9,1253.8 C 1725.7,1266.7 1747.2,1292.5 1755.8,1317.3" fill="none" stroke="#3a3a44" stroke-width="2"/>
<path d="M 1538.4,1239.8 C 1553.5,1236.5 1570.7,1230.1 1603.0,1215.0 C 1624.5,1199.9 1635.3,1184.9 1646.0,1176.3 C 1661.1,1163.3 1678.3,1154.7 1699.9,1151.5 C 1732.2,1148.3 1764.5,1150.4 1786.0,1158.0 C 1798.9,1165.5 1807.5,1176.3 1807.5,1189.2 L 1801.1,1210.7 L 1721.4,1210.7 C 1678.3,1213.9 1652.5,1221.5 1635.3,1230.1 C 1620.2,1240.8 1609.5,1249.5 1587.9,1254.8 C 1570.7,1255.9 1553.5,1251.6 1540.6,1245.1 Z" fill="url(#gnblue)"/>
<path d="M 1437.2,1176.3 C 1452.3,1156.9 1473.8,1131.0 1506.1,1113.8 C 1527.6,1103.1 1553.5,1098.8 1575.0,1100.9 C 1592.2,1103.1 1603.0,1116.0 1618.1,1131.0 C 1626.7,1139.7 1635.3,1142.9 1646.0,1139.7 C 1667.6,1131.0 1689.1,1123.5 1710.6,1124.2 C 1738.6,1124.6 1764.5,1135.3 1781.7,1148.3 C 1790.3,1154.7 1798.9,1163.3 1805.4,1176.3 L 1786.0,1158.0 C 1764.5,1150.4 1732.2,1148.3 1699.9,1151.5 C 1678.3,1154.7 1661.1,1163.3 1646.0,1176.3 C 1635.3,1184.9 1624.5,1199.9 1603.0,1215.0 C 1570.7,1230.1 1553.5,1236.5 1538.4,1239.8 C 1516.9,1223.6 1495.3,1197.8 1473.8,1187.0 C 1458.8,1180.6 1445.8,1177.3 1437.2,1176.3 Z" fill="url(#gcream)" filter="url(#blur1)"/>
<path d="M 1437.2,1176.3 C 1452.3,1178.4 1467.4,1182.7 1476.0,1189.2 C 1495.3,1202.1 1516.9,1223.6 1538.4,1243.0 C 1553.5,1251.6 1570.7,1255.9 1587.9,1254.8" fill="none" stroke="#283050" stroke-width="3.5"/>
<text x="1495.3" y="1154.7" font-size="31" fill="#231f20" text-anchor="start" font-weight="bold">Silk film</text>
<text x="1500.7" y="1192.4" font-size="31" fill="#231f20" text-anchor="start" font-weight="bold">(80 µm)</text>
<circle cx="1753.7" cy="1163.3" r="7.5" fill="#111" stroke="none" stroke-width="0"/>
<line x1="1753.7" y1="1163.3" x2="1840.1" y2="1109.5" stroke="#111" stroke-width="2.8"/>
<polygon points="1845.2,1106.3 1839.1,1115.4 1834.3,1107.8" fill="#111" stroke="none" stroke-width="0"/>
<circle cx="1748.3" cy="1192.4" r="7.5" fill="#111" stroke="none" stroke-width="0"/>
<line x1="1748.3" y1="1192.4" x2="1847.0" y2="1162.9" stroke="#111" stroke-width="2.8"/>
<polygon points="1852.7,1161.2 1844.4,1168.4 1841.9,1159.7" fill="#111" stroke="none" stroke-width="0"/>
<circle cx="1738.6" cy="1224.7" r="7.5" fill="#111" stroke="none" stroke-width="0"/>
<line x1="1738.6" y1="1224.7" x2="1839.2" y2="1231.8" stroke="#111" stroke-width="2.8"/>
<polygon points="1845.2,1232.2 1834.9,1236.0 1835.5,1227.0" fill="#111" stroke="none" stroke-width="0"/>
<circle cx="1734.3" cy="1261.3" r="7.5" fill="#111" stroke="none" stroke-width="0"/>
<line x1="1734.3" y1="1261.3" x2="1834.3" y2="1305.2" stroke="#111" stroke-width="2.8"/>
<polygon points="1839.8,1307.6 1828.8,1307.7 1832.5,1299.4" fill="#111" stroke="none" stroke-width="0"/>
<text x="1858.5" y="1083.9" font-size="31" fill="#231f20" text-anchor="start" font-weight="bold">Metal electrode</text>
<text x="1858.5" y="1120.8" font-size="31" fill="#231f20" text-anchor="start" font-weight="bold">(600 nm Ag NFs)</text>
<text x="1858.5" y="1157.7" font-size="31" fill="#231f20" text-anchor="start" font-weight="bold">Eco-Flex</text>
<text x="1858.5" y="1194.6" font-size="31" fill="#231f20" text-anchor="start" font-weight="bold">(1-1.5 mm)</text>
<text x="1858.5" y="1231.5" font-size="31" fill="#231f20" text-anchor="start" font-weight="bold">Metal electrode</text>
<text x="1858.5" y="1268.4" font-size="31" fill="#231f20" text-anchor="start" font-weight="bold">(600 nm Ag NFs)</text>
<text x="1858.5" y="1308.0" font-size="31" fill="#231f20" text-anchor="start" font-weight="bold">Silk film</text>
<text x="1858.5" y="1345.0" font-size="31" fill="#231f20" text-anchor="start" font-weight="bold">(80 µm silk film)</text>
<rect x="1006" y="1381.6" width="472.5999999999999" height="372.4000000000001" fill="#fff" stroke="#111" stroke-width="4"/>
<line x1="994.0" y1="1413.9" x2="1006.0" y2="1413.9" stroke="#111" stroke-width="3.5"/>
<line x1="994.0" y1="1477.2" x2="1006.0" y2="1477.2" stroke="#111" stroke-width="3.5"/>
<line x1="994.0" y1="1540.6" x2="1006.0" y2="1540.6" stroke="#111" stroke-width="3.5"/>
<line x1="994.0" y1="1603.9" x2="1006.0" y2="1603.9" stroke="#111" stroke-width="3.5"/>
<line x1="994.0" y1="1667.3" x2="1006.0" y2="1667.3" stroke="#111" stroke-width="3.5"/>
<line x1="994.0" y1="1730.6" x2="1006.0" y2="1730.6" stroke="#111" stroke-width="3.5"/>
<line x1="998.0" y1="1445.6" x2="1006.0" y2="1445.6" stroke="#111" stroke-width="3"/>
<line x1="998.0" y1="1508.9" x2="1006.0" y2="1508.9" stroke="#111" stroke-width="3"/>
<line x1="998.0" y1="1572.3" x2="1006.0" y2="1572.3" stroke="#111" stroke-width="3"/>
<line x1="998.0" y1="1635.6" x2="1006.0" y2="1635.6" stroke="#111" stroke-width="3"/>
<line x1="998.0" y1="1698.9" x2="1006.0" y2="1698.9" stroke="#111" stroke-width="3"/>
<text x="988.0" y="1424.4" font-size="30.5" fill="#231f20" text-anchor="end" font-weight="bold">1.0</text>
<text x="988.0" y="1487.7" font-size="30.5" fill="#231f20" text-anchor="end" font-weight="bold">0.8</text>
<text x="988.0" y="1551.1" font-size="30.5" fill="#231f20" text-anchor="end" font-weight="bold">0.6</text>
<text x="988.0" y="1614.4" font-size="30.5" fill="#231f20" text-anchor="end" font-weight="bold">0.4</text>
<text x="988.0" y="1677.8" font-size="30.5" fill="#231f20" text-anchor="end" font-weight="bold">0.2</text>
<text x="988.0" y="1741.1" font-size="30.5" fill="#231f20" text-anchor="end" font-weight="bold">0.0</text>
<line x1="1011.4" y1="1754.0" x2="1011.4" y2="1766.0" stroke="#111" stroke-width="3.5"/>
<line x1="1078.1" y1="1754.0" x2="1078.1" y2="1766.0" stroke="#111" stroke-width="3.5"/>
<line x1="1144.9" y1="1754.0" x2="1144.9" y2="1766.0" stroke="#111" stroke-width="3.5"/>
<line x1="1211.6" y1="1754.0" x2="1211.6" y2="1766.0" stroke="#111" stroke-width="3.5"/>
<line x1="1278.4" y1="1754.0" x2="1278.4" y2="1766.0" stroke="#111" stroke-width="3.5"/>
<line x1="1345.1" y1="1754.0" x2="1345.1" y2="1766.0" stroke="#111" stroke-width="3.5"/>
<line x1="1411.8" y1="1754.0" x2="1411.8" y2="1766.0" stroke="#111" stroke-width="3.5"/>
<line x1="1478.6" y1="1754.0" x2="1478.6" y2="1766.0" stroke="#111" stroke-width="3.5"/>
<line x1="1044.8" y1="1754.0" x2="1044.8" y2="1762.0" stroke="#111" stroke-width="3"/>
<line x1="1111.5" y1="1754.0" x2="1111.5" y2="1762.0" stroke="#111" stroke-width="3"/>
<line x1="1178.2" y1="1754.0" x2="1178.2" y2="1762.0" stroke="#111" stroke-width="3"/>
<line x1="1245.0" y1="1754.0" x2="1245.0" y2="1762.0" stroke="#111" stroke-width="3"/>
<line x1="1311.7" y1="1754.0" x2="1311.7" y2="1762.0" stroke="#111" stroke-width="3"/>
<line x1="1378.5" y1="1754.0" x2="1378.5" y2="1762.0" stroke="#111" stroke-width="3"/>
<line x1="1445.2" y1="1754.0" x2="1445.2" y2="1762.0" stroke="#111" stroke-width="3"/>
<text x="1011.4" y="1802.5" font-size="30.5" fill="#231f20" text-anchor="middle" font-weight="bold">0</text>
<text x="1078.1" y="1802.5" font-size="30.5" fill="#231f20" text-anchor="middle" font-weight="bold">100</text>
<text x="1144.9" y="1802.5" font-size="30.5" fill="#231f20" text-anchor="middle" font-weight="bold">200</text>
<text x="1211.6" y="1802.5" font-size="30.5" fill="#231f20" text-anchor="middle" font-weight="bold">300</text>
<text x="1278.4" y="1802.5" font-size="30.5" fill="#231f20" text-anchor="middle" font-weight="bold">400</text>
<text x="1345.1" y="1802.5" font-size="30.5" fill="#231f20" text-anchor="middle" font-weight="bold">500</text>
<text x="1411.8" y="1802.5" font-size="30.5" fill="#231f20" text-anchor="middle" font-weight="bold">600</text>
<text x="1478.6" y="1802.5" font-size="30.5" fill="#231f20" text-anchor="middle" font-weight="bold">700</text>
<text x="1252.0" y="1840.5" font-size="30.5" fill="#231f20" text-anchor="middle" font-weight="bold">P/kPa</text>
<text x="935.5" y="1565.6" font-size="30.5" fill="#231f20" text-anchor="middle" font-weight="bold" transform="rotate(-90 935.5 1565.6)">ΔC/C<tspan font-size="20" dy="6">0</tspan></text>
<path d="M1199.7,1712.7 L1238.2,1622 C1255,1610 1270,1605 1283.5,1607 C1305,1609 1320,1613 1330.2,1619.3 C1350,1630 1358,1640 1368.7,1641.3 C1395,1644 1420,1640 1440.1,1637.2 L1390.7,1726.5 C1370,1726 1350,1724 1311,1710 C1295,1700 1290,1690 1280.7,1688 C1270,1680 1260,1679 1256,1679.8 C1230,1685 1210,1700 1199.7,1712.7 Z" fill="#cfd0d4" stroke="none" stroke-width="0" filter="url(#blur1)"/>
<path d="M1199.7,1712.7 C1210,1700 1230,1685 1256,1679.8 C1266,1679 1275,1682 1283,1690 C1292,1698 1300,1706 1311,1710 C1330,1718 1350,1724 1390.7,1726.5" fill="none" stroke="#3b3f92" stroke-width="6.5"/>
<polygon points="1367.3,1510.8 1382.4,1510.8 1382.4,1578.0 1397.5,1578.0 1375.0,1627.5 1352.2,1578.0 1367.3,1578.0" fill="#6b3fa5" stroke="none" stroke-width="0"/>
<text x="1307.0" y="1484.7" font-size="30.5" fill="#231f20" text-anchor="start" font-weight="bold">Pressure</text>
<polyline points="1010.0,1732.0 1010.3,1728.9 1010.7,1724.9 1011.2,1720.3 1011.8,1715.0 1012.4,1709.3 1013.0,1703.4 1013.7,1697.3 1014.3,1691.3 1015.0,1685.4 1015.6,1679.8 1016.2,1674.4 1016.9,1668.8 1017.5,1663.1 1018.2,1657.3 1018.8,1651.6 1019.5,1645.9 1020.2,1640.4 1020.9,1635.0 1021.7,1629.8 1022.4,1624.8 1023.2,1620.0 1023.9,1615.4 1024.7,1610.9 1025.5,1606.5 1026.3,1602.3 1027.1,1598.2 1028.0,1594.3 1028.8,1590.6 1029.8,1587.0 1030.7,1583.6 1031.6,1580.5 1032.6,1577.6 1033.5,1575.0 1034.4,1572.5 1035.3,1570.2 1036.4,1567.9 1037.5,1565.7 1038.8,1563.5 1040.1,1561.2 1041.7,1558.8 1043.4,1556.3 1045.3,1553.8 1047.3,1551.2 1049.4,1548.6 1051.7,1546.1 1054.0,1543.6 1056.4,1541.1 1058.8,1538.7 1061.2,1536.3 1063.7,1534.1 1066.2,1531.9 1068.8,1529.9 1071.5,1527.9 1074.3,1525.9 1077.1,1524.0 1079.9,1522.1 1082.7,1520.3 1085.5,1518.5 1088.3,1516.7 1091.1,1514.9 1093.8,1513.2 1096.4,1511.5 1098.9,1509.8 1101.4,1508.2 1104.0,1506.7 1106.6,1505.1 1109.3,1503.5 1112.2,1501.8 1115.3,1500.1 1118.6,1498.4 1122.1,1496.6 1125.7,1494.7 1129.5,1492.8 1133.4,1490.9 1137.5,1489.0 1141.7,1487.0 1146.0,1485.1 1150.5,1483.1 1155.1,1481.1 1159.8,1479.2 1164.6,1477.3 1169.5,1475.5 1174.4,1473.7 1179.5,1471.9 1184.7,1470.1 1190.2,1468.2 1195.9,1466.3 1201.8,1464.3 1208.1,1462.2 1214.8,1459.9 1221.9,1457.4 1229.5,1454.8 1237.5,1452.0 1245.8,1449.1 1254.3,1446.1 1262.9,1443.2 1271.6,1440.3 1280.3,1437.5 1288.8,1434.9 1297.2,1432.4 1305.4,1430.1 1313.4,1428.0 1321.4,1426.0 1329.4,1424.1 1337.4,1422.3 1345.5,1420.5 1353.7,1418.7 1362.1,1416.9 1370.8,1415.1 1379.7,1413.2 1389.4,1411.2 1400.0,1409.1 1411.3,1406.8 1422.8,1404.6 1434.3,1402.4 1445.4,1400.3 1455.7,1398.3 1464.9,1396.6 1472.6,1395.1 1478.6,1394.0" fill="none" stroke="#0a0a0a" stroke-width="7" stroke-linejoin="round" stroke-linecap="round"/>
<line x1="1025.2" y1="1504.4" x2="1478.6" y2="1393.5" stroke="#2a3a8a" stroke-width="2.5"/>
<line x1="1010.0" y1="1733.3" x2="1037.6" y2="1502.5" stroke="#e03a3a" stroke-width="2.5"/>
<text x="1020.8" y="1426.0" font-size="30.5" fill="#3a4a9a" text-anchor="start" font-weight="bold">S=5.503 7E<tspan font-size="19" dy="-12">−4</tspan><tspan dy="12"> KPa</tspan><tspan font-size="19" dy="-12">−1</tspan></text>
<text x="1085.6" y="1547.9" font-size="30.5" fill="#d9252b" text-anchor="start" font-weight="bold">S=0.018 87 KPa<tspan font-size="19" dy="-12">−1</tspan></text>
<rect x="1599.3" y="1382.9" width="479.0000000000002" height="374.0999999999999" fill="#fff" stroke="#111" stroke-width="4"/>
<line x1="1587.3" y1="1404.8" x2="1599.3" y2="1404.8" stroke="#111" stroke-width="3.5"/>
<line x1="1587.3" y1="1487.6" x2="1599.3" y2="1487.6" stroke="#111" stroke-width="3.5"/>
<line x1="1587.3" y1="1570.4" x2="1599.3" y2="1570.4" stroke="#111" stroke-width="3.5"/>
<line x1="1587.3" y1="1653.2" x2="1599.3" y2="1653.2" stroke="#111" stroke-width="3.5"/>
<line x1="1587.3" y1="1736.0" x2="1599.3" y2="1736.0" stroke="#111" stroke-width="3.5"/>
<line x1="1591.3" y1="1446.2" x2="1599.3" y2="1446.2" stroke="#111" stroke-width="3"/>
<line x1="1591.3" y1="1529.0" x2="1599.3" y2="1529.0" stroke="#111" stroke-width="3"/>
<line x1="1591.3" y1="1611.8" x2="1599.3" y2="1611.8" stroke="#111" stroke-width="3"/>
<line x1="1591.3" y1="1694.6" x2="1599.3" y2="1694.6" stroke="#111" stroke-width="3"/>
<text x="1586.0" y="1415.3" font-size="30.5" fill="#231f20" text-anchor="end" font-weight="bold">0.00</text>
<text x="1586.0" y="1498.1" font-size="30.5" fill="#231f20" text-anchor="end" font-weight="bold">−0.04</text>
<text x="1586.0" y="1580.9" font-size="30.5" fill="#231f20" text-anchor="end" font-weight="bold">−0.08</text>
<text x="1586.0" y="1663.7" font-size="30.5" fill="#231f20" text-anchor="end" font-weight="bold">−0.12</text>
<text x="1586.0" y="1746.5" font-size="30.5" fill="#231f20" text-anchor="end" font-weight="bold">−0.16</text>
<line x1="1617.5" y1="1757.0" x2="1617.5" y2="1769.0" stroke="#111" stroke-width="3.5"/>
<line x1="1709.5" y1="1757.0" x2="1709.5" y2="1769.0" stroke="#111" stroke-width="3.5"/>
<line x1="1801.5" y1="1757.0" x2="1801.5" y2="1769.0" stroke="#111" stroke-width="3.5"/>
<line x1="1893.4" y1="1757.0" x2="1893.4" y2="1769.0" stroke="#111" stroke-width="3.5"/>
<line x1="1985.4" y1="1757.0" x2="1985.4" y2="1769.0" stroke="#111" stroke-width="3.5"/>
<line x1="2077.4" y1="1757.0" x2="2077.4" y2="1769.0" stroke="#111" stroke-width="3.5"/>
<line x1="1663.5" y1="1757.0" x2="1663.5" y2="1765.0" stroke="#111" stroke-width="3"/>
<line x1="1755.5" y1="1757.0" x2="1755.5" y2="1765.0" stroke="#111" stroke-width="3"/>
<line x1="1847.5" y1="1757.0" x2="1847.5" y2="1765.0" stroke="#111" stroke-width="3"/>
<line x1="1939.4" y1="1757.0" x2="1939.4" y2="1765.0" stroke="#111" stroke-width="3"/>
<line x1="2031.4" y1="1757.0" x2="2031.4" y2="1765.0" stroke="#111" stroke-width="3"/>
<text x="1617.5" y="1802.5" font-size="30.5" fill="#231f20" text-anchor="middle" font-weight="bold">0</text>
<text x="1709.5" y="1802.5" font-size="30.5" fill="#231f20" text-anchor="middle" font-weight="bold">10</text>
<text x="1801.5" y="1802.5" font-size="30.5" fill="#231f20" text-anchor="middle" font-weight="bold">20</text>
<text x="1893.4" y="1802.5" font-size="30.5" fill="#231f20" text-anchor="middle" font-weight="bold">30</text>
<text x="1985.4" y="1802.5" font-size="30.5" fill="#231f20" text-anchor="middle" font-weight="bold">40</text>
<text x="2077.4" y="1802.5" font-size="30.5" fill="#231f20" text-anchor="middle" font-weight="bold">50</text>
<text x="1836.0" y="1843.0" font-size="30.5" fill="#231f20" text-anchor="middle" font-weight="bold">Strain/%</text>
<text x="1508.0" y="1566.0" font-size="30.5" fill="#231f20" text-anchor="middle" font-weight="bold" transform="rotate(-90 1508.0 1566.0)">ΔC/C<tspan font-size="20" dy="6">0</tspan></text>
<path d="M1679.2,1617.7 C1685,1612 1690,1607 1691.7,1603.6 C1710,1590 1725,1575 1741.8,1569.2 C1755,1566 1765,1567 1773.1,1569.2 C1790,1575 1800,1595 1823.2,1619.3 C1835,1632 1845,1640 1879.5,1645.9 L1813.8,1692.8 C1800,1690 1790,1680 1773.1,1663.1 C1760,1645 1755,1630 1732.4,1614.6 C1715,1606 1695,1610 1679.2,1617.7 Z" fill="#cfd0d4" stroke="none" stroke-width="0" filter="url(#blur1)"/>
<path d="M1679.2,1617.7 C1695,1610 1715,1606 1732.4,1614.6 C1752,1628 1760,1648 1773.1,1663.1 C1788,1680 1800,1690 1813.8,1692.8" fill="none" stroke="#3b3f92" stroke-width="4"/>
<polygon points="1711.7,1576.9 1669.6,1537.8 1676.1,1530.9 1643.2,1522.2 1654.3,1554.3 1660.8,1547.4 1702.9,1586.5" fill="#6b3fa5" stroke="none" stroke-width="0"/>
<polygon points="1846.6,1679.9 1882.8,1720.2 1875.7,1726.6 1907.7,1738.2 1899.5,1705.2 1892.5,1711.5 1856.2,1671.3" fill="#6b3fa5" stroke="none" stroke-width="0"/>
<text x="1679.0" y="1689.7" font-size="30.5" fill="#231f20" text-anchor="start" font-weight="bold">Strain</text>
<text x="1859.2" y="1565.4" font-size="30.5" fill="#231f20" text-anchor="start" font-weight="bold">GF=0.387</text>
<line x1="1633.8" y1="1390.7" x2="2031.4" y2="1737.3" stroke="#d03535" stroke-width="3"/>
<circle cx="1617.5" cy="1404.8" r="6.5" fill="#111" stroke="none" stroke-width="0"/>
<circle cx="1616.0" cy="1403.0" r="2.3" fill="#c8c8c8" stroke="none" stroke-width="0"/>
<circle cx="1709.5" cy="1429.8" r="6.5" fill="#111" stroke="none" stroke-width="0"/>
<circle cx="1708.0" cy="1428.0" r="2.3" fill="#c8c8c8" stroke="none" stroke-width="0"/>
<circle cx="1755.2" cy="1461.1" r="6.5" fill="#111" stroke="none" stroke-width="0"/>
<circle cx="1753.7" cy="1459.3" r="2.3" fill="#c8c8c8" stroke="none" stroke-width="0"/>
<circle cx="1801.3" cy="1544.1" r="6.5" fill="#111" stroke="none" stroke-width="0"/>
<circle cx="1799.8" cy="1542.3" r="2.3" fill="#c8c8c8" stroke="none" stroke-width="0"/>
<circle cx="1847.6" cy="1584.2" r="6.5" fill="#111" stroke="none" stroke-width="0"/>
<circle cx="1846.1" cy="1582.4" r="2.3" fill="#c8c8c8" stroke="none" stroke-width="0"/>
<circle cx="1893.6" cy="1624.9" r="6.5" fill="#111" stroke="none" stroke-width="0"/>
<circle cx="1892.1" cy="1623.1" r="2.3" fill="#c8c8c8" stroke="none" stroke-width="0"/>
<circle cx="1939.0" cy="1653.7" r="6.5" fill="#111" stroke="none" stroke-width="0"/>
<circle cx="1937.5" cy="1651.9" r="2.3" fill="#c8c8c8" stroke="none" stroke-width="0"/>
<circle cx="1985.4" cy="1695.3" r="6.5" fill="#111" stroke="none" stroke-width="0"/>
<circle cx="1983.9" cy="1693.5" r="2.3" fill="#c8c8c8" stroke="none" stroke-width="0"/>
<circle cx="2031.4" cy="1737.3" r="6.5" fill="#111" stroke="none" stroke-width="0"/>
<circle cx="2029.9" cy="1735.5" r="2.3" fill="#c8c8c8" stroke="none" stroke-width="0"/>
<circle cx="1876.4" cy="1417.3" r="6.5" fill="#111" stroke="none" stroke-width="0"/>
<circle cx="1874.9" cy="1415.5" r="2.3" fill="#c8c8c8" stroke="none" stroke-width="0"/>
<text x="1903.0" y="1425.1" font-size="26.5" fill="#231f20" text-anchor="start" font-weight="bold">Tensile strain</text>
<line x1="1856.0" y1="1451.8" x2="1899.0" y2="1451.8" stroke="#d03535" stroke-width="3.5"/>
<text x="1901.0" y="1456.5" font-size="26.5" fill="#231f20" text-anchor="start" font-weight="bold">Fitted</text>
<text x="15.1" y="35.1" font-size="40.5" fill="#da2128" text-anchor="start" font-weight="bold">(a)</text>
<text x="665.6" y="35.6" font-size="40.5" fill="#da2128" text-anchor="start" font-weight="bold">(b)</text>
<text x="1442.0" y="34.5" font-size="40.5" fill="#da2128" text-anchor="start" font-weight="bold">(c)</text>
<text x="14.4" y="556.0" font-size="40.5" fill="#da2128" text-anchor="start" font-weight="bold">(d)</text>
<text x="692.2" y="557.3" font-size="40.5" fill="#da2128" text-anchor="start" font-weight="bold">(e)</text>
<text x="1426.1" y="557.5" font-size="40.5" fill="#da2128" text-anchor="start" font-weight="bold">(f)</text>
<text x="-2.0" y="1003.5" font-size="40.5" fill="#da2128" text-anchor="start" font-weight="bold">(g)</text>
<text x="280.0" y="1015.8" font-size="40.5" fill="#da2128" text-anchor="start" font-weight="bold">(h)</text>
<text x="318.0" y="1362.0" font-size="40.5" fill="#da2128" text-anchor="start" font-weight="bold">(i)</text>
<text x="636.0" y="1362.0" font-size="40.5" fill="#da2128" text-anchor="start" font-weight="bold">(j)</text>
<text x="318.0" y="1608.5" font-size="40.5" fill="#da2128" text-anchor="start" font-weight="bold">(k)</text>
<text x="636.0" y="1608.5" font-size="40.5" fill="#da2128" text-anchor="start" font-weight="bold">(l)</text>
<text x="932.2" y="1085.7" font-size="40.5" fill="#da2128" text-anchor="start" font-weight="bold">(m)</text>
<text x="1424.0" y="1085.7" font-size="40.5" fill="#da2128" text-anchor="start" font-weight="bold">(n)</text>
<text x="909.3" y="1389.0" font-size="40.5" fill="#da2128" text-anchor="start" font-weight="bold">(o)</text>
<text x="1480.3" y="1389.0" font-size="40.5" fill="#da2128" text-anchor="start" font-weight="bold">(p)</text>
</svg></body></html>
